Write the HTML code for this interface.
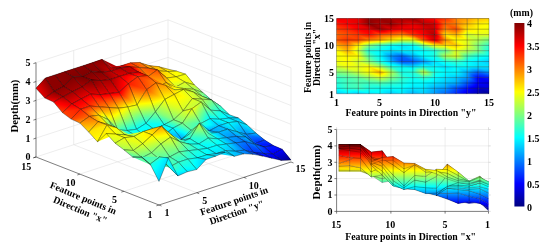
<!DOCTYPE html><html><head><meta charset="utf-8"><style>html,body{margin:0;padding:0;background:#fff;}svg{display:block;}text{font-family:"Liberation Serif",serif;font-weight:bold;fill:#000;}</style></head><body>
<svg width="550" height="250" viewBox="0 0 550 250">
<defs><linearGradient id="a0" gradientUnits="userSpaceOnUse" x1="176.8" y1="71.2" x2="175.1" y2="63.2"><stop offset="0" stop-color="#ffff00"/><stop offset="1" stop-color="#ffbf00"/></linearGradient><linearGradient id="a1" gradientUnits="userSpaceOnUse" x1="176.8" y1="71.2" x2="176.7" y2="71.7"><stop offset="0" stop-color="#ffff00"/><stop offset="1" stop-color="#ffbf00"/></linearGradient><linearGradient id="a2" gradientUnits="userSpaceOnUse" x1="185.6" y1="74.1" x2="167.3" y2="72.6"><stop offset="0" stop-color="#f2ff0d"/><stop offset=".5" stop-color="#ffff00"/><stop offset="1" stop-color="#fff200"/></linearGradient><linearGradient id="a3" gradientUnits="userSpaceOnUse" x1="185.6" y1="74.1" x2="167.6" y2="70.4"><stop offset="0" stop-color="#f2ff0d"/><stop offset=".5" stop-color="#ffff00"/><stop offset="1" stop-color="#fff200"/></linearGradient><linearGradient id="a4" gradientUnits="userSpaceOnUse" x1="167.4" y1="71.5" x2="153.1" y2="76.6"><stop offset="0" stop-color="#fff200"/><stop offset="1" stop-color="#ff9900"/></linearGradient><linearGradient id="a5" gradientUnits="userSpaceOnUse" x1="167.4" y1="71.5" x2="156" y2="59.2"><stop offset="0" stop-color="#fff200"/><stop offset="1" stop-color="#ff9900"/></linearGradient><linearGradient id="a6" gradientUnits="userSpaceOnUse" x1="184.9" y1="82.1" x2="185.7" y2="79.6"><stop offset="0" stop-color="#e5ff1a"/><stop offset="1" stop-color="#ffff00"/></linearGradient><linearGradient id="a7" gradientUnits="userSpaceOnUse" x1="194.4" y1="84.9" x2="175.8" y2="84"><stop offset="0" stop-color="#e5ff1a"/><stop offset="1" stop-color="#ffff00"/></linearGradient><linearGradient id="a8" gradientUnits="userSpaceOnUse" x1="176.1" y1="76.8" x2="160.1" y2="67.2"><stop offset="0" stop-color="#ffff00"/><stop offset="1" stop-color="#ffbf00"/></linearGradient><linearGradient id="a9" gradientUnits="userSpaceOnUse" x1="176.1" y1="76.8" x2="172" y2="82"><stop offset="0" stop-color="#ffff00"/><stop offset="1" stop-color="#ffbf00"/></linearGradient><linearGradient id="a10" gradientUnits="userSpaceOnUse" x1="157.9" y1="70.8" x2="156.3" y2="73.3"><stop offset="0" stop-color="#ffbf00"/><stop offset="1" stop-color="#ff8000"/></linearGradient><linearGradient id="a11" gradientUnits="userSpaceOnUse" x1="157.9" y1="70.8" x2="156.1" y2="59.8"><stop offset="0" stop-color="#ffbf00"/><stop offset="1" stop-color="#ff8000"/></linearGradient><linearGradient id="a12" gradientUnits="userSpaceOnUse" x1="203.1" y1="92.7" x2="183.7" y2="89.4"><stop offset="0" stop-color="#80ff80"/><stop offset="1" stop-color="#e5ff1a"/></linearGradient><linearGradient id="a13" gradientUnits="userSpaceOnUse" x1="203.1" y1="92.7" x2="204.5" y2="87.9"><stop offset="0" stop-color="#80ff80"/><stop offset="1" stop-color="#e5ff1a"/></linearGradient><linearGradient id="a14" gradientUnits="userSpaceOnUse" x1="175.5" y1="87.1" x2="173.9" y2="76.9"><stop offset="0" stop-color="#ccff33"/><stop offset=".667" stop-color="#ffff00"/><stop offset="1" stop-color="#ffe500"/></linearGradient><linearGradient id="a15" gradientUnits="userSpaceOnUse" x1="184.9" y1="82.1" x2="166.5" y2="80.3"><stop offset="0" stop-color="#e5ff1a"/><stop offset=".5" stop-color="#ffff00"/><stop offset="1" stop-color="#ffe500"/></linearGradient><linearGradient id="a16" gradientUnits="userSpaceOnUse" x1="166.7" y1="78" x2="168.3" y2="73.7"><stop offset="0" stop-color="#ffe500"/><stop offset="1" stop-color="#ff4c00"/></linearGradient><linearGradient id="a17" gradientUnits="userSpaceOnUse" x1="166.7" y1="78" x2="156.9" y2="83.4"><stop offset="0" stop-color="#ffe500"/><stop offset="1" stop-color="#ff8000"/></linearGradient><linearGradient id="a18" gradientUnits="userSpaceOnUse" x1="148.5" y1="68.2" x2="145.1" y2="57.8"><stop offset="0" stop-color="#ff8000"/><stop offset="1" stop-color="#ff3300"/></linearGradient><linearGradient id="a19" gradientUnits="userSpaceOnUse" x1="139.7" y1="62.5" x2="136.8" y2="67"><stop offset="0" stop-color="#ff8000"/><stop offset="1" stop-color="#ff3300"/></linearGradient><linearGradient id="a20" gradientUnits="userSpaceOnUse" x1="211.9" y1="100.4" x2="202.5" y2="105.5"><stop offset="0" stop-color="#33ffcc"/><stop offset="1" stop-color="#b3ff4c"/></linearGradient><linearGradient id="a21" gradientUnits="userSpaceOnUse" x1="211.9" y1="100.4" x2="203.6" y2="84.2"><stop offset="0" stop-color="#33ffcc"/><stop offset="1" stop-color="#b3ff4c"/></linearGradient><linearGradient id="a22" gradientUnits="userSpaceOnUse" x1="193.7" y1="89.3" x2="193.6" y2="89.9"><stop offset="0" stop-color="#b3ff4c"/><stop offset="1" stop-color="#e5ff1a"/></linearGradient><linearGradient id="a23" gradientUnits="userSpaceOnUse" x1="193.7" y1="89.3" x2="192.9" y2="81.3"><stop offset="0" stop-color="#b3ff4c"/><stop offset="1" stop-color="#e5ff1a"/></linearGradient><linearGradient id="a24" gradientUnits="userSpaceOnUse" x1="175.5" y1="87.1" x2="159.9" y2="89.2"><stop offset="0" stop-color="#ccff33"/><stop offset=".222" stop-color="#ffff00"/><stop offset="1" stop-color="#ff4c00"/></linearGradient><linearGradient id="a25" gradientUnits="userSpaceOnUse" x1="175.5" y1="87.1" x2="173.1" y2="89"><stop offset="0" stop-color="#ccff33"/><stop offset=".222" stop-color="#ffff00"/><stop offset="1" stop-color="#ff4c00"/></linearGradient><linearGradient id="a26" gradientUnits="userSpaceOnUse" x1="147.9" y1="76.6" x2="151.7" y2="67.4"><stop offset="0" stop-color="#ff8000"/><stop offset="1" stop-color="#ff4c00"/></linearGradient><linearGradient id="a27" gradientUnits="userSpaceOnUse" x1="148.5" y1="68.2" x2="148.4" y2="68.8"><stop offset="0" stop-color="#ff8000"/><stop offset="1" stop-color="#ff4c00"/></linearGradient><linearGradient id="a28" gradientUnits="userSpaceOnUse" x1="139.1" y1="67.5" x2="139" y2="67.8"><stop offset="0" stop-color="#ff6600"/><stop offset=".667" stop-color="#ff0000"/><stop offset="1" stop-color="#cc0000"/></linearGradient><linearGradient id="a29" gradientUnits="userSpaceOnUse" x1="139.1" y1="67.5" x2="120.8" y2="66"><stop offset="0" stop-color="#ff6600"/><stop offset="1" stop-color="#ff0000"/></linearGradient><linearGradient id="a30" gradientUnits="userSpaceOnUse" x1="220.7" y1="106.3" x2="221.6" y2="104"><stop offset="0" stop-color="#1affe5"/><stop offset="1" stop-color="#80ff80"/></linearGradient><linearGradient id="a31" gradientUnits="userSpaceOnUse" x1="220.7" y1="106.3" x2="218.3" y2="109.3"><stop offset="0" stop-color="#1affe5"/><stop offset="1" stop-color="#80ff80"/></linearGradient><linearGradient id="a32" gradientUnits="userSpaceOnUse" x1="202.5" y1="96.5" x2="202.8" y2="95.8"><stop offset="0" stop-color="#80ff80"/><stop offset="1" stop-color="#e5ff1a"/></linearGradient><linearGradient id="a33" gradientUnits="userSpaceOnUse" x1="202.5" y1="96.5" x2="183.7" y2="94.7"><stop offset="0" stop-color="#80ff80"/><stop offset="1" stop-color="#e5ff1a"/></linearGradient><linearGradient id="a34" gradientUnits="userSpaceOnUse" x1="174.9" y1="89.8" x2="175" y2="82.8"><stop offset="0" stop-color="#ccff33"/><stop offset=".4" stop-color="#ffff00"/><stop offset="1" stop-color="#ffb300"/></linearGradient><linearGradient id="a35" gradientUnits="userSpaceOnUse" x1="175.5" y1="87.1" x2="176" y2="84.9"><stop offset="0" stop-color="#ccff33"/><stop offset=".4" stop-color="#ffff00"/><stop offset="1" stop-color="#ffb300"/></linearGradient><linearGradient id="a36" gradientUnits="userSpaceOnUse" x1="156.6" y1="87.6" x2="157" y2="76.9"><stop offset="0" stop-color="#ffe500"/><stop offset="1" stop-color="#ff8000"/></linearGradient><linearGradient id="a37" gradientUnits="userSpaceOnUse" x1="166.1" y1="82.6" x2="165.7" y2="69.5"><stop offset="0" stop-color="#ffb300"/><stop offset="1" stop-color="#ff4c00"/></linearGradient><linearGradient id="a38" gradientUnits="userSpaceOnUse" x1="147.9" y1="76.6" x2="147.3" y2="77.5"><stop offset="0" stop-color="#ff8000"/><stop offset=".714" stop-color="#ff0000"/><stop offset="1" stop-color="#cc0000"/></linearGradient><linearGradient id="a39" gradientUnits="userSpaceOnUse" x1="147.9" y1="76.6" x2="141.6" y2="81.6"><stop offset="0" stop-color="#ff8000"/><stop offset=".714" stop-color="#ff0000"/><stop offset="1" stop-color="#cc0000"/></linearGradient><linearGradient id="a40" gradientUnits="userSpaceOnUse" x1="111.4" y1="67.6" x2="111.5" y2="68.6"><stop offset="0" stop-color="#e50000"/><stop offset="1" stop-color="#ac0000"/></linearGradient><linearGradient id="a41" gradientUnits="userSpaceOnUse" x1="120.9" y1="65.8" x2="121" y2="67.6"><stop offset="0" stop-color="#ff0000"/><stop offset="1" stop-color="#cc0000"/></linearGradient><linearGradient id="a42" gradientUnits="userSpaceOnUse" x1="229.5" y1="114.8" x2="231.4" y2="103.2"><stop offset="0" stop-color="#00ffff"/><stop offset="1" stop-color="#80ff80"/></linearGradient><linearGradient id="a43" gradientUnits="userSpaceOnUse" x1="229.5" y1="114.8" x2="227.1" y2="117"><stop offset="0" stop-color="#00ffff"/><stop offset="1" stop-color="#80ff80"/></linearGradient><linearGradient id="a44" gradientUnits="userSpaceOnUse" x1="211.3" y1="99.9" x2="192.5" y2="98.1"><stop offset="0" stop-color="#80ff80"/><stop offset="1" stop-color="#e5ff1a"/></linearGradient><linearGradient id="a45" gradientUnits="userSpaceOnUse" x1="202.5" y1="96.5" x2="202.8" y2="95.8"><stop offset="0" stop-color="#80ff80"/><stop offset="1" stop-color="#e5ff1a"/></linearGradient><linearGradient id="a46" gradientUnits="userSpaceOnUse" x1="174.9" y1="89.8" x2="175.6" y2="87.2"><stop offset="0" stop-color="#ccff33"/><stop offset="1" stop-color="#e5ff1a"/></linearGradient><linearGradient id="a47" gradientUnits="userSpaceOnUse" x1="174.9" y1="89.8" x2="176.5" y2="85.6"><stop offset="0" stop-color="#ccff33"/><stop offset="1" stop-color="#e5ff1a"/></linearGradient><linearGradient id="a48" gradientUnits="userSpaceOnUse" x1="174.9" y1="89.8" x2="174.9" y2="85.3"><stop offset="0" stop-color="#ccff33"/><stop offset=".333" stop-color="#ffff00"/><stop offset="1" stop-color="#ff9900"/></linearGradient><linearGradient id="a49" gradientUnits="userSpaceOnUse" x1="174.9" y1="89.8" x2="173.5" y2="81.4"><stop offset="0" stop-color="#ccff33"/><stop offset=".4" stop-color="#ffff00"/><stop offset="1" stop-color="#ffb300"/></linearGradient><linearGradient id="a50" gradientUnits="userSpaceOnUse" x1="156.6" y1="87.6" x2="139.7" y2="70.8"><stop offset="0" stop-color="#ffe500"/><stop offset=".818" stop-color="#ff0000"/><stop offset="1" stop-color="#cc0000"/></linearGradient><linearGradient id="a51" gradientUnits="userSpaceOnUse" x1="156.6" y1="87.6" x2="146.3" y2="91.7"><stop offset="0" stop-color="#ffe500"/><stop offset=".818" stop-color="#ff0000"/><stop offset="1" stop-color="#cc0000"/></linearGradient><linearGradient id="a52" gradientUnits="userSpaceOnUse" x1="238.3" y1="117.9" x2="228.2" y2="104.7"><stop offset="0" stop-color="#00ccff"/><stop offset=".667" stop-color="#00ffff"/><stop offset="1" stop-color="#1affe5"/></linearGradient><linearGradient id="a53" gradientUnits="userSpaceOnUse" x1="238.3" y1="117.9" x2="237.7" y2="119.2"><stop offset="0" stop-color="#00ccff"/><stop offset=".667" stop-color="#00ffff"/><stop offset="1" stop-color="#1affe5"/></linearGradient><linearGradient id="a54" gradientUnits="userSpaceOnUse" x1="129" y1="73.3" x2="128.8" y2="67.8"><stop offset="0" stop-color="#d20000"/><stop offset="1" stop-color="#ac0000"/></linearGradient><linearGradient id="a55" gradientUnits="userSpaceOnUse" x1="129.6" y1="66.8" x2="126.6" y2="71.9"><stop offset="0" stop-color="#cc0000"/><stop offset="1" stop-color="#ac0000"/></linearGradient><linearGradient id="a56" gradientUnits="userSpaceOnUse" x1="110.8" y1="71.1" x2="111.9" y2="60.4"><stop offset="0" stop-color="#bf0000"/><stop offset="1" stop-color="#8c0000"/></linearGradient><linearGradient id="a57" gradientUnits="userSpaceOnUse" x1="111.4" y1="67.6" x2="113" y2="63.6"><stop offset="0" stop-color="#e50000"/><stop offset="1" stop-color="#8c0000"/></linearGradient><linearGradient id="a58" gradientUnits="userSpaceOnUse" x1="220.1" y1="110.9" x2="205.6" y2="95.7"><stop offset="0" stop-color="#1affe5"/><stop offset="1" stop-color="#b3ff4c"/></linearGradient><linearGradient id="a59" gradientUnits="userSpaceOnUse" x1="220.1" y1="110.9" x2="205.6" y2="95.7"><stop offset="0" stop-color="#1affe5"/><stop offset="1" stop-color="#b3ff4c"/></linearGradient><linearGradient id="a60" gradientUnits="userSpaceOnUse" x1="201.9" y1="99.2" x2="197.3" y2="103.6"><stop offset="0" stop-color="#b3ff4c"/><stop offset="1" stop-color="#e5ff1a"/></linearGradient><linearGradient id="a61" gradientUnits="userSpaceOnUse" x1="201.9" y1="99.2" x2="203.1" y2="94.8"><stop offset="0" stop-color="#b3ff4c"/><stop offset="1" stop-color="#e5ff1a"/></linearGradient><linearGradient id="a62" gradientUnits="userSpaceOnUse" x1="183.6" y1="89.5" x2="166" y2="83.7"><stop offset="0" stop-color="#e5ff1a"/><stop offset=".2" stop-color="#ffff00"/><stop offset="1" stop-color="#ff9900"/></linearGradient><linearGradient id="a63" gradientUnits="userSpaceOnUse" x1="174.9" y1="89.8" x2="175" y2="85.7"><stop offset="0" stop-color="#ccff33"/><stop offset=".333" stop-color="#ffff00"/><stop offset="1" stop-color="#ff9900"/></linearGradient><linearGradient id="a64" gradientUnits="userSpaceOnUse" x1="165.4" y1="85.3" x2="165.7" y2="76.1"><stop offset="0" stop-color="#ff9900"/><stop offset="1" stop-color="#ff3300"/></linearGradient><linearGradient id="a65" gradientUnits="userSpaceOnUse" x1="156.6" y1="87.6" x2="158.8" y2="78.2"><stop offset="0" stop-color="#ffe500"/><stop offset="1" stop-color="#ff3300"/></linearGradient><linearGradient id="a66" gradientUnits="userSpaceOnUse" x1="238.3" y1="117.9" x2="237.1" y2="121.2"><stop offset="0" stop-color="#00ccff"/><stop offset="1" stop-color="#00e5ff"/></linearGradient><linearGradient id="a67" gradientUnits="userSpaceOnUse" x1="228.9" y1="118.1" x2="219.9" y2="104.2"><stop offset="0" stop-color="#00e5ff"/><stop offset=".25" stop-color="#00ffff"/><stop offset="1" stop-color="#4dffb2"/></linearGradient><linearGradient id="a68" gradientUnits="userSpaceOnUse" x1="228.9" y1="118.1" x2="210" y2="116.3"><stop offset="0" stop-color="#00e5ff"/><stop offset=".25" stop-color="#00ffff"/><stop offset="1" stop-color="#4dffb2"/></linearGradient><linearGradient id="a69" gradientUnits="userSpaceOnUse" x1="119.6" y1="76.4" x2="118.6" y2="69.9"><stop offset="0" stop-color="#d90000"/><stop offset="1" stop-color="#bf0000"/></linearGradient><linearGradient id="a70" gradientUnits="userSpaceOnUse" x1="129" y1="73.3" x2="128.8" y2="67.7"><stop offset="0" stop-color="#d20000"/><stop offset="1" stop-color="#ac0000"/></linearGradient><linearGradient id="a71" gradientUnits="userSpaceOnUse" x1="137.8" y1="76.7" x2="137.2" y2="72.3"><stop offset="0" stop-color="#ff3300"/><stop offset=".533" stop-color="#ff0000"/><stop offset="1" stop-color="#d20000"/></linearGradient><linearGradient id="a72" gradientUnits="userSpaceOnUse" x1="147.2" y1="75.6" x2="146.8" y2="71.3"><stop offset="0" stop-color="#ff3300"/><stop offset=".5" stop-color="#ff0000"/><stop offset="1" stop-color="#cc0000"/></linearGradient><linearGradient id="a73" gradientUnits="userSpaceOnUse" x1="110.8" y1="71.1" x2="105" y2="76.3"><stop offset="0" stop-color="#bf0000"/><stop offset="1" stop-color="#8c0000"/></linearGradient><linearGradient id="a74" gradientUnits="userSpaceOnUse" x1="110.8" y1="71.1" x2="106.2" y2="57.9"><stop offset="0" stop-color="#bf0000"/><stop offset="1" stop-color="#8c0000"/></linearGradient><linearGradient id="a75" gradientUnits="userSpaceOnUse" x1="210.6" y1="110.2" x2="212.2" y2="102.8"><stop offset="0" stop-color="#4dffb2"/><stop offset="1" stop-color="#e5ff1a"/></linearGradient><linearGradient id="a76" gradientUnits="userSpaceOnUse" x1="210.6" y1="110.2" x2="196.2" y2="95"><stop offset="0" stop-color="#4dffb2"/><stop offset="1" stop-color="#e5ff1a"/></linearGradient><linearGradient id="a77" gradientUnits="userSpaceOnUse" x1="183" y1="111" x2="173.8" y2="94.7"><stop offset="0" stop-color="#ccff33"/><stop offset=".667" stop-color="#ffff00"/><stop offset="1" stop-color="#ffe500"/></linearGradient><linearGradient id="a78" gradientUnits="userSpaceOnUse" x1="183.6" y1="89.5" x2="176.3" y2="96.6"><stop offset="0" stop-color="#e5ff1a"/><stop offset=".5" stop-color="#ffff00"/><stop offset="1" stop-color="#ffe500"/></linearGradient><linearGradient id="a79" gradientUnits="userSpaceOnUse" x1="164.8" y1="99.4" x2="162.2" y2="81.8"><stop offset="0" stop-color="#ffff00"/><stop offset="1" stop-color="#ff8000"/></linearGradient><linearGradient id="a80" gradientUnits="userSpaceOnUse" x1="174.2" y1="94.4" x2="173.3" y2="81.6"><stop offset="0" stop-color="#ffe500"/><stop offset="1" stop-color="#ff8000"/></linearGradient><linearGradient id="a81" gradientUnits="userSpaceOnUse" x1="246.4" y1="134.4" x2="249.7" y2="126.5"><stop offset="0" stop-color="#008cff"/><stop offset="1" stop-color="#00e5ff"/></linearGradient><linearGradient id="a82" gradientUnits="userSpaceOnUse" x1="255.9" y1="133" x2="257.4" y2="128.6"><stop offset="0" stop-color="#00bfff"/><stop offset="1" stop-color="#00e5ff"/></linearGradient><linearGradient id="a83" gradientUnits="userSpaceOnUse" x1="237.6" y1="121.5" x2="236" y2="125.8"><stop offset="0" stop-color="#00e5ff"/><stop offset="1" stop-color="#00ffff"/></linearGradient><linearGradient id="a84" gradientUnits="userSpaceOnUse" x1="228.9" y1="118.1" x2="227.2" y2="122.3"><stop offset="0" stop-color="#00e5ff"/><stop offset="1" stop-color="#00ffff"/></linearGradient><linearGradient id="a85" gradientUnits="userSpaceOnUse" x1="156" y1="82.8" x2="139" y2="85.2"><stop offset="0" stop-color="#ff8000"/><stop offset="1" stop-color="#ff3300"/></linearGradient><linearGradient id="a86" gradientUnits="userSpaceOnUse" x1="156" y1="82.8" x2="155" y2="74.6"><stop offset="0" stop-color="#ff8000"/><stop offset="1" stop-color="#ff3300"/></linearGradient><linearGradient id="a87" gradientUnits="userSpaceOnUse" x1="119.6" y1="76.4" x2="106.2" y2="82.6"><stop offset="0" stop-color="#d90000"/><stop offset="1" stop-color="#8c0000"/></linearGradient><linearGradient id="a88" gradientUnits="userSpaceOnUse" x1="119.6" y1="76.4" x2="109.2" y2="83.6"><stop offset="0" stop-color="#d90000"/><stop offset="1" stop-color="#8c0000"/></linearGradient><linearGradient id="a89" gradientUnits="userSpaceOnUse" x1="137.8" y1="76.7" x2="125.2" y2="68.1"><stop offset="0" stop-color="#ff3300"/><stop offset=".571" stop-color="#ff0000"/><stop offset="1" stop-color="#d90000"/></linearGradient><linearGradient id="a90" gradientUnits="userSpaceOnUse" x1="137.8" y1="76.7" x2="136.2" y2="71.3"><stop offset="0" stop-color="#ff3300"/><stop offset=".533" stop-color="#ff0000"/><stop offset="1" stop-color="#d20000"/></linearGradient><linearGradient id="a91" gradientUnits="userSpaceOnUse" x1="83.1" y1="65.7" x2="82.3" y2="68.1"><stop offset="0" stop-color="#8c0000"/><stop offset="1" stop-color="#800000"/></linearGradient><linearGradient id="a92" gradientUnits="userSpaceOnUse" x1="210" y1="118.6" x2="212.5" y2="103.9"><stop offset="0" stop-color="#00f2ff"/><stop offset=".06" stop-color="#00ffff"/><stop offset="1" stop-color="#c7ff38"/></linearGradient><linearGradient id="a93" gradientUnits="userSpaceOnUse" x1="219.4" y1="119.3" x2="215.9" y2="121.9"><stop offset="0" stop-color="#00ffff"/><stop offset="1" stop-color="#c7ff38"/></linearGradient><linearGradient id="a94" gradientUnits="userSpaceOnUse" x1="173.6" y1="119.8" x2="177.7" y2="102.5"><stop offset="0" stop-color="#80ff80"/><stop offset="1" stop-color="#ffff00"/></linearGradient><linearGradient id="a95" gradientUnits="userSpaceOnUse" x1="183" y1="111" x2="183.8" y2="94.9"><stop offset="0" stop-color="#ccff33"/><stop offset=".667" stop-color="#ffff00"/><stop offset="1" stop-color="#ffe500"/></linearGradient><linearGradient id="a96" gradientUnits="userSpaceOnUse" x1="201.2" y1="102" x2="202.1" y2="103.8"><stop offset="0" stop-color="#c7ff38"/><stop offset="1" stop-color="#faff05"/></linearGradient><linearGradient id="a97" gradientUnits="userSpaceOnUse" x1="201.2" y1="102" x2="197.5" y2="95.6"><stop offset="0" stop-color="#c7ff38"/><stop offset="1" stop-color="#e5ff1a"/></linearGradient><linearGradient id="a98" gradientUnits="userSpaceOnUse" x1="155.4" y1="111.9" x2="149.4" y2="88.9"><stop offset="0" stop-color="#87ff78"/><stop offset=".409" stop-color="#ffff00"/><stop offset="1" stop-color="#ff5200"/></linearGradient><linearGradient id="a99" gradientUnits="userSpaceOnUse" x1="164.8" y1="99.4" x2="146.2" y2="90.3"><stop offset="0" stop-color="#ffff00"/><stop offset="1" stop-color="#ff5200"/></linearGradient><linearGradient id="a100" gradientUnits="userSpaceOnUse" x1="255.2" y1="143.5" x2="254.2" y2="133.6"><stop offset="0" stop-color="#0026ff"/><stop offset="1" stop-color="#008cff"/></linearGradient><linearGradient id="a101" gradientUnits="userSpaceOnUse" x1="264.6" y1="140" x2="265.3" y2="134.1"><stop offset="0" stop-color="#0040ff"/><stop offset="1" stop-color="#00bfff"/></linearGradient><linearGradient id="a102" gradientUnits="userSpaceOnUse" x1="137.1" y1="104.9" x2="138.7" y2="84.3"><stop offset="0" stop-color="#f5ff0a"/><stop offset=".043" stop-color="#ffff00"/><stop offset="1" stop-color="#ff1c00"/></linearGradient><linearGradient id="a103" gradientUnits="userSpaceOnUse" x1="146.6" y1="89.6" x2="127.9" y2="86.4"><stop offset="0" stop-color="#ff5200"/><stop offset="1" stop-color="#ff1c00"/></linearGradient><linearGradient id="a104" gradientUnits="userSpaceOnUse" x1="128.4" y1="83.6" x2="109.9" y2="81.6"><stop offset="0" stop-color="#ff1c00"/><stop offset=".239" stop-color="#ff0000"/><stop offset="1" stop-color="#a60000"/></linearGradient><linearGradient id="a105" gradientUnits="userSpaceOnUse" x1="128.4" y1="83.6" x2="110.6" y2="78.1"><stop offset="0" stop-color="#ff1c00"/><stop offset=".239" stop-color="#ff0000"/><stop offset="1" stop-color="#a60000"/></linearGradient><linearGradient id="a106" gradientUnits="userSpaceOnUse" x1="246.4" y1="134.4" x2="236.9" y2="139.4"><stop offset="0" stop-color="#008cff"/><stop offset="1" stop-color="#00ffff"/></linearGradient><linearGradient id="a107" gradientUnits="userSpaceOnUse" x1="246.4" y1="134.4" x2="234.9" y2="118"><stop offset="0" stop-color="#008cff"/><stop offset="1" stop-color="#00ffff"/></linearGradient><linearGradient id="a108" gradientUnits="userSpaceOnUse" x1="164.1" y1="124.7" x2="167.4" y2="116.7"><stop offset="0" stop-color="#08fff7"/><stop offset="1" stop-color="#87ff78"/></linearGradient><linearGradient id="a109" gradientUnits="userSpaceOnUse" x1="173.6" y1="119.8" x2="179.2" y2="104.8"><stop offset="0" stop-color="#80ff80"/><stop offset="1" stop-color="#ffff00"/></linearGradient><linearGradient id="a110" gradientUnits="userSpaceOnUse" x1="218.8" y1="125.8" x2="220.3" y2="120.4"><stop offset="0" stop-color="#00bfff"/><stop offset="1" stop-color="#00ffff"/></linearGradient><linearGradient id="a111" gradientUnits="userSpaceOnUse" x1="210" y1="118.6" x2="211" y2="116"><stop offset="0" stop-color="#00f2ff"/><stop offset="1" stop-color="#00ffff"/></linearGradient><linearGradient id="a112" gradientUnits="userSpaceOnUse" x1="182.4" y1="123.2" x2="188.5" y2="107.5"><stop offset="0" stop-color="#80ff80"/><stop offset="1" stop-color="#faff05"/></linearGradient><linearGradient id="a113" gradientUnits="userSpaceOnUse" x1="173.6" y1="119.8" x2="187.8" y2="105"><stop offset="0" stop-color="#80ff80"/><stop offset="1" stop-color="#faff05"/></linearGradient><linearGradient id="a114" gradientUnits="userSpaceOnUse" x1="100.7" y1="80.6" x2="99.5" y2="70.6"><stop offset="0" stop-color="#a60000"/><stop offset="1" stop-color="#800000"/></linearGradient><linearGradient id="a115" gradientUnits="userSpaceOnUse" x1="110.1" y1="79.5" x2="102.2" y2="65.6"><stop offset="0" stop-color="#a60000"/><stop offset="1" stop-color="#800000"/></linearGradient><linearGradient id="a116" gradientUnits="userSpaceOnUse" x1="145.9" y1="123.4" x2="143.3" y2="104.1"><stop offset="0" stop-color="#0ffff0"/><stop offset="1" stop-color="#f5ff0a"/></linearGradient><linearGradient id="a117" gradientUnits="userSpaceOnUse" x1="155.4" y1="111.9" x2="153.2" y2="89"><stop offset="0" stop-color="#87ff78"/><stop offset=".409" stop-color="#ffff00"/><stop offset="1" stop-color="#ff5200"/></linearGradient><linearGradient id="a118" gradientUnits="userSpaceOnUse" x1="73.7" y1="68.7" x2="78.8" y2="78.4"><stop offset="0" stop-color="#8c0000"/><stop offset="1" stop-color="#800000"/></linearGradient><linearGradient id="a119" gradientUnits="userSpaceOnUse" x1="73.7" y1="68.7" x2="76.3" y2="76.6"><stop offset="0" stop-color="#8c0000"/><stop offset="1" stop-color="#800000"/></linearGradient><linearGradient id="a120" gradientUnits="userSpaceOnUse" x1="210" y1="118.6" x2="191.7" y2="108.9"><stop offset="0" stop-color="#00f2ff"/><stop offset=".049" stop-color="#00ffff"/><stop offset="1" stop-color="#faff05"/></linearGradient><linearGradient id="a121" gradientUnits="userSpaceOnUse" x1="210" y1="118.6" x2="192.9" y2="107.1"><stop offset="0" stop-color="#00f2ff"/><stop offset=".049" stop-color="#00ffff"/><stop offset="1" stop-color="#faff05"/></linearGradient><linearGradient id="a122" gradientUnits="userSpaceOnUse" x1="137.1" y1="104.9" x2="132.3" y2="88.4"><stop offset="0" stop-color="#f5ff0a"/><stop offset=".035" stop-color="#ffff00"/><stop offset=".912" stop-color="#ff0000"/><stop offset="1" stop-color="#e50000"/></linearGradient><linearGradient id="a123" gradientUnits="userSpaceOnUse" x1="137.1" y1="104.9" x2="117.8" y2="94.3"><stop offset="0" stop-color="#f5ff0a"/><stop offset=".035" stop-color="#ffff00"/><stop offset=".912" stop-color="#ff0000"/><stop offset="1" stop-color="#e50000"/></linearGradient><linearGradient id="a124" gradientUnits="userSpaceOnUse" x1="273.4" y1="145.5" x2="271.7" y2="149.9"><stop offset="0" stop-color="#000dff"/><stop offset="1" stop-color="#0026ff"/></linearGradient><linearGradient id="a125" gradientUnits="userSpaceOnUse" x1="273.4" y1="145.5" x2="273.1" y2="139.6"><stop offset="0" stop-color="#000dff"/><stop offset="1" stop-color="#0040ff"/></linearGradient><linearGradient id="a126" gradientUnits="userSpaceOnUse" x1="154.7" y1="129.7" x2="153.3" y2="122"><stop offset="0" stop-color="#03fffc"/><stop offset="1" stop-color="#0ffff0"/></linearGradient><linearGradient id="a127" gradientUnits="userSpaceOnUse" x1="164.1" y1="124.7" x2="164.5" y2="112.1"><stop offset="0" stop-color="#08fff7"/><stop offset="1" stop-color="#87ff78"/></linearGradient><linearGradient id="a128" gradientUnits="userSpaceOnUse" x1="255.2" y1="143.5" x2="255.6" y2="142.8"><stop offset="0" stop-color="#0026ff"/><stop offset="1" stop-color="#00d9ff"/></linearGradient><linearGradient id="a129" gradientUnits="userSpaceOnUse" x1="255.2" y1="143.5" x2="237.3" y2="131.4"><stop offset="0" stop-color="#0026ff"/><stop offset="1" stop-color="#00d9ff"/></linearGradient><linearGradient id="a130" gradientUnits="userSpaceOnUse" x1="172.9" y1="128.2" x2="175.6" y2="120.8"><stop offset="0" stop-color="#04fffb"/><stop offset="1" stop-color="#80ff80"/></linearGradient><linearGradient id="a131" gradientUnits="userSpaceOnUse" x1="164.1" y1="124.7" x2="167.1" y2="117.2"><stop offset="0" stop-color="#08fff7"/><stop offset="1" stop-color="#80ff80"/></linearGradient><linearGradient id="a132" gradientUnits="userSpaceOnUse" x1="109.5" y1="93.5" x2="107.8" y2="79.7"><stop offset="0" stop-color="#e50000"/><stop offset="1" stop-color="#a60000"/></linearGradient><linearGradient id="a133" gradientUnits="userSpaceOnUse" x1="118.9" y1="92.3" x2="117.2" y2="78.6"><stop offset="0" stop-color="#e50000"/><stop offset="1" stop-color="#a60000"/></linearGradient><linearGradient id="a134" gradientUnits="userSpaceOnUse" x1="136.5" y1="129.3" x2="126.5" y2="107.6"><stop offset="0" stop-color="#00ffff"/><stop offset="1" stop-color="#ffff00"/></linearGradient><linearGradient id="a135" gradientUnits="userSpaceOnUse" x1="145.9" y1="123.4" x2="139.3" y2="103.2"><stop offset="0" stop-color="#0ffff0"/><stop offset="1" stop-color="#ffff00"/></linearGradient><linearGradient id="a136" gradientUnits="userSpaceOnUse" x1="209.4" y1="130.8" x2="206.2" y2="121.6"><stop offset="0" stop-color="#00a6ff"/><stop offset=".583" stop-color="#00ffff"/><stop offset="1" stop-color="#40ffbf"/></linearGradient><linearGradient id="a137" gradientUnits="userSpaceOnUse" x1="218.8" y1="125.8" x2="202.1" y2="129.8"><stop offset="0" stop-color="#00bfff"/><stop offset=".5" stop-color="#00ffff"/><stop offset="1" stop-color="#40ffbf"/></linearGradient><linearGradient id="a138" gradientUnits="userSpaceOnUse" x1="227.6" y1="129.2" x2="227.9" y2="128.3"><stop offset="0" stop-color="#00bfff"/><stop offset="1" stop-color="#00d9ff"/></linearGradient><linearGradient id="a139" gradientUnits="userSpaceOnUse" x1="218.8" y1="125.8" x2="221.9" y2="119.6"><stop offset="0" stop-color="#00bfff"/><stop offset="1" stop-color="#00ffff"/></linearGradient><linearGradient id="a140" gradientUnits="userSpaceOnUse" x1="200.6" y1="123.6" x2="189.7" y2="114.4"><stop offset="0" stop-color="#40ffbf"/><stop offset="1" stop-color="#80ff80"/></linearGradient><linearGradient id="a141" gradientUnits="userSpaceOnUse" x1="200.6" y1="123.6" x2="195.7" y2="107.6"><stop offset="0" stop-color="#40ffbf"/><stop offset="1" stop-color="#faff05"/></linearGradient><linearGradient id="a142" gradientUnits="userSpaceOnUse" x1="100.7" y1="80.6" x2="99.7" y2="83.2"><stop offset="0" stop-color="#a60000"/><stop offset="1" stop-color="#800000"/></linearGradient><linearGradient id="a143" gradientUnits="userSpaceOnUse" x1="100.7" y1="80.6" x2="95.1" y2="69.9"><stop offset="0" stop-color="#a60000"/><stop offset="1" stop-color="#800000"/></linearGradient><linearGradient id="a144" gradientUnits="userSpaceOnUse" x1="64.3" y1="71.8" x2="64.4" y2="77"><stop offset="0" stop-color="#8c0000"/><stop offset="1" stop-color="#800000"/></linearGradient><linearGradient id="a145" gradientUnits="userSpaceOnUse" x1="64.3" y1="71.8" x2="67.4" y2="81.4"><stop offset="0" stop-color="#8c0000"/><stop offset="1" stop-color="#800000"/></linearGradient><linearGradient id="a146" gradientUnits="userSpaceOnUse" x1="127.7" y1="107" x2="117" y2="89"><stop offset="0" stop-color="#ffff00"/><stop offset=".909" stop-color="#ff0000"/><stop offset="1" stop-color="#e50000"/></linearGradient><linearGradient id="a147" gradientUnits="userSpaceOnUse" x1="127.7" y1="107" x2="125.8" y2="91.4"><stop offset="0" stop-color="#ffff00"/><stop offset=".909" stop-color="#ff0000"/><stop offset="1" stop-color="#e50000"/></linearGradient><linearGradient id="a148" gradientUnits="userSpaceOnUse" x1="136.5" y1="129.3" x2="137" y2="137.1"><stop offset="0" stop-color="#00ffff"/><stop offset="1" stop-color="#0dfff2"/></linearGradient><linearGradient id="a149" gradientUnits="userSpaceOnUse" x1="136.5" y1="129.3" x2="137" y2="122.7"><stop offset="0" stop-color="#00ffff"/><stop offset="1" stop-color="#0ffff0"/></linearGradient><linearGradient id="a150" gradientUnits="userSpaceOnUse" x1="272.8" y1="154.1" x2="270.4" y2="145.2"><stop offset="0" stop-color="#0000f2"/><stop offset=".25" stop-color="#0000ff"/><stop offset="1" stop-color="#0026ff"/></linearGradient><linearGradient id="a151" gradientUnits="userSpaceOnUse" x1="282.2" y1="149.2" x2="273.7" y2="157.2"><stop offset="0" stop-color="#0000ff"/><stop offset="1" stop-color="#0026ff"/></linearGradient><linearGradient id="a152" gradientUnits="userSpaceOnUse" x1="163.5" y1="135.9" x2="163" y2="128.9"><stop offset="0" stop-color="#00baff"/><stop offset=".947" stop-color="#00ffff"/><stop offset="1" stop-color="#04fffb"/></linearGradient><linearGradient id="a153" gradientUnits="userSpaceOnUse" x1="154.7" y1="129.7" x2="154.6" y2="124.9"><stop offset="0" stop-color="#03fffc"/><stop offset="1" stop-color="#08fff7"/></linearGradient><linearGradient id="a154" gradientUnits="userSpaceOnUse" x1="264" y1="146.9" x2="251.4" y2="151.7"><stop offset="0" stop-color="#0026ff"/><stop offset="1" stop-color="#00bfff"/></linearGradient><linearGradient id="a155" gradientUnits="userSpaceOnUse" x1="255.2" y1="143.5" x2="256.1" y2="141.2"><stop offset="0" stop-color="#0026ff"/><stop offset="1" stop-color="#00bfff"/></linearGradient><linearGradient id="a156" gradientUnits="userSpaceOnUse" x1="181.7" y1="139.1" x2="186.1" y2="128.3"><stop offset="0" stop-color="#0099ff"/><stop offset=".571" stop-color="#00ffff"/><stop offset="1" stop-color="#4cffb3"/></linearGradient><linearGradient id="a157" gradientUnits="userSpaceOnUse" x1="172.9" y1="128.2" x2="176" y2="120.6"><stop offset="0" stop-color="#04fffb"/><stop offset="1" stop-color="#80ff80"/></linearGradient><linearGradient id="a158" gradientUnits="userSpaceOnUse" x1="136.5" y1="129.3" x2="127.4" y2="104.8"><stop offset="0" stop-color="#00ffff"/><stop offset=".833" stop-color="#ffff00"/><stop offset="1" stop-color="#ffcc00"/></linearGradient><linearGradient id="a159" gradientUnits="userSpaceOnUse" x1="136.5" y1="129.3" x2="120" y2="106.9"><stop offset="0" stop-color="#00ffff"/><stop offset=".833" stop-color="#ffff00"/><stop offset="1" stop-color="#ffcc00"/></linearGradient><linearGradient id="a160" gradientUnits="userSpaceOnUse" x1="209.4" y1="130.8" x2="192.5" y2="135.4"><stop offset="0" stop-color="#00a6ff"/><stop offset=".538" stop-color="#00ffff"/><stop offset="1" stop-color="#4cffb3"/></linearGradient><linearGradient id="a161" gradientUnits="userSpaceOnUse" x1="209.4" y1="130.8" x2="201.5" y2="121.6"><stop offset="0" stop-color="#00a6ff"/><stop offset=".538" stop-color="#00ffff"/><stop offset="1" stop-color="#4cffb3"/></linearGradient><linearGradient id="a162" gradientUnits="userSpaceOnUse" x1="100.1" y1="94.7" x2="98.1" y2="79.1"><stop offset="0" stop-color="#e50000"/><stop offset="1" stop-color="#800000"/></linearGradient><linearGradient id="a163" gradientUnits="userSpaceOnUse" x1="109.5" y1="93.5" x2="90.1" y2="82"><stop offset="0" stop-color="#e50000"/><stop offset="1" stop-color="#800000"/></linearGradient><linearGradient id="a164" gradientUnits="userSpaceOnUse" x1="236.4" y1="136.4" x2="237.6" y2="133.6"><stop offset="0" stop-color="#008cff"/><stop offset="1" stop-color="#00bfff"/></linearGradient><linearGradient id="a165" gradientUnits="userSpaceOnUse" x1="227.6" y1="129.2" x2="228.1" y2="128"><stop offset="0" stop-color="#00bfff"/><stop offset="1" stop-color="#00d9ff"/></linearGradient><linearGradient id="a166" gradientUnits="userSpaceOnUse" x1="209.4" y1="130.8" x2="210.7" y2="134.7"><stop offset="0" stop-color="#00a6ff"/><stop offset="1" stop-color="#00bfff"/></linearGradient><linearGradient id="a167" gradientUnits="userSpaceOnUse" x1="209.4" y1="130.8" x2="212.3" y2="123.3"><stop offset="0" stop-color="#00a6ff"/><stop offset="1" stop-color="#00bfff"/></linearGradient><linearGradient id="a168" gradientUnits="userSpaceOnUse" x1="63.6" y1="86.4" x2="74.3" y2="78.3"><stop offset="0" stop-color="#8c0000"/><stop offset="1" stop-color="#800000"/></linearGradient><linearGradient id="a169" gradientUnits="userSpaceOnUse" x1="54.9" y1="74.9" x2="57.2" y2="81.9"><stop offset="0" stop-color="#8c0000"/><stop offset="1" stop-color="#800000"/></linearGradient><linearGradient id="a170" gradientUnits="userSpaceOnUse" x1="81.9" y1="86.8" x2="83.3" y2="78.5"><stop offset="0" stop-color="#a60000"/><stop offset="1" stop-color="#800000"/></linearGradient><linearGradient id="a171" gradientUnits="userSpaceOnUse" x1="154.1" y1="145.6" x2="149.7" y2="134.7"><stop offset="0" stop-color="#0073ff"/><stop offset=".917" stop-color="#00ffff"/><stop offset="1" stop-color="#0dfff2"/></linearGradient><linearGradient id="a172" gradientUnits="userSpaceOnUse" x1="163.5" y1="135.9" x2="155.2" y2="127.2"><stop offset="0" stop-color="#00baff"/><stop offset=".844" stop-color="#00ffff"/><stop offset="1" stop-color="#0dfff2"/></linearGradient><linearGradient id="a173" gradientUnits="userSpaceOnUse" x1="291" y1="160.1" x2="279.3" y2="147.9"><stop offset="0" stop-color="#00008c"/><stop offset="1" stop-color="#0000f2"/></linearGradient><linearGradient id="a174" gradientUnits="userSpaceOnUse" x1="291" y1="160.1" x2="286.5" y2="147.6"><stop offset="0" stop-color="#00008c"/><stop offset="1" stop-color="#0000ff"/></linearGradient><linearGradient id="a175" gradientUnits="userSpaceOnUse" x1="135.9" y1="135.8" x2="136.6" y2="132.8"><stop offset="0" stop-color="#00ffff"/><stop offset="1" stop-color="#1affe5"/></linearGradient><linearGradient id="a176" gradientUnits="userSpaceOnUse" x1="136.5" y1="129.3" x2="134.2" y2="134"><stop offset="0" stop-color="#00ffff"/><stop offset="1" stop-color="#1affe5"/></linearGradient><linearGradient id="a177" gradientUnits="userSpaceOnUse" x1="172.3" y1="146" x2="172.1" y2="135.8"><stop offset="0" stop-color="#0059ff"/><stop offset="1" stop-color="#00baff"/></linearGradient><linearGradient id="a178" gradientUnits="userSpaceOnUse" x1="181.7" y1="139.1" x2="181.5" y2="128"><stop offset="0" stop-color="#0099ff"/><stop offset=".964" stop-color="#00ffff"/><stop offset="1" stop-color="#04fffb"/></linearGradient><linearGradient id="a179" gradientUnits="userSpaceOnUse" x1="118.3" y1="108.2" x2="105.9" y2="90.6"><stop offset="0" stop-color="#ffcc00"/><stop offset=".889" stop-color="#ff0000"/><stop offset="1" stop-color="#e50000"/></linearGradient><linearGradient id="a180" gradientUnits="userSpaceOnUse" x1="118.3" y1="108.2" x2="116.3" y2="92.6"><stop offset="0" stop-color="#ffcc00"/><stop offset=".889" stop-color="#ff0000"/><stop offset="1" stop-color="#e50000"/></linearGradient><linearGradient id="a181" gradientUnits="userSpaceOnUse" x1="272.8" y1="154.1" x2="253.4" y2="148.2"><stop offset="0" stop-color="#0000f2"/><stop offset=".091" stop-color="#0000ff"/><stop offset="1" stop-color="#0080ff"/></linearGradient><linearGradient id="a182" gradientUnits="userSpaceOnUse" x1="272.8" y1="154.1" x2="263.6" y2="159.6"><stop offset="0" stop-color="#0000f2"/><stop offset=".091" stop-color="#0000ff"/><stop offset="1" stop-color="#0080ff"/></linearGradient><linearGradient id="a183" gradientUnits="userSpaceOnUse" x1="181.7" y1="139.1" x2="180.9" y2="135.2"><stop offset="0" stop-color="#0099ff"/><stop offset=".8" stop-color="#00ffff"/><stop offset="1" stop-color="#1affe5"/></linearGradient><linearGradient id="a184" gradientUnits="userSpaceOnUse" x1="181.7" y1="139.1" x2="180.5" y2="132.2"><stop offset="0" stop-color="#0099ff"/><stop offset=".571" stop-color="#00ffff"/><stop offset="1" stop-color="#4cffb3"/></linearGradient><linearGradient id="a185" gradientUnits="userSpaceOnUse" x1="245.1" y1="141.7" x2="245.8" y2="140"><stop offset="0" stop-color="#0073ff"/><stop offset="1" stop-color="#008cff"/></linearGradient><linearGradient id="a186" gradientUnits="userSpaceOnUse" x1="254.6" y1="144.3" x2="255.9" y2="141.1"><stop offset="0" stop-color="#0080ff"/><stop offset="1" stop-color="#00bfff"/></linearGradient><linearGradient id="a187" gradientUnits="userSpaceOnUse" x1="90.6" y1="94" x2="91.1" y2="87.5"><stop offset="0" stop-color="#e50000"/><stop offset="1" stop-color="#a60000"/></linearGradient><linearGradient id="a188" gradientUnits="userSpaceOnUse" x1="100.1" y1="94.7" x2="98.5" y2="79.2"><stop offset="0" stop-color="#e50000"/><stop offset="1" stop-color="#800000"/></linearGradient><linearGradient id="a189" gradientUnits="userSpaceOnUse" x1="127.1" y1="130.5" x2="116.6" y2="104.4"><stop offset="0" stop-color="#1affe5"/><stop offset=".667" stop-color="#ffff00"/><stop offset="1" stop-color="#ff8c00"/></linearGradient><linearGradient id="a190" gradientUnits="userSpaceOnUse" x1="127.1" y1="130.5" x2="112.4" y2="105.5"><stop offset="0" stop-color="#1affe5"/><stop offset=".667" stop-color="#ffff00"/><stop offset="1" stop-color="#ff8c00"/></linearGradient><linearGradient id="a191" gradientUnits="userSpaceOnUse" x1="72.4" y1="91.7" x2="68.3" y2="84"><stop offset="0" stop-color="#a60000"/><stop offset="1" stop-color="#8c0000"/></linearGradient><linearGradient id="a192" gradientUnits="userSpaceOnUse" x1="81.9" y1="86.8" x2="76" y2="75.3"><stop offset="0" stop-color="#a60000"/><stop offset="1" stop-color="#800000"/></linearGradient><linearGradient id="a193" gradientUnits="userSpaceOnUse" x1="218.1" y1="132.3" x2="217.9" y2="134.5"><stop offset="0" stop-color="#00bfff"/><stop offset=".714" stop-color="#00ffff"/><stop offset="1" stop-color="#1affe5"/></linearGradient><linearGradient id="a194" gradientUnits="userSpaceOnUse" x1="209.4" y1="130.8" x2="209.1" y2="132.9"><stop offset="0" stop-color="#00a6ff"/><stop offset="1" stop-color="#00ffff"/></linearGradient><linearGradient id="a195" gradientUnits="userSpaceOnUse" x1="236.4" y1="136.4" x2="217.9" y2="134.6"><stop offset="0" stop-color="#008cff"/><stop offset="1" stop-color="#00bfff"/></linearGradient><linearGradient id="a196" gradientUnits="userSpaceOnUse" x1="236.4" y1="136.4" x2="233.4" y2="127.3"><stop offset="0" stop-color="#008cff"/><stop offset="1" stop-color="#00bfff"/></linearGradient><linearGradient id="a197" gradientUnits="userSpaceOnUse" x1="162.9" y1="150.9" x2="161" y2="143.8"><stop offset="0" stop-color="#004dff"/><stop offset="1" stop-color="#0073ff"/></linearGradient><linearGradient id="a198" gradientUnits="userSpaceOnUse" x1="172.3" y1="146" x2="170.7" y2="134.9"><stop offset="0" stop-color="#0059ff"/><stop offset="1" stop-color="#00baff"/></linearGradient><linearGradient id="a199" gradientUnits="userSpaceOnUse" x1="154.1" y1="145.6" x2="139.9" y2="131.7"><stop offset="0" stop-color="#0073ff"/><stop offset="1" stop-color="#00ffff"/></linearGradient><linearGradient id="a200" gradientUnits="userSpaceOnUse" x1="154.1" y1="145.6" x2="155.2" y2="137.9"><stop offset="0" stop-color="#0073ff"/><stop offset=".917" stop-color="#00ffff"/><stop offset="1" stop-color="#0dfff2"/></linearGradient><linearGradient id="a201" gradientUnits="userSpaceOnUse" x1="281.6" y1="160.4" x2="277.3" y2="148.4"><stop offset="0" stop-color="#0000b2"/><stop offset=".6" stop-color="#0000ff"/><stop offset="1" stop-color="#0033ff"/></linearGradient><linearGradient id="a202" gradientUnits="userSpaceOnUse" x1="281.6" y1="160.4" x2="262.8" y2="158.2"><stop offset="0" stop-color="#0000b2"/><stop offset=".6" stop-color="#0000ff"/><stop offset="1" stop-color="#0033ff"/></linearGradient><linearGradient id="a203" gradientUnits="userSpaceOnUse" x1="135.9" y1="135.8" x2="124.2" y2="123.6"><stop offset="0" stop-color="#00ffff"/><stop offset="1" stop-color="#4dffb2"/></linearGradient><linearGradient id="a204" gradientUnits="userSpaceOnUse" x1="135.9" y1="135.8" x2="127.9" y2="142.3"><stop offset="0" stop-color="#00ffff"/><stop offset="1" stop-color="#4dffb2"/></linearGradient><linearGradient id="a205" gradientUnits="userSpaceOnUse" x1="108.9" y1="107.5" x2="100.4" y2="89.4"><stop offset="0" stop-color="#ff8c00"/><stop offset=".846" stop-color="#ff0000"/><stop offset="1" stop-color="#e50000"/></linearGradient><linearGradient id="a206" gradientUnits="userSpaceOnUse" x1="108.9" y1="107.5" x2="109.8" y2="95.4"><stop offset="0" stop-color="#ff8c00"/><stop offset=".846" stop-color="#ff0000"/><stop offset="1" stop-color="#e50000"/></linearGradient><linearGradient id="a207" gradientUnits="userSpaceOnUse" x1="172.3" y1="146" x2="172.7" y2="146.5"><stop offset="0" stop-color="#0059ff"/><stop offset=".867" stop-color="#00ffff"/><stop offset="1" stop-color="#1affe5"/></linearGradient><linearGradient id="a208" gradientUnits="userSpaceOnUse" x1="172.3" y1="146" x2="172.8" y2="146.6"><stop offset="0" stop-color="#0059ff"/><stop offset=".867" stop-color="#00ffff"/><stop offset="1" stop-color="#1affe5"/></linearGradient><linearGradient id="a209" gradientUnits="userSpaceOnUse" x1="253.9" y1="152.7" x2="255.3" y2="143.3"><stop offset="0" stop-color="#002eff"/><stop offset="1" stop-color="#0073ff"/></linearGradient><linearGradient id="a210" gradientUnits="userSpaceOnUse" x1="263.4" y1="153.4" x2="265.3" y2="148.3"><stop offset="0" stop-color="#0033ff"/><stop offset="1" stop-color="#0080ff"/></linearGradient><linearGradient id="a211" gradientUnits="userSpaceOnUse" x1="36" y1="88.2" x2="49.7" y2="81.8"><stop offset="0" stop-color="#f20000"/><stop offset="1" stop-color="#8c0000"/></linearGradient><linearGradient id="a212" gradientUnits="userSpaceOnUse" x1="36" y1="88.2" x2="47.3" y2="80.8"><stop offset="0" stop-color="#f20000"/><stop offset="1" stop-color="#8c0000"/></linearGradient><linearGradient id="a213" gradientUnits="userSpaceOnUse" x1="63" y1="96.7" x2="58.9" y2="88.9"><stop offset="0" stop-color="#a60000"/><stop offset="1" stop-color="#8c0000"/></linearGradient><linearGradient id="a214" gradientUnits="userSpaceOnUse" x1="72.4" y1="91.7" x2="68.3" y2="84"><stop offset="0" stop-color="#a60000"/><stop offset="1" stop-color="#8c0000"/></linearGradient><linearGradient id="a215" gradientUnits="userSpaceOnUse" x1="81.2" y1="98.9" x2="76.3" y2="89.7"><stop offset="0" stop-color="#e50000"/><stop offset="1" stop-color="#a60000"/></linearGradient><linearGradient id="a216" gradientUnits="userSpaceOnUse" x1="90.6" y1="94" x2="85.8" y2="84.7"><stop offset="0" stop-color="#e50000"/><stop offset="1" stop-color="#a60000"/></linearGradient><linearGradient id="a217" gradientUnits="userSpaceOnUse" x1="245.1" y1="141.7" x2="226.7" y2="139.9"><stop offset="0" stop-color="#0073ff"/><stop offset="1" stop-color="#00a6ff"/></linearGradient><linearGradient id="a218" gradientUnits="userSpaceOnUse" x1="245.1" y1="141.7" x2="226.7" y2="139.9"><stop offset="0" stop-color="#0073ff"/><stop offset="1" stop-color="#00a6ff"/></linearGradient><linearGradient id="a219" gradientUnits="userSpaceOnUse" x1="226.9" y1="137.6" x2="220.6" y2="144.5"><stop offset="0" stop-color="#00a6ff"/><stop offset=".778" stop-color="#00ffff"/><stop offset="1" stop-color="#1affe5"/></linearGradient><linearGradient id="a220" gradientUnits="userSpaceOnUse" x1="226.9" y1="137.6" x2="220.6" y2="144.5"><stop offset="0" stop-color="#00a6ff"/><stop offset=".778" stop-color="#00ffff"/><stop offset="1" stop-color="#1affe5"/></linearGradient><linearGradient id="a221" gradientUnits="userSpaceOnUse" x1="190.5" y1="133.1" x2="190.7" y2="123.2"><stop offset="0" stop-color="#1affe5"/><stop offset="1" stop-color="#ccff33"/></linearGradient><linearGradient id="a222" gradientUnits="userSpaceOnUse" x1="199.9" y1="131.9" x2="199.9" y2="133.3"><stop offset="0" stop-color="#00ffff"/><stop offset="1" stop-color="#1affe5"/></linearGradient><linearGradient id="a223" gradientUnits="userSpaceOnUse" x1="117.6" y1="129.8" x2="120.7" y2="126.5"><stop offset="0" stop-color="#4dffb2"/><stop offset=".538" stop-color="#ffff00"/><stop offset="1" stop-color="#ff6600"/></linearGradient><linearGradient id="a224" gradientUnits="userSpaceOnUse" x1="117.6" y1="129.8" x2="110.7" y2="103.8"><stop offset="0" stop-color="#4dffb2"/><stop offset=".538" stop-color="#ffff00"/><stop offset="1" stop-color="#ff6600"/></linearGradient><linearGradient id="a225" gradientUnits="userSpaceOnUse" x1="162.9" y1="150.9" x2="163.4" y2="148.5"><stop offset="0" stop-color="#004dff"/><stop offset="1" stop-color="#00b2ff"/></linearGradient><linearGradient id="a226" gradientUnits="userSpaceOnUse" x1="162.9" y1="150.9" x2="148.6" y2="156"><stop offset="0" stop-color="#004dff"/><stop offset="1" stop-color="#00a6ff"/></linearGradient><linearGradient id="a227" gradientUnits="userSpaceOnUse" x1="144.6" y1="144.9" x2="145" y2="144"><stop offset="0" stop-color="#00a6ff"/><stop offset=".778" stop-color="#00ffff"/><stop offset="1" stop-color="#1affe5"/></linearGradient><linearGradient id="a228" gradientUnits="userSpaceOnUse" x1="144.6" y1="144.9" x2="137.1" y2="131.2"><stop offset="0" stop-color="#00a6ff"/><stop offset=".778" stop-color="#00ffff"/><stop offset="1" stop-color="#1affe5"/></linearGradient><linearGradient id="a229" gradientUnits="userSpaceOnUse" x1="162.9" y1="150.9" x2="161.1" y2="143.7"><stop offset="0" stop-color="#004dff"/><stop offset="1" stop-color="#00ffff"/></linearGradient><linearGradient id="a230" gradientUnits="userSpaceOnUse" x1="162.9" y1="150.9" x2="162.2" y2="149.6"><stop offset="0" stop-color="#004dff"/><stop offset="1" stop-color="#00e5ff"/></linearGradient><linearGradient id="a231" gradientUnits="userSpaceOnUse" x1="53.6" y1="102" x2="54.4" y2="95.5"><stop offset="0" stop-color="#ff0000"/><stop offset="1" stop-color="#a60000"/></linearGradient><linearGradient id="a232" gradientUnits="userSpaceOnUse" x1="44.8" y1="98" x2="47" y2="89.5"><stop offset="0" stop-color="#d90000"/><stop offset="1" stop-color="#8c0000"/></linearGradient><linearGradient id="a233" gradientUnits="userSpaceOnUse" x1="272.1" y1="158.3" x2="271.5" y2="160"><stop offset="0" stop-color="#0000e6"/><stop offset=".357" stop-color="#0000ff"/><stop offset="1" stop-color="#002eff"/></linearGradient><linearGradient id="a234" gradientUnits="userSpaceOnUse" x1="272.1" y1="158.3" x2="272.6" y2="154.4"><stop offset="0" stop-color="#0000e6"/><stop offset=".333" stop-color="#0000ff"/><stop offset="1" stop-color="#0033ff"/></linearGradient><linearGradient id="a235" gradientUnits="userSpaceOnUse" x1="99.4" y1="106.8" x2="80.6" y2="105"><stop offset="0" stop-color="#ff6600"/><stop offset=".8" stop-color="#ff0000"/><stop offset="1" stop-color="#e50000"/></linearGradient><linearGradient id="a236" gradientUnits="userSpaceOnUse" x1="99.4" y1="106.8" x2="92.2" y2="93.1"><stop offset="0" stop-color="#ff6600"/><stop offset=".8" stop-color="#ff0000"/><stop offset="1" stop-color="#e50000"/></linearGradient><linearGradient id="a237" gradientUnits="userSpaceOnUse" x1="71.8" y1="103.9" x2="66.9" y2="94.6"><stop offset="0" stop-color="#e50000"/><stop offset="1" stop-color="#a60000"/></linearGradient><linearGradient id="a238" gradientUnits="userSpaceOnUse" x1="81.2" y1="98.9" x2="76.3" y2="89.7"><stop offset="0" stop-color="#e50000"/><stop offset="1" stop-color="#a60000"/></linearGradient><linearGradient id="a239" gradientUnits="userSpaceOnUse" x1="126.4" y1="137" x2="123.4" y2="117.4"><stop offset="0" stop-color="#1affe5"/><stop offset="1" stop-color="#99ff66"/></linearGradient><linearGradient id="a240" gradientUnits="userSpaceOnUse" x1="126.4" y1="137" x2="128.9" y2="123.4"><stop offset="0" stop-color="#1affe5"/><stop offset="1" stop-color="#99ff66"/></linearGradient><linearGradient id="a241" gradientUnits="userSpaceOnUse" x1="253.9" y1="152.7" x2="249.7" y2="156.9"><stop offset="0" stop-color="#002eff"/><stop offset="1" stop-color="#008cff"/></linearGradient><linearGradient id="a242" gradientUnits="userSpaceOnUse" x1="253.9" y1="152.7" x2="241.5" y2="138"><stop offset="0" stop-color="#002eff"/><stop offset="1" stop-color="#008cff"/></linearGradient><linearGradient id="a243" gradientUnits="userSpaceOnUse" x1="235.7" y1="142.9" x2="229.3" y2="149.8"><stop offset="0" stop-color="#008cff"/><stop offset="1" stop-color="#00ffff"/></linearGradient><linearGradient id="a244" gradientUnits="userSpaceOnUse" x1="235.7" y1="142.9" x2="229.3" y2="149.8"><stop offset="0" stop-color="#008cff"/><stop offset="1" stop-color="#00ffff"/></linearGradient><linearGradient id="a245" gradientUnits="userSpaceOnUse" x1="181.1" y1="140" x2="197.4" y2="121.7"><stop offset="0" stop-color="#00e5ff"/><stop offset=".111" stop-color="#00ffff"/><stop offset="1" stop-color="#ccff33"/></linearGradient><linearGradient id="a246" gradientUnits="userSpaceOnUse" x1="181.1" y1="140" x2="178.5" y2="135.5"><stop offset="0" stop-color="#00e5ff"/><stop offset=".111" stop-color="#00ffff"/><stop offset="1" stop-color="#ccff33"/></linearGradient><linearGradient id="a247" gradientUnits="userSpaceOnUse" x1="217.5" y1="138.8" x2="205.1" y2="119.6"><stop offset="0" stop-color="#00ffff"/><stop offset="1" stop-color="#ccff33"/></linearGradient><linearGradient id="a248" gradientUnits="userSpaceOnUse" x1="217.5" y1="138.8" x2="219.9" y2="134.1"><stop offset="0" stop-color="#00ffff"/><stop offset="1" stop-color="#ccff33"/></linearGradient><linearGradient id="a249" gradientUnits="userSpaceOnUse" x1="108.2" y1="119.7" x2="91.8" y2="104.2"><stop offset="0" stop-color="#99ff66"/><stop offset=".32" stop-color="#ffff00"/><stop offset="1" stop-color="#ff2600"/></linearGradient><linearGradient id="a250" gradientUnits="userSpaceOnUse" x1="108.2" y1="119.7" x2="102" y2="101.9"><stop offset="0" stop-color="#99ff66"/><stop offset=".32" stop-color="#ffff00"/><stop offset="1" stop-color="#ff2600"/></linearGradient><linearGradient id="a251" gradientUnits="userSpaceOnUse" x1="153.4" y1="146.5" x2="153.9" y2="144.1"><stop offset="0" stop-color="#00b2ff"/><stop offset=".75" stop-color="#00ffff"/><stop offset="1" stop-color="#1affe5"/></linearGradient><linearGradient id="a252" gradientUnits="userSpaceOnUse" x1="144.6" y1="144.9" x2="145.1" y2="142.5"><stop offset="0" stop-color="#00a6ff"/><stop offset=".875" stop-color="#00ffff"/><stop offset="1" stop-color="#0dfff2"/></linearGradient><linearGradient id="a253" gradientUnits="userSpaceOnUse" x1="62.4" y1="112.6" x2="65.3" y2="102.1"><stop offset="0" stop-color="#ff4000"/><stop offset=".714" stop-color="#ff0000"/><stop offset="1" stop-color="#e50000"/></linearGradient><linearGradient id="a254" gradientUnits="userSpaceOnUse" x1="53.6" y1="102" x2="55.1" y2="95"><stop offset="0" stop-color="#ff0000"/><stop offset="1" stop-color="#a60000"/></linearGradient><linearGradient id="a255" gradientUnits="userSpaceOnUse" x1="153.4" y1="146.5" x2="153" y2="144.4"><stop offset="0" stop-color="#00b2ff"/><stop offset=".6" stop-color="#00ffff"/><stop offset="1" stop-color="#33ffcc"/></linearGradient><linearGradient id="a256" gradientUnits="userSpaceOnUse" x1="162.9" y1="150.9" x2="162.2" y2="141.9"><stop offset="0" stop-color="#004dff"/><stop offset="1" stop-color="#00ffff"/></linearGradient><linearGradient id="a257" gradientUnits="userSpaceOnUse" x1="90" y1="106.1" x2="84.1" y2="96.4"><stop offset="0" stop-color="#ff2600"/><stop offset=".6" stop-color="#ff0000"/><stop offset="1" stop-color="#e50000"/></linearGradient><linearGradient id="a258" gradientUnits="userSpaceOnUse" x1="90" y1="106.1" x2="85.1" y2="96.9"><stop offset="0" stop-color="#ff2600"/><stop offset=".6" stop-color="#ff0000"/><stop offset="1" stop-color="#e50000"/></linearGradient><linearGradient id="a259" gradientUnits="userSpaceOnUse" x1="135.2" y1="140.4" x2="135" y2="141.1"><stop offset="0" stop-color="#0dfff2"/><stop offset="1" stop-color="#59ffa6"/></linearGradient><linearGradient id="a260" gradientUnits="userSpaceOnUse" x1="135.2" y1="140.4" x2="133.8" y2="143.2"><stop offset="0" stop-color="#0dfff2"/><stop offset="1" stop-color="#33ffcc"/></linearGradient><linearGradient id="a261" gradientUnits="userSpaceOnUse" x1="262.7" y1="156.1" x2="260.3" y2="160"><stop offset="0" stop-color="#0026ff"/><stop offset="1" stop-color="#007aff"/></linearGradient><linearGradient id="a262" gradientUnits="userSpaceOnUse" x1="262.7" y1="156.1" x2="262.2" y2="157.3"><stop offset="0" stop-color="#0026ff"/><stop offset="1" stop-color="#007aff"/></linearGradient><linearGradient id="a263" gradientUnits="userSpaceOnUse" x1="171.6" y1="141.2" x2="179.1" y2="149"><stop offset="0" stop-color="#00ffff"/><stop offset="1" stop-color="#26ffd9"/></linearGradient><linearGradient id="a264" gradientUnits="userSpaceOnUse" x1="181.1" y1="140" x2="181.1" y2="139.8"><stop offset="0" stop-color="#00e5ff"/><stop offset=".4" stop-color="#00ffff"/><stop offset="1" stop-color="#26ffd9"/></linearGradient><linearGradient id="a265" gradientUnits="userSpaceOnUse" x1="244.5" y1="150.1" x2="226.5" y2="150.6"><stop offset="0" stop-color="#007aff"/><stop offset="1" stop-color="#00e5ff"/></linearGradient><linearGradient id="a266" gradientUnits="userSpaceOnUse" x1="244.5" y1="150.1" x2="237.7" y2="156.4"><stop offset="0" stop-color="#007aff"/><stop offset="1" stop-color="#00e5ff"/></linearGradient><linearGradient id="a267" gradientUnits="userSpaceOnUse" x1="226.3" y1="144.1" x2="214.6" y2="131.9"><stop offset="0" stop-color="#00e5ff"/><stop offset=".333" stop-color="#00ffff"/><stop offset="1" stop-color="#33ffcc"/></linearGradient><linearGradient id="a268" gradientUnits="userSpaceOnUse" x1="226.3" y1="144.1" x2="218.3" y2="150.6"><stop offset="0" stop-color="#00e5ff"/><stop offset=".333" stop-color="#00ffff"/><stop offset="1" stop-color="#33ffcc"/></linearGradient><linearGradient id="a269" gradientUnits="userSpaceOnUse" x1="117" y1="134.4" x2="117.4" y2="134"><stop offset="0" stop-color="#33ffcc"/><stop offset=".842" stop-color="#ffff00"/><stop offset="1" stop-color="#ffd900"/></linearGradient><linearGradient id="a270" gradientUnits="userSpaceOnUse" x1="117" y1="134.4" x2="102.4" y2="136.9"><stop offset="0" stop-color="#33ffcc"/><stop offset=".842" stop-color="#ffff00"/><stop offset="1" stop-color="#ffd900"/></linearGradient><linearGradient id="a271" gradientUnits="userSpaceOnUse" x1="198.6" y1="144" x2="199.3" y2="137.3"><stop offset="0" stop-color="#0dfff2"/><stop offset="1" stop-color="#33ffcc"/></linearGradient><linearGradient id="a272" gradientUnits="userSpaceOnUse" x1="189.9" y1="138.7" x2="190.4" y2="123.1"><stop offset="0" stop-color="#26ffd9"/><stop offset="1" stop-color="#ccff33"/></linearGradient><linearGradient id="a273" gradientUnits="userSpaceOnUse" x1="71.1" y1="119.1" x2="79.1" y2="108.2"><stop offset="0" stop-color="#ff4000"/><stop offset="1" stop-color="#ff1a00"/></linearGradient><linearGradient id="a274" gradientUnits="userSpaceOnUse" x1="62.4" y1="112.6" x2="62.6" y2="103.7"><stop offset="0" stop-color="#ff4000"/><stop offset=".714" stop-color="#ff0000"/><stop offset="1" stop-color="#e50000"/></linearGradient><linearGradient id="a275" gradientUnits="userSpaceOnUse" x1="98.8" y1="115.2" x2="83.9" y2="119.9"><stop offset="0" stop-color="#ffd900"/><stop offset="1" stop-color="#ff1a00"/></linearGradient><linearGradient id="a276" gradientUnits="userSpaceOnUse" x1="98.8" y1="115.2" x2="93.9" y2="103.6"><stop offset="0" stop-color="#ffd900"/><stop offset="1" stop-color="#ff1a00"/></linearGradient><linearGradient id="a277" gradientUnits="userSpaceOnUse" x1="144" y1="142" x2="144.4" y2="138.6"><stop offset="0" stop-color="#1affe5"/><stop offset="1" stop-color="#80ff80"/></linearGradient><linearGradient id="a278" gradientUnits="userSpaceOnUse" x1="135.2" y1="140.4" x2="135.4" y2="139.7"><stop offset="0" stop-color="#0dfff2"/><stop offset="1" stop-color="#59ffa6"/></linearGradient><linearGradient id="a279" gradientUnits="userSpaceOnUse" x1="144" y1="142" x2="146.3" y2="127.4"><stop offset="0" stop-color="#1affe5"/><stop offset="1" stop-color="#b3ff4c"/></linearGradient><linearGradient id="a280" gradientUnits="userSpaceOnUse" x1="153.4" y1="146.5" x2="153.8" y2="141.7"><stop offset="0" stop-color="#00b2ff"/><stop offset=".6" stop-color="#00ffff"/><stop offset="1" stop-color="#33ffcc"/></linearGradient><linearGradient id="a281" gradientUnits="userSpaceOnUse" x1="253.3" y1="154.3" x2="250.3" y2="159.7"><stop offset="0" stop-color="#0066ff"/><stop offset="1" stop-color="#00b2ff"/></linearGradient><linearGradient id="a282" gradientUnits="userSpaceOnUse" x1="253.3" y1="154.3" x2="247" y2="161.6"><stop offset="0" stop-color="#0066ff"/><stop offset="1" stop-color="#00b2ff"/></linearGradient><linearGradient id="a283" gradientUnits="userSpaceOnUse" x1="180.4" y1="142.7" x2="179.9" y2="133.9"><stop offset="0" stop-color="#1affe5"/><stop offset="1" stop-color="#b3ff4c"/></linearGradient><linearGradient id="a284" gradientUnits="userSpaceOnUse" x1="171.6" y1="141.2" x2="171.5" y2="143"><stop offset="0" stop-color="#00ffff"/><stop offset="1" stop-color="#33ffcc"/></linearGradient><linearGradient id="a285" gradientUnits="userSpaceOnUse" x1="125.8" y1="137.9" x2="127.9" y2="133.7"><stop offset="0" stop-color="#59ffa6"/><stop offset=".929" stop-color="#ffff00"/><stop offset="1" stop-color="#fff200"/></linearGradient><linearGradient id="a286" gradientUnits="userSpaceOnUse" x1="117" y1="134.4" x2="119.1" y2="130.3"><stop offset="0" stop-color="#33ffcc"/><stop offset="1" stop-color="#e5ff1a"/></linearGradient><linearGradient id="a287" gradientUnits="userSpaceOnUse" x1="198.6" y1="144" x2="198.5" y2="145.1"><stop offset="0" stop-color="#0dfff2"/><stop offset="1" stop-color="#33ffcc"/></linearGradient><linearGradient id="a288" gradientUnits="userSpaceOnUse" x1="198.6" y1="144" x2="198" y2="137.9"><stop offset="0" stop-color="#0dfff2"/><stop offset="1" stop-color="#26ffd9"/></linearGradient><linearGradient id="a289" gradientUnits="userSpaceOnUse" x1="235.1" y1="151.3" x2="227.1" y2="157.8"><stop offset="0" stop-color="#00b2ff"/><stop offset="1" stop-color="#00ffff"/></linearGradient><linearGradient id="a290" gradientUnits="userSpaceOnUse" x1="235.1" y1="151.3" x2="223.4" y2="139.1"><stop offset="0" stop-color="#00b2ff"/><stop offset="1" stop-color="#00ffff"/></linearGradient><linearGradient id="a291" gradientUnits="userSpaceOnUse" x1="207.4" y1="148.4" x2="205.3" y2="141.8"><stop offset="0" stop-color="#00ffff"/><stop offset="1" stop-color="#0dfff2"/></linearGradient><linearGradient id="a292" gradientUnits="userSpaceOnUse" x1="216.9" y1="145.3" x2="216.6" y2="137.8"><stop offset="0" stop-color="#00ffff"/><stop offset="1" stop-color="#33ffcc"/></linearGradient><linearGradient id="a293" gradientUnits="userSpaceOnUse" x1="79.9" y1="123.1" x2="78.1" y2="117"><stop offset="0" stop-color="#ff9900"/><stop offset="1" stop-color="#ff4000"/></linearGradient><linearGradient id="a294" gradientUnits="userSpaceOnUse" x1="89.4" y1="116.4" x2="85.2" y2="107.1"><stop offset="0" stop-color="#ff6600"/><stop offset="1" stop-color="#ff1a00"/></linearGradient><linearGradient id="a295" gradientUnits="userSpaceOnUse" x1="107.6" y1="124.3" x2="103.8" y2="128.7"><stop offset="0" stop-color="#e5ff1a"/><stop offset=".143" stop-color="#ffff00"/><stop offset="1" stop-color="#ff6600"/></linearGradient><linearGradient id="a296" gradientUnits="userSpaceOnUse" x1="107.6" y1="124.3" x2="94" y2="129.2"><stop offset="0" stop-color="#e5ff1a"/><stop offset=".143" stop-color="#ffff00"/><stop offset="1" stop-color="#ff6600"/></linearGradient><linearGradient id="a297" gradientUnits="userSpaceOnUse" x1="243.9" y1="153.8" x2="231.7" y2="160.9"><stop offset="0" stop-color="#0099ff"/><stop offset="1" stop-color="#00e5ff"/></linearGradient><linearGradient id="a298" gradientUnits="userSpaceOnUse" x1="243.9" y1="153.8" x2="241.2" y2="158.8"><stop offset="0" stop-color="#0099ff"/><stop offset="1" stop-color="#00e5ff"/></linearGradient><linearGradient id="a299" gradientUnits="userSpaceOnUse" x1="216.2" y1="153.7" x2="213.8" y2="146.3"><stop offset="0" stop-color="#00e5ff"/><stop offset="1" stop-color="#00ffff"/></linearGradient><linearGradient id="a300" gradientUnits="userSpaceOnUse" x1="225.6" y1="150.6" x2="223.2" y2="143.2"><stop offset="0" stop-color="#00e5ff"/><stop offset="1" stop-color="#00ffff"/></linearGradient><linearGradient id="a301" gradientUnits="userSpaceOnUse" x1="207.4" y1="148.4" x2="189" y2="146.5"><stop offset="0" stop-color="#00ffff"/><stop offset="1" stop-color="#33ffcc"/></linearGradient><linearGradient id="a302" gradientUnits="userSpaceOnUse" x1="207.4" y1="148.4" x2="202.4" y2="154.7"><stop offset="0" stop-color="#00ffff"/><stop offset="1" stop-color="#33ffcc"/></linearGradient><linearGradient id="a303" gradientUnits="userSpaceOnUse" x1="134.6" y1="137.5" x2="118.7" y2="140.4"><stop offset="0" stop-color="#80ff80"/><stop offset=".909" stop-color="#ffff00"/><stop offset="1" stop-color="#fff200"/></linearGradient><linearGradient id="a304" gradientUnits="userSpaceOnUse" x1="125.8" y1="137.9" x2="127.2" y2="129.6"><stop offset="0" stop-color="#59ffa6"/><stop offset=".929" stop-color="#ffff00"/><stop offset="1" stop-color="#fff200"/></linearGradient><linearGradient id="a305" gradientUnits="userSpaceOnUse" x1="189.2" y1="144.2" x2="177.8" y2="149.4"><stop offset="0" stop-color="#33ffcc"/><stop offset="1" stop-color="#b3ff4c"/></linearGradient><linearGradient id="a306" gradientUnits="userSpaceOnUse" x1="180.4" y1="142.7" x2="181.9" y2="137.5"><stop offset="0" stop-color="#1affe5"/><stop offset="1" stop-color="#b3ff4c"/></linearGradient><linearGradient id="a307" gradientUnits="userSpaceOnUse" x1="134.6" y1="137.5" x2="133.8" y2="135.8"><stop offset="0" stop-color="#80ff80"/><stop offset="1" stop-color="#ffff00"/></linearGradient><linearGradient id="a308" gradientUnits="userSpaceOnUse" x1="144" y1="142" x2="141" y2="132"><stop offset="0" stop-color="#1affe5"/><stop offset="1" stop-color="#b3ff4c"/></linearGradient><linearGradient id="a309" gradientUnits="userSpaceOnUse" x1="88.7" y1="132.1" x2="88" y2="122.5"><stop offset="0" stop-color="#ffe500"/><stop offset="1" stop-color="#ff9900"/></linearGradient><linearGradient id="a310" gradientUnits="userSpaceOnUse" x1="79.9" y1="123.1" x2="79.5" y2="117.1"><stop offset="0" stop-color="#ff9900"/><stop offset="1" stop-color="#ff6600"/></linearGradient><linearGradient id="a311" gradientUnits="userSpaceOnUse" x1="116.4" y1="127.7" x2="116.7" y2="126.4"><stop offset="0" stop-color="#fff200"/><stop offset="1" stop-color="#ff9900"/></linearGradient><linearGradient id="a312" gradientUnits="userSpaceOnUse" x1="107.6" y1="124.3" x2="107.3" y2="125"><stop offset="0" stop-color="#e5ff1a"/><stop offset=".2" stop-color="#ffff00"/><stop offset="1" stop-color="#ff9900"/></linearGradient><linearGradient id="a313" gradientUnits="userSpaceOnUse" x1="152.8" y1="128.4" x2="154.3" y2="123.8"><stop offset="0" stop-color="#b3ff4c"/><stop offset=".429" stop-color="#ffff00"/><stop offset="1" stop-color="#ff9900"/></linearGradient><linearGradient id="a314" gradientUnits="userSpaceOnUse" x1="162.2" y1="142.3" x2="165.4" y2="132.6"><stop offset="0" stop-color="#33ffcc"/><stop offset="1" stop-color="#b3ff4c"/></linearGradient><linearGradient id="a315" gradientUnits="userSpaceOnUse" x1="216.2" y1="153.7" x2="197.8" y2="151.9"><stop offset="0" stop-color="#00e5ff"/><stop offset=".5" stop-color="#00ffff"/><stop offset="1" stop-color="#1affe5"/></linearGradient><linearGradient id="a316" gradientUnits="userSpaceOnUse" x1="216.2" y1="153.7" x2="197.8" y2="151.9"><stop offset="0" stop-color="#00e5ff"/><stop offset=".5" stop-color="#00ffff"/><stop offset="1" stop-color="#1affe5"/></linearGradient><linearGradient id="a317" gradientUnits="userSpaceOnUse" x1="225" y1="152.2" x2="224.2" y2="155.6"><stop offset="0" stop-color="#00b2ff"/><stop offset="1" stop-color="#00e5ff"/></linearGradient><linearGradient id="a318" gradientUnits="userSpaceOnUse" x1="234.4" y1="156.3" x2="231.9" y2="148.6"><stop offset="0" stop-color="#00ccff"/><stop offset="1" stop-color="#00e5ff"/></linearGradient><linearGradient id="a319" gradientUnits="userSpaceOnUse" x1="198" y1="149.6" x2="189" y2="135.7"><stop offset="0" stop-color="#1affe5"/><stop offset="1" stop-color="#80ff80"/></linearGradient><linearGradient id="a320" gradientUnits="userSpaceOnUse" x1="198" y1="149.6" x2="194.9" y2="153.5"><stop offset="0" stop-color="#1affe5"/><stop offset="1" stop-color="#80ff80"/></linearGradient><linearGradient id="a321" gradientUnits="userSpaceOnUse" x1="97.5" y1="141.8" x2="93.1" y2="130.4"><stop offset="0" stop-color="#ffff00"/><stop offset="1" stop-color="#ffe500"/></linearGradient><linearGradient id="a322" gradientUnits="userSpaceOnUse" x1="106.9" y1="125.1" x2="104.7" y2="119.2"><stop offset="0" stop-color="#ffe600"/><stop offset="1" stop-color="#ff9900"/></linearGradient><linearGradient id="a323" gradientUnits="userSpaceOnUse" x1="125.1" y1="134.9" x2="142.8" y2="136.7"><stop offset="0" stop-color="#ccff33"/><stop offset="1" stop-color="#ffff00"/></linearGradient><linearGradient id="a324" gradientUnits="userSpaceOnUse" x1="134.6" y1="137.5" x2="134.2" y2="132.1"><stop offset="0" stop-color="#80ff80"/><stop offset="1" stop-color="#ffff00"/></linearGradient><linearGradient id="a325" gradientUnits="userSpaceOnUse" x1="125.1" y1="134.9" x2="113.9" y2="140.2"><stop offset="0" stop-color="#ccff33"/><stop offset=".667" stop-color="#ffff00"/><stop offset="1" stop-color="#ffe600"/></linearGradient><linearGradient id="a326" gradientUnits="userSpaceOnUse" x1="125.1" y1="134.9" x2="126.2" y2="128"><stop offset="0" stop-color="#ccff33"/><stop offset=".667" stop-color="#ffff00"/><stop offset="1" stop-color="#ffe600"/></linearGradient><linearGradient id="a327" gradientUnits="userSpaceOnUse" x1="179.8" y1="141.7" x2="159.3" y2="130.3"><stop offset="0" stop-color="#80ff80"/><stop offset=".556" stop-color="#ffff00"/><stop offset="1" stop-color="#ff9900"/></linearGradient><linearGradient id="a328" gradientUnits="userSpaceOnUse" x1="179.8" y1="141.7" x2="180.3" y2="141.1"><stop offset="0" stop-color="#80ff80"/><stop offset=".556" stop-color="#ffff00"/><stop offset="1" stop-color="#ff9900"/></linearGradient><linearGradient id="a329" gradientUnits="userSpaceOnUse" x1="143.4" y1="131.5" x2="156.1" y2="120.1"><stop offset="0" stop-color="#ffff00"/><stop offset="1" stop-color="#ff9900"/></linearGradient><linearGradient id="a330" gradientUnits="userSpaceOnUse" x1="152.8" y1="128.4" x2="152.9" y2="128.9"><stop offset="0" stop-color="#b3ff4c"/><stop offset=".429" stop-color="#ffff00"/><stop offset="1" stop-color="#ff9900"/></linearGradient><linearGradient id="a331" gradientUnits="userSpaceOnUse" x1="197.4" y1="157.9" x2="194.4" y2="148.8"><stop offset="0" stop-color="#00ffff"/><stop offset="1" stop-color="#33ffcc"/></linearGradient><linearGradient id="a332" gradientUnits="userSpaceOnUse" x1="206.8" y1="154.9" x2="188.3" y2="153"><stop offset="0" stop-color="#00ffff"/><stop offset="1" stop-color="#33ffcc"/></linearGradient><linearGradient id="a333" gradientUnits="userSpaceOnUse" x1="225" y1="152.2" x2="216.3" y2="162.7"><stop offset="0" stop-color="#00b2ff"/><stop offset="1" stop-color="#00ffff"/></linearGradient><linearGradient id="a334" gradientUnits="userSpaceOnUse" x1="225" y1="152.2" x2="225.1" y2="153.2"><stop offset="0" stop-color="#00b2ff"/><stop offset="1" stop-color="#00ffff"/></linearGradient><linearGradient id="a335" gradientUnits="userSpaceOnUse" x1="188.6" y1="150.7" x2="171.2" y2="136.2"><stop offset="0" stop-color="#33ffcc"/><stop offset="1" stop-color="#e5ff1a"/></linearGradient><linearGradient id="a336" gradientUnits="userSpaceOnUse" x1="188.6" y1="150.7" x2="175.6" y2="154.6"><stop offset="0" stop-color="#33ffcc"/><stop offset="1" stop-color="#e5ff1a"/></linearGradient><linearGradient id="a337" gradientUnits="userSpaceOnUse" x1="106.3" y1="133.5" x2="107.9" y2="137.5"><stop offset="0" stop-color="#f2ff0d"/><stop offset="1" stop-color="#ffff00"/></linearGradient><linearGradient id="a338" gradientUnits="userSpaceOnUse" x1="97.5" y1="141.8" x2="93" y2="130.9"><stop offset="0" stop-color="#ffff00"/><stop offset="1" stop-color="#ffe600"/></linearGradient><linearGradient id="a339" gradientUnits="userSpaceOnUse" x1="133.9" y1="136.5" x2="115.8" y2="133.9"><stop offset="0" stop-color="#e5ff1a"/><stop offset="1" stop-color="#ffff00"/></linearGradient><linearGradient id="a340" gradientUnits="userSpaceOnUse" x1="125.1" y1="134.9" x2="125.1" y2="135.5"><stop offset="0" stop-color="#ccff33"/><stop offset="1" stop-color="#ffff00"/></linearGradient><linearGradient id="a341" gradientUnits="userSpaceOnUse" x1="142.7" y1="143.7" x2="150.8" y2="133.8"><stop offset="0" stop-color="#e5ff1a"/><stop offset=".5" stop-color="#ffff00"/><stop offset="1" stop-color="#ffe500"/></linearGradient><linearGradient id="a342" gradientUnits="userSpaceOnUse" x1="133.9" y1="136.5" x2="151.9" y2="137.9"><stop offset="0" stop-color="#e5ff1a"/><stop offset=".5" stop-color="#ffff00"/><stop offset="1" stop-color="#ffe500"/></linearGradient><linearGradient id="a343" gradientUnits="userSpaceOnUse" x1="160.9" y1="144" x2="159.2" y2="133.8"><stop offset="0" stop-color="#b3ff4c"/><stop offset=".75" stop-color="#ffff00"/><stop offset="1" stop-color="#ffe500"/></linearGradient><linearGradient id="a344" gradientUnits="userSpaceOnUse" x1="170.4" y1="137.2" x2="168.6" y2="125.2"><stop offset="0" stop-color="#e5ff1a"/><stop offset=".2" stop-color="#ffff00"/><stop offset="1" stop-color="#ff9900"/></linearGradient><linearGradient id="a345" gradientUnits="userSpaceOnUse" x1="197.4" y1="157.9" x2="182.9" y2="147"><stop offset="0" stop-color="#00ffff"/><stop offset="1" stop-color="#66ff99"/></linearGradient><linearGradient id="a346" gradientUnits="userSpaceOnUse" x1="197.4" y1="157.9" x2="178.8" y2="156.5"><stop offset="0" stop-color="#00ffff"/><stop offset="1" stop-color="#66ff99"/></linearGradient><linearGradient id="a347" gradientUnits="userSpaceOnUse" x1="206.1" y1="159.5" x2="205.6" y2="156.5"><stop offset="0" stop-color="#00ccff"/><stop offset="1" stop-color="#00ffff"/></linearGradient><linearGradient id="a348" gradientUnits="userSpaceOnUse" x1="215.6" y1="156.2" x2="214.3" y2="152.4"><stop offset="0" stop-color="#00e5ff"/><stop offset="1" stop-color="#00ffff"/></linearGradient><linearGradient id="a349" gradientUnits="userSpaceOnUse" x1="133.3" y1="150.5" x2="135.5" y2="140"><stop offset="0" stop-color="#b3ff4c"/><stop offset="1" stop-color="#f2ff0d"/></linearGradient><linearGradient id="a350" gradientUnits="userSpaceOnUse" x1="133.9" y1="136.5" x2="129.6" y2="141.8"><stop offset="0" stop-color="#e5ff1a"/><stop offset="1" stop-color="#f2ff0d"/></linearGradient><linearGradient id="a351" gradientUnits="userSpaceOnUse" x1="169.7" y1="156.9" x2="165.6" y2="142.7"><stop offset="0" stop-color="#59ffa6"/><stop offset="1" stop-color="#b3ff4c"/></linearGradient><linearGradient id="a352" gradientUnits="userSpaceOnUse" x1="179.1" y1="151.9" x2="178" y2="136.6"><stop offset="0" stop-color="#66ff99"/><stop offset="1" stop-color="#e5ff1a"/></linearGradient><linearGradient id="a353" gradientUnits="userSpaceOnUse" x1="151.5" y1="152.8" x2="148.2" y2="142"><stop offset="0" stop-color="#80ff80"/><stop offset="1" stop-color="#e5ff1a"/></linearGradient><linearGradient id="a354" gradientUnits="userSpaceOnUse" x1="160.9" y1="144" x2="157.7" y2="133.3"><stop offset="0" stop-color="#b3ff4c"/><stop offset=".75" stop-color="#ffff00"/><stop offset="1" stop-color="#ffe500"/></linearGradient><linearGradient id="a355" gradientUnits="userSpaceOnUse" x1="115.1" y1="143.2" x2="116.7" y2="135.9"><stop offset="0" stop-color="#ccff33"/><stop offset="1" stop-color="#f2ff0d"/></linearGradient><linearGradient id="a356" gradientUnits="userSpaceOnUse" x1="106.3" y1="133.5" x2="106.6" y2="132.2"><stop offset="0" stop-color="#f2ff0d"/><stop offset="1" stop-color="#ffff00"/></linearGradient><linearGradient id="a357" gradientUnits="userSpaceOnUse" x1="206.1" y1="159.5" x2="188.3" y2="156.6"><stop offset="0" stop-color="#00ccff"/><stop offset=".571" stop-color="#00ffff"/><stop offset="1" stop-color="#26ffd9"/></linearGradient><linearGradient id="a358" gradientUnits="userSpaceOnUse" x1="206.1" y1="159.5" x2="198.6" y2="150.3"><stop offset="0" stop-color="#00ccff"/><stop offset=".571" stop-color="#00ffff"/><stop offset="1" stop-color="#26ffd9"/></linearGradient><linearGradient id="a359" gradientUnits="userSpaceOnUse" x1="187.9" y1="159.1" x2="180.4" y2="149"><stop offset="0" stop-color="#26ffd9"/><stop offset="1" stop-color="#59ffa6"/></linearGradient><linearGradient id="a360" gradientUnits="userSpaceOnUse" x1="187.9" y1="159.1" x2="185.1" y2="150.1"><stop offset="0" stop-color="#26ffd9"/><stop offset="1" stop-color="#66ff99"/></linearGradient><linearGradient id="a361" gradientUnits="userSpaceOnUse" x1="142.1" y1="157.7" x2="140.3" y2="149.1"><stop offset="0" stop-color="#66ff99"/><stop offset="1" stop-color="#b3ff4c"/></linearGradient><linearGradient id="a362" gradientUnits="userSpaceOnUse" x1="151.5" y1="152.8" x2="149.8" y2="142.5"><stop offset="0" stop-color="#80ff80"/><stop offset="1" stop-color="#e5ff1a"/></linearGradient><linearGradient id="a363" gradientUnits="userSpaceOnUse" x1="169.7" y1="156.9" x2="156.1" y2="146.6"><stop offset="0" stop-color="#59ffa6"/><stop offset="1" stop-color="#80ff80"/></linearGradient><linearGradient id="a364" gradientUnits="userSpaceOnUse" x1="169.7" y1="156.9" x2="168.4" y2="143.3"><stop offset="0" stop-color="#59ffa6"/><stop offset="1" stop-color="#b3ff4c"/></linearGradient><linearGradient id="a365" gradientUnits="userSpaceOnUse" x1="123.9" y1="149.8" x2="124.9" y2="146.1"><stop offset="0" stop-color="#99ff66"/><stop offset="1" stop-color="#ccff33"/></linearGradient><linearGradient id="a366" gradientUnits="userSpaceOnUse" x1="133.3" y1="150.5" x2="135" y2="139.2"><stop offset="0" stop-color="#b3ff4c"/><stop offset="1" stop-color="#f2ff0d"/></linearGradient><linearGradient id="a367" gradientUnits="userSpaceOnUse" x1="187.3" y1="171.8" x2="186.6" y2="161.7"><stop offset="0" stop-color="#00e5ff"/><stop offset=".333" stop-color="#00ffff"/><stop offset="1" stop-color="#33ffcc"/></linearGradient><linearGradient id="a368" gradientUnits="userSpaceOnUse" x1="196.7" y1="169.5" x2="186.2" y2="156.1"><stop offset="0" stop-color="#00f2ff"/><stop offset=".2" stop-color="#00ffff"/><stop offset="1" stop-color="#33ffcc"/></linearGradient><linearGradient id="a369" gradientUnits="userSpaceOnUse" x1="150.9" y1="164.9" x2="151.6" y2="158.9"><stop offset="0" stop-color="#59ffa6"/><stop offset="1" stop-color="#66ff99"/></linearGradient><linearGradient id="a370" gradientUnits="userSpaceOnUse" x1="142.1" y1="157.7" x2="142.8" y2="151.7"><stop offset="0" stop-color="#66ff99"/><stop offset="1" stop-color="#80ff80"/></linearGradient><linearGradient id="a371" gradientUnits="userSpaceOnUse" x1="178.5" y1="162.2" x2="166.6" y2="169.8"><stop offset="0" stop-color="#33ffcc"/><stop offset="1" stop-color="#66ff99"/></linearGradient><linearGradient id="a372" gradientUnits="userSpaceOnUse" x1="178.5" y1="162.2" x2="170.9" y2="152"><stop offset="0" stop-color="#33ffcc"/><stop offset="1" stop-color="#66ff99"/></linearGradient><linearGradient id="a373" gradientUnits="userSpaceOnUse" x1="132.6" y1="157" x2="133.8" y2="152.3"><stop offset="0" stop-color="#4dffb2"/><stop offset="1" stop-color="#99ff66"/></linearGradient><linearGradient id="a374" gradientUnits="userSpaceOnUse" x1="142.1" y1="157.7" x2="143.2" y2="153"><stop offset="0" stop-color="#66ff99"/><stop offset="1" stop-color="#b3ff4c"/></linearGradient><linearGradient id="a375" gradientUnits="userSpaceOnUse" x1="177.9" y1="175.9" x2="175.6" y2="165.7"><stop offset="0" stop-color="#00ccff"/><stop offset=".364" stop-color="#00ffff"/><stop offset="1" stop-color="#59ffa6"/></linearGradient><linearGradient id="a376" gradientUnits="userSpaceOnUse" x1="187.3" y1="171.8" x2="171" y2="163.5"><stop offset="0" stop-color="#00e5ff"/><stop offset=".222" stop-color="#00ffff"/><stop offset="1" stop-color="#59ffa6"/></linearGradient><linearGradient id="a377" gradientUnits="userSpaceOnUse" x1="159.6" y1="157" x2="158.6" y2="165.9"><stop offset="0" stop-color="#4dffb2"/><stop offset="1" stop-color="#59ffa6"/></linearGradient><linearGradient id="a378" gradientUnits="userSpaceOnUse" x1="150.9" y1="164.9" x2="151.6" y2="158.9"><stop offset="0" stop-color="#59ffa6"/><stop offset="1" stop-color="#66ff99"/></linearGradient><linearGradient id="a379" gradientUnits="userSpaceOnUse" x1="141.4" y1="156.7" x2="140" y2="161.9"><stop offset="0" stop-color="#40ffbf"/><stop offset="1" stop-color="#59ffa6"/></linearGradient><linearGradient id="a380" gradientUnits="userSpaceOnUse" x1="132.6" y1="157" x2="134.6" y2="153.5"><stop offset="0" stop-color="#4dffb2"/><stop offset="1" stop-color="#66ff99"/></linearGradient><linearGradient id="a381" gradientUnits="userSpaceOnUse" x1="177.9" y1="175.9" x2="168.9" y2="179.5"><stop offset="0" stop-color="#00ccff"/><stop offset=".4" stop-color="#00ffff"/><stop offset="1" stop-color="#4dffb2"/></linearGradient><linearGradient id="a382" gradientUnits="userSpaceOnUse" x1="177.9" y1="175.9" x2="177.5" y2="176.2"><stop offset="0" stop-color="#00ccff"/><stop offset=".364" stop-color="#00ffff"/><stop offset="1" stop-color="#59ffa6"/></linearGradient><linearGradient id="a383" gradientUnits="userSpaceOnUse" x1="150.2" y1="164.1" x2="151.7" y2="155.6"><stop offset="0" stop-color="#26ffd9"/><stop offset="1" stop-color="#4dffb2"/></linearGradient><linearGradient id="a384" gradientUnits="userSpaceOnUse" x1="141.4" y1="156.7" x2="144.2" y2="166.8"><stop offset="0" stop-color="#40ffbf"/><stop offset="1" stop-color="#59ffa6"/></linearGradient><linearGradient id="a385" gradientUnits="userSpaceOnUse" x1="159" y1="181.4" x2="144.9" y2="172.3"><stop offset="0" stop-color="#00ccff"/><stop offset=".571" stop-color="#00ffff"/><stop offset="1" stop-color="#26ffd9"/></linearGradient><linearGradient id="a386" gradientUnits="userSpaceOnUse" x1="168.4" y1="158" x2="166.1" y2="153.6"><stop offset="0" stop-color="#00e5ff"/><stop offset=".25" stop-color="#00ffff"/><stop offset="1" stop-color="#4dffb2"/></linearGradient><linearGradient id="h0" gradientUnits="userSpaceOnUse" x1="336.5" y1="93.7" x2="337.5" y2="88.5"><stop offset="0" stop-color="#00ccff"/><stop offset=".8" stop-color="#00ffff"/><stop offset="1" stop-color="#0dfff2"/></linearGradient><linearGradient id="h1" gradientUnits="userSpaceOnUse" x1="347.4" y1="93.7" x2="348.6" y2="88.6"><stop offset="0" stop-color="#00e5ff"/><stop offset=".333" stop-color="#00ffff"/><stop offset="1" stop-color="#33ffcc"/></linearGradient><linearGradient id="h2" gradientUnits="userSpaceOnUse" x1="358.3" y1="93.7" x2="357.1" y2="86.7"><stop offset="0" stop-color="#00ccff"/><stop offset=".5" stop-color="#00ffff"/><stop offset="1" stop-color="#33ffcc"/></linearGradient><linearGradient id="h3" gradientUnits="userSpaceOnUse" x1="358.3" y1="93.7" x2="358.6" y2="88.3"><stop offset="0" stop-color="#00ccff"/><stop offset=".444" stop-color="#00ffff"/><stop offset="1" stop-color="#40ffbf"/></linearGradient><linearGradient id="h4" gradientUnits="userSpaceOnUse" x1="358.3" y1="93.7" x2="358.9" y2="88.4"><stop offset="0" stop-color="#00ccff"/><stop offset=".444" stop-color="#00ffff"/><stop offset="1" stop-color="#40ffbf"/></linearGradient><linearGradient id="h5" gradientUnits="userSpaceOnUse" x1="369.2" y1="93.7" x2="366.1" y2="85.4"><stop offset="0" stop-color="#00e5ff"/><stop offset=".286" stop-color="#00ffff"/><stop offset="1" stop-color="#40ffbf"/></linearGradient><linearGradient id="h6" gradientUnits="userSpaceOnUse" x1="369.2" y1="93.7" x2="369.8" y2="88.4"><stop offset="0" stop-color="#00e5ff"/><stop offset=".5" stop-color="#00ffff"/><stop offset="1" stop-color="#1affe5"/></linearGradient><linearGradient id="h7" gradientUnits="userSpaceOnUse" x1="380.1" y1="93.7" x2="378.2" y2="86.1"><stop offset="0" stop-color="#00f2ff"/><stop offset=".333" stop-color="#00ffff"/><stop offset="1" stop-color="#1affe5"/></linearGradient><linearGradient id="h8" gradientUnits="userSpaceOnUse" x1="391" y1="93.7" x2="384.5" y2="85"><stop offset="0" stop-color="#00ccff"/><stop offset=".8" stop-color="#00ffff"/><stop offset="1" stop-color="#0dfff2"/></linearGradient><linearGradient id="h9" gradientUnits="userSpaceOnUse" x1="391" y1="93.7" x2="390.1" y2="87.1"><stop offset="0" stop-color="#00ccff"/><stop offset=".8" stop-color="#00ffff"/><stop offset="1" stop-color="#0dfff2"/></linearGradient><linearGradient id="h10" gradientUnits="userSpaceOnUse" x1="391" y1="93.7" x2="392.2" y2="88.6"><stop offset="0" stop-color="#00ccff"/><stop offset="1" stop-color="#00ffff"/></linearGradient><linearGradient id="h11" gradientUnits="userSpaceOnUse" x1="401.9" y1="93.7" x2="401.9" y2="88.3"><stop offset="0" stop-color="#00e5ff"/><stop offset="1" stop-color="#00ffff"/></linearGradient><linearGradient id="h12" gradientUnits="userSpaceOnUse" x1="412.8" y1="93.7" x2="404.7" y2="85.5"><stop offset="0" stop-color="#00b2ff"/><stop offset="1" stop-color="#00ffff"/></linearGradient><linearGradient id="h13" gradientUnits="userSpaceOnUse" x1="412.8" y1="93.7" x2="410.9" y2="86.1"><stop offset="0" stop-color="#00b2ff"/><stop offset="1" stop-color="#00ffff"/></linearGradient><linearGradient id="h14" gradientUnits="userSpaceOnUse" x1="412.8" y1="93.7" x2="414" y2="88.6"><stop offset="0" stop-color="#00b2ff"/><stop offset="1" stop-color="#00e5ff"/></linearGradient><linearGradient id="h15" gradientUnits="userSpaceOnUse" x1="423.6" y1="93.7" x2="423.6" y2="88.3"><stop offset="0" stop-color="#00ccff"/><stop offset="1" stop-color="#00e5ff"/></linearGradient><linearGradient id="h16" gradientUnits="userSpaceOnUse" x1="434.5" y1="93.7" x2="426.5" y2="85.5"><stop offset="0" stop-color="#0099ff"/><stop offset="1" stop-color="#00e5ff"/></linearGradient><linearGradient id="h17" gradientUnits="userSpaceOnUse" x1="434.5" y1="93.7" x2="426.5" y2="85.5"><stop offset="0" stop-color="#0099ff"/><stop offset="1" stop-color="#00e5ff"/></linearGradient><linearGradient id="h18" gradientUnits="userSpaceOnUse" x1="445.4" y1="93.7" x2="437.4" y2="85.5"><stop offset="0" stop-color="#0066ff"/><stop offset="1" stop-color="#00b2ff"/></linearGradient><linearGradient id="h19" gradientUnits="userSpaceOnUse" x1="445.4" y1="93.7" x2="443.6" y2="86.1"><stop offset="0" stop-color="#0066ff"/><stop offset="1" stop-color="#00b2ff"/></linearGradient><linearGradient id="h20" gradientUnits="userSpaceOnUse" x1="456.3" y1="93.7" x2="450.9" y2="84.9"><stop offset="0" stop-color="#0026ff"/><stop offset="1" stop-color="#0099ff"/></linearGradient><linearGradient id="h21" gradientUnits="userSpaceOnUse" x1="456.3" y1="93.7" x2="448.3" y2="85.5"><stop offset="0" stop-color="#0026ff"/><stop offset="1" stop-color="#0099ff"/></linearGradient><linearGradient id="h22" gradientUnits="userSpaceOnUse" x1="467.2" y1="93.7" x2="460.2" y2="85.2"><stop offset="0" stop-color="#0000e6"/><stop offset=".25" stop-color="#0000ff"/><stop offset="1" stop-color="#004dff"/></linearGradient><linearGradient id="h23" gradientUnits="userSpaceOnUse" x1="467.2" y1="93.7" x2="460.2" y2="85.2"><stop offset="0" stop-color="#0000e6"/><stop offset=".25" stop-color="#0000ff"/><stop offset="1" stop-color="#004dff"/></linearGradient><linearGradient id="h24" gradientUnits="userSpaceOnUse" x1="478.1" y1="93.7" x2="472.4" y2="84.9"><stop offset="0" stop-color="#0000b2"/><stop offset=".857" stop-color="#0000ff"/><stop offset="1" stop-color="#000dff"/></linearGradient><linearGradient id="h25" gradientUnits="userSpaceOnUse" x1="478.1" y1="93.7" x2="468.9" y2="86.2"><stop offset="0" stop-color="#0000b2"/><stop offset=".857" stop-color="#0000ff"/><stop offset="1" stop-color="#000dff"/></linearGradient><linearGradient id="h26" gradientUnits="userSpaceOnUse" x1="489" y1="93.7" x2="482.6" y2="85"><stop offset="0" stop-color="#00008c"/><stop offset="1" stop-color="#0000cc"/></linearGradient><linearGradient id="h27" gradientUnits="userSpaceOnUse" x1="489" y1="93.7" x2="489.4" y2="88.4"><stop offset="0" stop-color="#00008c"/><stop offset="1" stop-color="#0000d9"/></linearGradient><linearGradient id="h28" gradientUnits="userSpaceOnUse" x1="336.5" y1="88.3" x2="340.4" y2="83.1"><stop offset="0" stop-color="#0dfff2"/><stop offset="1" stop-color="#33ffcc"/></linearGradient><linearGradient id="h29" gradientUnits="userSpaceOnUse" x1="336.5" y1="83" x2="341.9" y2="77.5"><stop offset="0" stop-color="#26ffd9"/><stop offset="1" stop-color="#40ffbf"/></linearGradient><linearGradient id="h30" gradientUnits="userSpaceOnUse" x1="347.4" y1="88.3" x2="349.5" y2="84"><stop offset="0" stop-color="#33ffcc"/><stop offset="1" stop-color="#40ffbf"/></linearGradient><linearGradient id="h31" gradientUnits="userSpaceOnUse" x1="347.4" y1="83" x2="349.5" y2="78.6"><stop offset="0" stop-color="#40ffbf"/><stop offset="1" stop-color="#4dffb2"/></linearGradient><linearGradient id="h32" gradientUnits="userSpaceOnUse" x1="369.2" y1="88.3" x2="359.2" y2="81.6"><stop offset="0" stop-color="#1affe5"/><stop offset="1" stop-color="#4dffb2"/></linearGradient><linearGradient id="h33" gradientUnits="userSpaceOnUse" x1="369.2" y1="88.3" x2="368" y2="81.4"><stop offset="0" stop-color="#1affe5"/><stop offset="1" stop-color="#4dffb2"/></linearGradient><linearGradient id="h34" gradientUnits="userSpaceOnUse" x1="380.1" y1="88.3" x2="378.9" y2="81.4"><stop offset="0" stop-color="#0dfff2"/><stop offset="1" stop-color="#40ffbf"/></linearGradient><linearGradient id="h35" gradientUnits="userSpaceOnUse" x1="380.1" y1="88.3" x2="380.6" y2="83"><stop offset="0" stop-color="#0dfff2"/><stop offset="1" stop-color="#4dffb2"/></linearGradient><linearGradient id="h36" gradientUnits="userSpaceOnUse" x1="391" y1="88.3" x2="390.3" y2="81.9"><stop offset="0" stop-color="#00ffff"/><stop offset="1" stop-color="#4dffb2"/></linearGradient><linearGradient id="h37" gradientUnits="userSpaceOnUse" x1="391" y1="88.3" x2="389.1" y2="80.7"><stop offset="0" stop-color="#00ffff"/><stop offset="1" stop-color="#4dffb2"/></linearGradient><linearGradient id="h38" gradientUnits="userSpaceOnUse" x1="391" y1="88.3" x2="391" y2="83"><stop offset="0" stop-color="#00ffff"/><stop offset="1" stop-color="#33ffcc"/></linearGradient><linearGradient id="h39" gradientUnits="userSpaceOnUse" x1="401.9" y1="88.3" x2="397.6" y2="79.7"><stop offset="0" stop-color="#00ffff"/><stop offset="1" stop-color="#33ffcc"/></linearGradient><linearGradient id="h40" gradientUnits="userSpaceOnUse" x1="412.8" y1="88.3" x2="408.5" y2="79.7"><stop offset="0" stop-color="#00e5ff"/><stop offset=".5" stop-color="#00ffff"/><stop offset="1" stop-color="#1affe5"/></linearGradient><linearGradient id="h41" gradientUnits="userSpaceOnUse" x1="412.8" y1="88.3" x2="408.5" y2="79.7"><stop offset="0" stop-color="#00e5ff"/><stop offset=".5" stop-color="#00ffff"/><stop offset="1" stop-color="#1affe5"/></linearGradient><linearGradient id="h42" gradientUnits="userSpaceOnUse" x1="412.8" y1="88.3" x2="412.8" y2="83"><stop offset="0" stop-color="#00e5ff"/><stop offset="1" stop-color="#00ffff"/></linearGradient><linearGradient id="h43" gradientUnits="userSpaceOnUse" x1="423.6" y1="88.3" x2="423.6" y2="83"><stop offset="0" stop-color="#00e5ff"/><stop offset="1" stop-color="#00ffff"/></linearGradient><linearGradient id="h44" gradientUnits="userSpaceOnUse" x1="434.5" y1="88.3" x2="426.5" y2="80.2"><stop offset="0" stop-color="#00b2ff"/><stop offset="1" stop-color="#00ffff"/></linearGradient><linearGradient id="h45" gradientUnits="userSpaceOnUse" x1="434.5" y1="88.3" x2="432.7" y2="80.7"><stop offset="0" stop-color="#00b2ff"/><stop offset="1" stop-color="#00ffff"/></linearGradient><linearGradient id="h46" gradientUnits="userSpaceOnUse" x1="445.4" y1="88.3" x2="443.6" y2="80.7"><stop offset="0" stop-color="#0099ff"/><stop offset="1" stop-color="#00e5ff"/></linearGradient><linearGradient id="h47" gradientUnits="userSpaceOnUse" x1="445.4" y1="88.3" x2="443.6" y2="80.7"><stop offset="0" stop-color="#0099ff"/><stop offset="1" stop-color="#00e5ff"/></linearGradient><linearGradient id="h48" gradientUnits="userSpaceOnUse" x1="456.3" y1="88.3" x2="449.9" y2="79.6"><stop offset="0" stop-color="#004dff"/><stop offset="1" stop-color="#00ccff"/></linearGradient><linearGradient id="h49" gradientUnits="userSpaceOnUse" x1="456.3" y1="88.3" x2="455.5" y2="81.7"><stop offset="0" stop-color="#004dff"/><stop offset="1" stop-color="#00ccff"/></linearGradient><linearGradient id="h50" gradientUnits="userSpaceOnUse" x1="467.2" y1="88.3" x2="464.8" y2="80.4"><stop offset="0" stop-color="#000dff"/><stop offset="1" stop-color="#00b2ff"/></linearGradient><linearGradient id="h51" gradientUnits="userSpaceOnUse" x1="467.2" y1="88.3" x2="462.2" y2="79.6"><stop offset="0" stop-color="#000dff"/><stop offset="1" stop-color="#00b2ff"/></linearGradient><linearGradient id="h52" gradientUnits="userSpaceOnUse" x1="478.1" y1="88.3" x2="474.6" y2="79.9"><stop offset="0" stop-color="#0000cc"/><stop offset=".364" stop-color="#0000ff"/><stop offset="1" stop-color="#0059ff"/></linearGradient><linearGradient id="h53" gradientUnits="userSpaceOnUse" x1="478.1" y1="88.3" x2="470.8" y2="79.9"><stop offset="0" stop-color="#0000cc"/><stop offset=".364" stop-color="#0000ff"/><stop offset="1" stop-color="#0059ff"/></linearGradient><linearGradient id="h54" gradientUnits="userSpaceOnUse" x1="478.1" y1="88.3" x2="478.8" y2="83"><stop offset="0" stop-color="#0000cc"/><stop offset="1" stop-color="#0000ff"/></linearGradient><linearGradient id="h55" gradientUnits="userSpaceOnUse" x1="489" y1="88.3" x2="480.9" y2="80.2"><stop offset="0" stop-color="#0000d9"/><stop offset="1" stop-color="#0000ff"/></linearGradient><linearGradient id="h56" gradientUnits="userSpaceOnUse" x1="336.5" y1="83" x2="341.9" y2="77.5"><stop offset="0" stop-color="#26ffd9"/><stop offset="1" stop-color="#40ffbf"/></linearGradient><linearGradient id="h57" gradientUnits="userSpaceOnUse" x1="336.5" y1="77.6" x2="341.9" y2="72.1"><stop offset="0" stop-color="#33ffcc"/><stop offset="1" stop-color="#4dffb2"/></linearGradient><linearGradient id="h58" gradientUnits="userSpaceOnUse" x1="347.4" y1="83" x2="349.5" y2="78.6"><stop offset="0" stop-color="#40ffbf"/><stop offset="1" stop-color="#4dffb2"/></linearGradient><linearGradient id="h59" gradientUnits="userSpaceOnUse" x1="347.4" y1="77.6" x2="349.5" y2="73.3"><stop offset="0" stop-color="#4dffb2"/><stop offset="1" stop-color="#66ff99"/></linearGradient><linearGradient id="h60" gradientUnits="userSpaceOnUse" x1="369.2" y1="83" x2="367.3" y2="75.4"><stop offset="0" stop-color="#40ffbf"/><stop offset="1" stop-color="#66ff99"/></linearGradient><linearGradient id="h61" gradientUnits="userSpaceOnUse" x1="369.2" y1="83" x2="370.6" y2="78"><stop offset="0" stop-color="#40ffbf"/><stop offset="1" stop-color="#99ff66"/></linearGradient><linearGradient id="h62" gradientUnits="userSpaceOnUse" x1="369.2" y1="83" x2="369.6" y2="77.6"><stop offset="0" stop-color="#40ffbf"/><stop offset="1" stop-color="#99ff66"/></linearGradient><linearGradient id="h63" gradientUnits="userSpaceOnUse" x1="380.1" y1="83" x2="381.1" y2="77.8"><stop offset="0" stop-color="#4dffb2"/><stop offset="1" stop-color="#ccff33"/></linearGradient><linearGradient id="h64" gradientUnits="userSpaceOnUse" x1="391" y1="83" x2="390.3" y2="76.6"><stop offset="0" stop-color="#33ffcc"/><stop offset="1" stop-color="#ccff33"/></linearGradient><linearGradient id="h65" gradientUnits="userSpaceOnUse" x1="391" y1="83" x2="386.7" y2="74.3"><stop offset="0" stop-color="#33ffcc"/><stop offset="1" stop-color="#ccff33"/></linearGradient><linearGradient id="h66" gradientUnits="userSpaceOnUse" x1="401.9" y1="83" x2="400.7" y2="76"><stop offset="0" stop-color="#1affe5"/><stop offset="1" stop-color="#80ff80"/></linearGradient><linearGradient id="h67" gradientUnits="userSpaceOnUse" x1="401.9" y1="83" x2="391.9" y2="76.2"><stop offset="0" stop-color="#1affe5"/><stop offset="1" stop-color="#80ff80"/></linearGradient><linearGradient id="h68" gradientUnits="userSpaceOnUse" x1="412.8" y1="83" x2="408.5" y2="74.3"><stop offset="0" stop-color="#00ffff"/><stop offset="1" stop-color="#33ffcc"/></linearGradient><linearGradient id="h69" gradientUnits="userSpaceOnUse" x1="412.8" y1="83" x2="402.8" y2="76.2"><stop offset="0" stop-color="#00ffff"/><stop offset="1" stop-color="#33ffcc"/></linearGradient><linearGradient id="h70" gradientUnits="userSpaceOnUse" x1="412.8" y1="83" x2="412.8" y2="77.6"><stop offset="0" stop-color="#00ffff"/><stop offset="1" stop-color="#0dfff2"/></linearGradient><linearGradient id="h71" gradientUnits="userSpaceOnUse" x1="423.6" y1="83" x2="425.4" y2="78.2"><stop offset="0" stop-color="#00ffff"/><stop offset="1" stop-color="#33ffcc"/></linearGradient><linearGradient id="h72" gradientUnits="userSpaceOnUse" x1="434.5" y1="83" x2="432.7" y2="75.4"><stop offset="0" stop-color="#00e5ff"/><stop offset=".333" stop-color="#00ffff"/><stop offset="1" stop-color="#33ffcc"/></linearGradient><linearGradient id="h73" gradientUnits="userSpaceOnUse" x1="434.5" y1="83" x2="426.5" y2="74.8"><stop offset="0" stop-color="#00e5ff"/><stop offset=".333" stop-color="#00ffff"/><stop offset="1" stop-color="#33ffcc"/></linearGradient><linearGradient id="h74" gradientUnits="userSpaceOnUse" x1="445.4" y1="83" x2="441.2" y2="74.3"><stop offset="0" stop-color="#00ccff"/><stop offset="1" stop-color="#00ffff"/></linearGradient><linearGradient id="h75" gradientUnits="userSpaceOnUse" x1="445.4" y1="83" x2="441.2" y2="74.3"><stop offset="0" stop-color="#00ccff"/><stop offset="1" stop-color="#00ffff"/></linearGradient><linearGradient id="h76" gradientUnits="userSpaceOnUse" x1="456.3" y1="83" x2="452.1" y2="74.3"><stop offset="0" stop-color="#00b2ff"/><stop offset="1" stop-color="#00e5ff"/></linearGradient><linearGradient id="h77" gradientUnits="userSpaceOnUse" x1="456.3" y1="83" x2="452.1" y2="74.3"><stop offset="0" stop-color="#00b2ff"/><stop offset="1" stop-color="#00e5ff"/></linearGradient><linearGradient id="h78" gradientUnits="userSpaceOnUse" x1="467.2" y1="83" x2="456.7" y2="76.9"><stop offset="0" stop-color="#0059ff"/><stop offset="1" stop-color="#00ccff"/></linearGradient><linearGradient id="h79" gradientUnits="userSpaceOnUse" x1="467.2" y1="83" x2="463.9" y2="74.6"><stop offset="0" stop-color="#0059ff"/><stop offset="1" stop-color="#00ccff"/></linearGradient><linearGradient id="h80" gradientUnits="userSpaceOnUse" x1="478.1" y1="83" x2="472.1" y2="74.2"><stop offset="0" stop-color="#0000ff"/><stop offset="1" stop-color="#0099ff"/></linearGradient><linearGradient id="h81" gradientUnits="userSpaceOnUse" x1="478.1" y1="77.6" x2="467.2" y2="77.6"><stop offset="0" stop-color="#0000ff"/><stop offset="1" stop-color="#0099ff"/></linearGradient><linearGradient id="h82" gradientUnits="userSpaceOnUse" x1="489" y1="83" x2="478.1" y2="83"><stop offset="0" stop-color="#0000e6"/><stop offset="1" stop-color="#0000ff"/></linearGradient><linearGradient id="h83" gradientUnits="userSpaceOnUse" x1="489" y1="83" x2="490.2" y2="77.9"><stop offset="0" stop-color="#0000e6"/><stop offset=".5" stop-color="#0000ff"/><stop offset="1" stop-color="#001aff"/></linearGradient><linearGradient id="h84" gradientUnits="userSpaceOnUse" x1="336.5" y1="77.6" x2="337.4" y2="72.4"><stop offset="0" stop-color="#33ffcc"/><stop offset="1" stop-color="#80ff80"/></linearGradient><linearGradient id="h85" gradientUnits="userSpaceOnUse" x1="347.4" y1="77.6" x2="348.3" y2="72.4"><stop offset="0" stop-color="#4dffb2"/><stop offset="1" stop-color="#99ff66"/></linearGradient><linearGradient id="h86" gradientUnits="userSpaceOnUse" x1="347.4" y1="77.6" x2="348.3" y2="72.4"><stop offset="0" stop-color="#4dffb2"/><stop offset="1" stop-color="#99ff66"/></linearGradient><linearGradient id="h87" gradientUnits="userSpaceOnUse" x1="358.3" y1="77.6" x2="359.5" y2="72.5"><stop offset="0" stop-color="#66ff99"/><stop offset="1" stop-color="#ccff33"/></linearGradient><linearGradient id="h88" gradientUnits="userSpaceOnUse" x1="358.3" y1="77.6" x2="359.5" y2="72.5"><stop offset="0" stop-color="#66ff99"/><stop offset="1" stop-color="#ccff33"/></linearGradient><linearGradient id="h89" gradientUnits="userSpaceOnUse" x1="369.2" y1="77.6" x2="370.4" y2="72.5"><stop offset="0" stop-color="#99ff66"/><stop offset="1" stop-color="#ffff00"/></linearGradient><linearGradient id="h90" gradientUnits="userSpaceOnUse" x1="369.2" y1="77.6" x2="370.4" y2="72.5"><stop offset="0" stop-color="#99ff66"/><stop offset="1" stop-color="#ffff00"/></linearGradient><linearGradient id="h91" gradientUnits="userSpaceOnUse" x1="380.1" y1="77.6" x2="381.5" y2="72.6"><stop offset="0" stop-color="#ccff33"/><stop offset=".4" stop-color="#ffff00"/><stop offset="1" stop-color="#ffb300"/></linearGradient><linearGradient id="h92" gradientUnits="userSpaceOnUse" x1="391" y1="77.6" x2="388.6" y2="69.7"><stop offset="0" stop-color="#80ff80"/><stop offset=".625" stop-color="#ffff00"/><stop offset="1" stop-color="#ffb300"/></linearGradient><linearGradient id="h93" gradientUnits="userSpaceOnUse" x1="391" y1="77.6" x2="381" y2="70.8"><stop offset="0" stop-color="#80ff80"/><stop offset=".625" stop-color="#ffff00"/><stop offset="1" stop-color="#ffb300"/></linearGradient><linearGradient id="h94" gradientUnits="userSpaceOnUse" x1="401.9" y1="77.6" x2="395.4" y2="68.9"><stop offset="0" stop-color="#33ffcc"/><stop offset="1" stop-color="#b3ff4c"/></linearGradient><linearGradient id="h95" gradientUnits="userSpaceOnUse" x1="401.9" y1="72.2" x2="392.1" y2="75.5"><stop offset="0" stop-color="#1affe5"/><stop offset="1" stop-color="#b3ff4c"/></linearGradient><linearGradient id="h96" gradientUnits="userSpaceOnUse" x1="412.8" y1="77.6" x2="408.9" y2="82.8"><stop offset="0" stop-color="#0dfff2"/><stop offset="1" stop-color="#33ffcc"/></linearGradient><linearGradient id="h97" gradientUnits="userSpaceOnUse" x1="412.8" y1="77.6" x2="414" y2="72.5"><stop offset="0" stop-color="#0dfff2"/><stop offset="1" stop-color="#26ffd9"/></linearGradient><linearGradient id="h98" gradientUnits="userSpaceOnUse" x1="412.8" y1="77.6" x2="416.6" y2="72.4"><stop offset="0" stop-color="#0dfff2"/><stop offset="1" stop-color="#33ffcc"/></linearGradient><linearGradient id="h99" gradientUnits="userSpaceOnUse" x1="412.8" y1="72.2" x2="415.2" y2="67.7"><stop offset="0" stop-color="#26ffd9"/><stop offset="1" stop-color="#ccff33"/></linearGradient><linearGradient id="h100" gradientUnits="userSpaceOnUse" x1="434.5" y1="77.6" x2="433.4" y2="70.6"><stop offset="0" stop-color="#00ffff"/><stop offset="1" stop-color="#ccff33"/></linearGradient><linearGradient id="h101" gradientUnits="userSpaceOnUse" x1="434.5" y1="77.6" x2="423.1" y2="74.3"><stop offset="0" stop-color="#00ffff"/><stop offset="1" stop-color="#ccff33"/></linearGradient><linearGradient id="h102" gradientUnits="userSpaceOnUse" x1="445.4" y1="77.6" x2="441.2" y2="68.9"><stop offset="0" stop-color="#00e5ff"/><stop offset=".5" stop-color="#00ffff"/><stop offset="1" stop-color="#1affe5"/></linearGradient><linearGradient id="h103" gradientUnits="userSpaceOnUse" x1="445.4" y1="77.6" x2="441.2" y2="68.9"><stop offset="0" stop-color="#00e5ff"/><stop offset=".5" stop-color="#00ffff"/><stop offset="1" stop-color="#1affe5"/></linearGradient><linearGradient id="h104" gradientUnits="userSpaceOnUse" x1="456.3" y1="77.6" x2="452.1" y2="68.9"><stop offset="0" stop-color="#00ccff"/><stop offset="1" stop-color="#00ffff"/></linearGradient><linearGradient id="h105" gradientUnits="userSpaceOnUse" x1="456.3" y1="77.6" x2="456.3" y2="72.2"><stop offset="0" stop-color="#00ccff"/><stop offset="1" stop-color="#00ffff"/></linearGradient><linearGradient id="h106" gradientUnits="userSpaceOnUse" x1="467.2" y1="77.6" x2="463" y2="68.9"><stop offset="0" stop-color="#0099ff"/><stop offset="1" stop-color="#00ffff"/></linearGradient><linearGradient id="h107" gradientUnits="userSpaceOnUse" x1="467.2" y1="77.6" x2="457.2" y2="70.8"><stop offset="0" stop-color="#0099ff"/><stop offset="1" stop-color="#00ffff"/></linearGradient><linearGradient id="h108" gradientUnits="userSpaceOnUse" x1="478.1" y1="77.6" x2="466.7" y2="73.7"><stop offset="0" stop-color="#0000ff"/><stop offset="1" stop-color="#00b2ff"/></linearGradient><linearGradient id="h109" gradientUnits="userSpaceOnUse" x1="478.1" y1="77.6" x2="475" y2="69.3"><stop offset="0" stop-color="#0000ff"/><stop offset="1" stop-color="#00b2ff"/></linearGradient><linearGradient id="h110" gradientUnits="userSpaceOnUse" x1="478.1" y1="77.6" x2="478.8" y2="72.3"><stop offset="0" stop-color="#0000ff"/><stop offset="1" stop-color="#0066ff"/></linearGradient><linearGradient id="h111" gradientUnits="userSpaceOnUse" x1="489" y1="77.6" x2="490" y2="72.4"><stop offset="0" stop-color="#001aff"/><stop offset="1" stop-color="#0099ff"/></linearGradient><linearGradient id="h112" gradientUnits="userSpaceOnUse" x1="336.5" y1="72.2" x2="337.4" y2="67"><stop offset="0" stop-color="#80ff80"/><stop offset="1" stop-color="#ccff33"/></linearGradient><linearGradient id="h113" gradientUnits="userSpaceOnUse" x1="347.4" y1="72.2" x2="348.5" y2="67.1"><stop offset="0" stop-color="#99ff66"/><stop offset="1" stop-color="#f2ff0d"/></linearGradient><linearGradient id="h114" gradientUnits="userSpaceOnUse" x1="347.4" y1="72.2" x2="348.8" y2="67.2"><stop offset="0" stop-color="#99ff66"/><stop offset="1" stop-color="#f2ff0d"/></linearGradient><linearGradient id="h115" gradientUnits="userSpaceOnUse" x1="358.3" y1="72.2" x2="356.4" y2="64.6"><stop offset="0" stop-color="#ccff33"/><stop offset="1" stop-color="#f2ff0d"/></linearGradient><linearGradient id="h116" gradientUnits="userSpaceOnUse" x1="358.3" y1="72.2" x2="363.7" y2="66.8"><stop offset="0" stop-color="#ccff33"/><stop offset="1" stop-color="#ffff00"/></linearGradient><linearGradient id="h117" gradientUnits="userSpaceOnUse" x1="358.3" y1="66.8" x2="369.2" y2="66.8"><stop offset="0" stop-color="#e5ff1a"/><stop offset="1" stop-color="#ffff00"/></linearGradient><linearGradient id="h118" gradientUnits="userSpaceOnUse" x1="369.2" y1="72.2" x2="380.1" y2="72.2"><stop offset="0" stop-color="#ffff00"/><stop offset="1" stop-color="#ffb300"/></linearGradient><linearGradient id="h119" gradientUnits="userSpaceOnUse" x1="380.1" y1="66.8" x2="378.8" y2="71.9"><stop offset="0" stop-color="#b3ff4c"/><stop offset=".5" stop-color="#ffff00"/><stop offset="1" stop-color="#ffb300"/></linearGradient><linearGradient id="h120" gradientUnits="userSpaceOnUse" x1="380.1" y1="66.8" x2="377.9" y2="71.2"><stop offset="0" stop-color="#b3ff4c"/><stop offset=".5" stop-color="#ffff00"/><stop offset="1" stop-color="#ffb300"/></linearGradient><linearGradient id="h121" gradientUnits="userSpaceOnUse" x1="391" y1="66.8" x2="388.8" y2="71.2"><stop offset="0" stop-color="#33ffcc"/><stop offset="1" stop-color="#b3ff4c"/></linearGradient><linearGradient id="h122" gradientUnits="userSpaceOnUse" x1="401.9" y1="72.2" x2="399" y2="77"><stop offset="0" stop-color="#1affe5"/><stop offset="1" stop-color="#b3ff4c"/></linearGradient><linearGradient id="h123" gradientUnits="userSpaceOnUse" x1="401.9" y1="66.8" x2="396.5" y2="72.3"><stop offset="0" stop-color="#00ffff"/><stop offset="1" stop-color="#33ffcc"/></linearGradient><linearGradient id="h124" gradientUnits="userSpaceOnUse" x1="401.9" y1="66.8" x2="403.7" y2="74.4"><stop offset="0" stop-color="#00ffff"/><stop offset="1" stop-color="#26ffd9"/></linearGradient><linearGradient id="h125" gradientUnits="userSpaceOnUse" x1="412.8" y1="66.8" x2="411.7" y2="72"><stop offset="0" stop-color="#00e5ff"/><stop offset=".4" stop-color="#00ffff"/><stop offset="1" stop-color="#26ffd9"/></linearGradient><linearGradient id="h126" gradientUnits="userSpaceOnUse" x1="412.8" y1="66.8" x2="422.1" y2="74.2"><stop offset="0" stop-color="#00e5ff"/><stop offset=".111" stop-color="#00ffff"/><stop offset="1" stop-color="#ccff33"/></linearGradient><linearGradient id="h127" gradientUnits="userSpaceOnUse" x1="412.8" y1="66.8" x2="413.7" y2="73.6"><stop offset="0" stop-color="#00e5ff"/><stop offset=".111" stop-color="#00ffff"/><stop offset="1" stop-color="#ccff33"/></linearGradient><linearGradient id="h128" gradientUnits="userSpaceOnUse" x1="423.6" y1="66.8" x2="421.5" y2="71.2"><stop offset="0" stop-color="#1affe5"/><stop offset="1" stop-color="#ccff33"/></linearGradient><linearGradient id="h129" gradientUnits="userSpaceOnUse" x1="434.5" y1="66.8" x2="432.4" y2="71.2"><stop offset="0" stop-color="#00ffff"/><stop offset="1" stop-color="#1affe5"/></linearGradient><linearGradient id="h130" gradientUnits="userSpaceOnUse" x1="434.5" y1="66.8" x2="432.4" y2="71.2"><stop offset="0" stop-color="#00ffff"/><stop offset="1" stop-color="#1affe5"/></linearGradient><linearGradient id="h131" gradientUnits="userSpaceOnUse" x1="445.4" y1="66.8" x2="443.3" y2="71.2"><stop offset="0" stop-color="#00e5ff"/><stop offset="1" stop-color="#00ffff"/></linearGradient><linearGradient id="h132" gradientUnits="userSpaceOnUse" x1="445.4" y1="66.8" x2="445.4" y2="72.2"><stop offset="0" stop-color="#00e5ff"/><stop offset="1" stop-color="#00ffff"/></linearGradient><linearGradient id="h133" gradientUnits="userSpaceOnUse" x1="445.4" y1="66.8" x2="456.3" y2="66.8"><stop offset="0" stop-color="#00e5ff"/><stop offset="1" stop-color="#00ffff"/></linearGradient><linearGradient id="h134" gradientUnits="userSpaceOnUse" x1="467.2" y1="72.2" x2="456.3" y2="72.2"><stop offset="0" stop-color="#00b2ff"/><stop offset="1" stop-color="#00ffff"/></linearGradient><linearGradient id="h135" gradientUnits="userSpaceOnUse" x1="467.2" y1="72.2" x2="467.2" y2="66.8"><stop offset="0" stop-color="#00b2ff"/><stop offset="1" stop-color="#00ffff"/></linearGradient><linearGradient id="h136" gradientUnits="userSpaceOnUse" x1="478.1" y1="72.2" x2="473.8" y2="63.6"><stop offset="0" stop-color="#0066ff"/><stop offset="1" stop-color="#00ffff"/></linearGradient><linearGradient id="h137" gradientUnits="userSpaceOnUse" x1="478.1" y1="72.2" x2="477.5" y2="65.8"><stop offset="0" stop-color="#0066ff"/><stop offset="1" stop-color="#00ffff"/></linearGradient><linearGradient id="h138" gradientUnits="userSpaceOnUse" x1="478.1" y1="72.2" x2="479.1" y2="67"><stop offset="0" stop-color="#0066ff"/><stop offset="1" stop-color="#00e5ff"/></linearGradient><linearGradient id="h139" gradientUnits="userSpaceOnUse" x1="489" y1="72.2" x2="489" y2="66.8"><stop offset="0" stop-color="#0099ff"/><stop offset="1" stop-color="#00e5ff"/></linearGradient><linearGradient id="h140" gradientUnits="userSpaceOnUse" x1="336.5" y1="66.8" x2="338.6" y2="62.5"><stop offset="0" stop-color="#ccff33"/><stop offset="1" stop-color="#f2ff0d"/></linearGradient><linearGradient id="h141" gradientUnits="userSpaceOnUse" x1="336.5" y1="61.5" x2="338.6" y2="57.2"><stop offset="0" stop-color="#f2ff0d"/><stop offset="1" stop-color="#ffff00"/></linearGradient><linearGradient id="h142" gradientUnits="userSpaceOnUse" x1="358.3" y1="66.8" x2="354" y2="58.2"><stop offset="0" stop-color="#e5ff1a"/><stop offset="1" stop-color="#ffff00"/></linearGradient><linearGradient id="h143" gradientUnits="userSpaceOnUse" x1="358.3" y1="61.5" x2="352.9" y2="66.9"><stop offset="0" stop-color="#ccff33"/><stop offset="1" stop-color="#ffff00"/></linearGradient><linearGradient id="h144" gradientUnits="userSpaceOnUse" x1="358.3" y1="61.5" x2="362.5" y2="70.1"><stop offset="0" stop-color="#ccff33"/><stop offset="1" stop-color="#ffff00"/></linearGradient><linearGradient id="h145" gradientUnits="userSpaceOnUse" x1="369.2" y1="61.5" x2="367.7" y2="66.4"><stop offset="0" stop-color="#80ff80"/><stop offset="1" stop-color="#ffff00"/></linearGradient><linearGradient id="h146" gradientUnits="userSpaceOnUse" x1="369.2" y1="61.5" x2="367.7" y2="66.4"><stop offset="0" stop-color="#80ff80"/><stop offset="1" stop-color="#ffff00"/></linearGradient><linearGradient id="h147" gradientUnits="userSpaceOnUse" x1="380.1" y1="61.5" x2="378.5" y2="66.3"><stop offset="0" stop-color="#1affe5"/><stop offset="1" stop-color="#b3ff4c"/></linearGradient><linearGradient id="h148" gradientUnits="userSpaceOnUse" x1="380.1" y1="61.5" x2="378.2" y2="66.1"><stop offset="0" stop-color="#1affe5"/><stop offset="1" stop-color="#b3ff4c"/></linearGradient><linearGradient id="h149" gradientUnits="userSpaceOnUse" x1="391" y1="61.5" x2="389.1" y2="66.1"><stop offset="0" stop-color="#00b2ff"/><stop offset=".6" stop-color="#00ffff"/><stop offset="1" stop-color="#33ffcc"/></linearGradient><linearGradient id="h150" gradientUnits="userSpaceOnUse" x1="391" y1="61.5" x2="389.9" y2="66.6"><stop offset="0" stop-color="#00b2ff"/><stop offset=".6" stop-color="#00ffff"/><stop offset="1" stop-color="#33ffcc"/></linearGradient><linearGradient id="h151" gradientUnits="userSpaceOnUse" x1="401.9" y1="61.5" x2="400.5" y2="66.4"><stop offset="0" stop-color="#004dff"/><stop offset="1" stop-color="#00ffff"/></linearGradient><linearGradient id="h152" gradientUnits="userSpaceOnUse" x1="401.9" y1="61.5" x2="401.5" y2="66.8"><stop offset="0" stop-color="#004dff"/><stop offset="1" stop-color="#00ffff"/></linearGradient><linearGradient id="h153" gradientUnits="userSpaceOnUse" x1="401.9" y1="61.5" x2="402.1" y2="67.3"><stop offset="0" stop-color="#004dff"/><stop offset="1" stop-color="#00e5ff"/></linearGradient><linearGradient id="h154" gradientUnits="userSpaceOnUse" x1="412.8" y1="61.5" x2="414" y2="68.6"><stop offset="0" stop-color="#0059ff"/><stop offset=".867" stop-color="#00ffff"/><stop offset="1" stop-color="#1affe5"/></linearGradient><linearGradient id="h155" gradientUnits="userSpaceOnUse" x1="412.8" y1="61.5" x2="414.6" y2="69.1"><stop offset="0" stop-color="#0059ff"/><stop offset=".867" stop-color="#00ffff"/><stop offset="1" stop-color="#1affe5"/></linearGradient><linearGradient id="h156" gradientUnits="userSpaceOnUse" x1="423.6" y1="61.5" x2="423.1" y2="66.8"><stop offset="0" stop-color="#0099ff"/><stop offset=".8" stop-color="#00ffff"/><stop offset="1" stop-color="#1affe5"/></linearGradient><linearGradient id="h157" gradientUnits="userSpaceOnUse" x1="423.6" y1="61.5" x2="433.6" y2="68.2"><stop offset="0" stop-color="#0099ff"/><stop offset="1" stop-color="#00ffff"/></linearGradient><linearGradient id="h158" gradientUnits="userSpaceOnUse" x1="434.5" y1="61.5" x2="432.4" y2="65.8"><stop offset="0" stop-color="#00e5ff"/><stop offset="1" stop-color="#00ffff"/></linearGradient><linearGradient id="h159" gradientUnits="userSpaceOnUse" x1="434.5" y1="61.5" x2="436.7" y2="57.2"><stop offset="0" stop-color="#00e5ff"/><stop offset=".5" stop-color="#00ffff"/><stop offset="1" stop-color="#1affe5"/></linearGradient><linearGradient id="h160" gradientUnits="userSpaceOnUse" x1="445.4" y1="66.8" x2="446.7" y2="61.8"><stop offset="0" stop-color="#00e5ff"/><stop offset=".5" stop-color="#00ffff"/><stop offset="1" stop-color="#1affe5"/></linearGradient><linearGradient id="h161" gradientUnits="userSpaceOnUse" x1="456.3" y1="66.8" x2="457.6" y2="61.8"><stop offset="0" stop-color="#00ffff"/><stop offset="1" stop-color="#33ffcc"/></linearGradient><linearGradient id="h162" gradientUnits="userSpaceOnUse" x1="456.3" y1="66.8" x2="456.3" y2="61.5"><stop offset="0" stop-color="#00ffff"/><stop offset="1" stop-color="#33ffcc"/></linearGradient><linearGradient id="h163" gradientUnits="userSpaceOnUse" x1="467.2" y1="61.5" x2="456.3" y2="61.5"><stop offset="0" stop-color="#00ffff"/><stop offset="1" stop-color="#33ffcc"/></linearGradient><linearGradient id="h164" gradientUnits="userSpaceOnUse" x1="478.1" y1="66.8" x2="467.2" y2="66.8"><stop offset="0" stop-color="#00e5ff"/><stop offset="1" stop-color="#00ffff"/></linearGradient><linearGradient id="h165" gradientUnits="userSpaceOnUse" x1="478.1" y1="61.5" x2="467.2" y2="61.5"><stop offset="0" stop-color="#00e5ff"/><stop offset="1" stop-color="#00ffff"/></linearGradient><linearGradient id="h166" gradientUnits="userSpaceOnUse" x1="489" y1="61.5" x2="486.9" y2="65.8"><stop offset="0" stop-color="#00ccff"/><stop offset="1" stop-color="#00e5ff"/></linearGradient><linearGradient id="h167" gradientUnits="userSpaceOnUse" x1="336.5" y1="61.5" x2="347.4" y2="61.5"><stop offset="0" stop-color="#f2ff0d"/><stop offset="1" stop-color="#ffff00"/></linearGradient><linearGradient id="h168" gradientUnits="userSpaceOnUse" x1="336.5" y1="56.1" x2="341.9" y2="50.7"><stop offset="0" stop-color="#f2ff0d"/><stop offset=".5" stop-color="#ffff00"/><stop offset="1" stop-color="#fff200"/></linearGradient><linearGradient id="h169" gradientUnits="userSpaceOnUse" x1="358.3" y1="61.5" x2="347.5" y2="56"><stop offset="0" stop-color="#ccff33"/><stop offset=".8" stop-color="#ffff00"/><stop offset="1" stop-color="#fff200"/></linearGradient><linearGradient id="h170" gradientUnits="userSpaceOnUse" x1="358.3" y1="61.5" x2="357.5" y2="54.9"><stop offset="0" stop-color="#ccff33"/><stop offset=".8" stop-color="#ffff00"/><stop offset="1" stop-color="#fff200"/></linearGradient><linearGradient id="h171" gradientUnits="userSpaceOnUse" x1="369.2" y1="61.5" x2="362.8" y2="52.8"><stop offset="0" stop-color="#80ff80"/><stop offset="1" stop-color="#ffff00"/></linearGradient><linearGradient id="h172" gradientUnits="userSpaceOnUse" x1="369.2" y1="56.1" x2="361" y2="60.8"><stop offset="0" stop-color="#4dffb2"/><stop offset="1" stop-color="#ffff00"/></linearGradient><linearGradient id="h173" gradientUnits="userSpaceOnUse" x1="380.1" y1="61.5" x2="374.7" y2="66.9"><stop offset="0" stop-color="#1affe5"/><stop offset="1" stop-color="#80ff80"/></linearGradient><linearGradient id="h174" gradientUnits="userSpaceOnUse" x1="380.1" y1="56.1" x2="372.6" y2="61.2"><stop offset="0" stop-color="#00ffff"/><stop offset="1" stop-color="#4dffb2"/></linearGradient><linearGradient id="h175" gradientUnits="userSpaceOnUse" x1="391" y1="61.5" x2="382.3" y2="65.9"><stop offset="0" stop-color="#00b2ff"/><stop offset=".75" stop-color="#00ffff"/><stop offset="1" stop-color="#1affe5"/></linearGradient><linearGradient id="h176" gradientUnits="userSpaceOnUse" x1="391" y1="56.1" x2="382.3" y2="60.5"><stop offset="0" stop-color="#0099ff"/><stop offset="1" stop-color="#00ffff"/></linearGradient><linearGradient id="h177" gradientUnits="userSpaceOnUse" x1="401.9" y1="61.5" x2="393.2" y2="65.9"><stop offset="0" stop-color="#004dff"/><stop offset="1" stop-color="#00b2ff"/></linearGradient><linearGradient id="h178" gradientUnits="userSpaceOnUse" x1="401.9" y1="61.5" x2="393.8" y2="53.3"><stop offset="0" stop-color="#004dff"/><stop offset="1" stop-color="#0099ff"/></linearGradient><linearGradient id="h179" gradientUnits="userSpaceOnUse" x1="401.9" y1="61.5" x2="403.1" y2="56.4"><stop offset="0" stop-color="#004dff"/><stop offset="1" stop-color="#0066ff"/></linearGradient><linearGradient id="h180" gradientUnits="userSpaceOnUse" x1="412.8" y1="61.5" x2="414.7" y2="56.9"><stop offset="0" stop-color="#0059ff"/><stop offset="1" stop-color="#00b2ff"/></linearGradient><linearGradient id="h181" gradientUnits="userSpaceOnUse" x1="412.8" y1="61.5" x2="414.4" y2="56.7"><stop offset="0" stop-color="#0059ff"/><stop offset="1" stop-color="#00b2ff"/></linearGradient><linearGradient id="h182" gradientUnits="userSpaceOnUse" x1="423.6" y1="61.5" x2="425.4" y2="56.7"><stop offset="0" stop-color="#0099ff"/><stop offset="1" stop-color="#00ffff"/></linearGradient><linearGradient id="h183" gradientUnits="userSpaceOnUse" x1="423.6" y1="61.5" x2="425.4" y2="56.7"><stop offset="0" stop-color="#0099ff"/><stop offset="1" stop-color="#00ffff"/></linearGradient><linearGradient id="h184" gradientUnits="userSpaceOnUse" x1="434.5" y1="61.5" x2="435.8" y2="56.4"><stop offset="0" stop-color="#00e5ff"/><stop offset=".5" stop-color="#00ffff"/><stop offset="1" stop-color="#1affe5"/></linearGradient><linearGradient id="h185" gradientUnits="userSpaceOnUse" x1="434.5" y1="61.5" x2="436.7" y2="57.2"><stop offset="0" stop-color="#00e5ff"/><stop offset=".5" stop-color="#00ffff"/><stop offset="1" stop-color="#1affe5"/></linearGradient><linearGradient id="h186" gradientUnits="userSpaceOnUse" x1="434.5" y1="56.1" x2="436.7" y2="51.8"><stop offset="0" stop-color="#1affe5"/><stop offset="1" stop-color="#b3ff4c"/></linearGradient><linearGradient id="h187" gradientUnits="userSpaceOnUse" x1="445.4" y1="61.5" x2="445.9" y2="56.1"><stop offset="0" stop-color="#1affe5"/><stop offset="1" stop-color="#b3ff4c"/></linearGradient><linearGradient id="h188" gradientUnits="userSpaceOnUse" x1="456.3" y1="61.5" x2="457.1" y2="56.2"><stop offset="0" stop-color="#33ffcc"/><stop offset="1" stop-color="#e5ff1a"/></linearGradient><linearGradient id="h189" gradientUnits="userSpaceOnUse" x1="467.2" y1="61.5" x2="466.3" y2="54.7"><stop offset="0" stop-color="#00ffff"/><stop offset="1" stop-color="#e5ff1a"/></linearGradient><linearGradient id="h190" gradientUnits="userSpaceOnUse" x1="467.2" y1="61.5" x2="459.2" y2="53.3"><stop offset="0" stop-color="#00ffff"/><stop offset="1" stop-color="#e5ff1a"/></linearGradient><linearGradient id="h191" gradientUnits="userSpaceOnUse" x1="478.1" y1="61.5" x2="477" y2="54.5"><stop offset="0" stop-color="#00e5ff"/><stop offset=".25" stop-color="#00ffff"/><stop offset="1" stop-color="#4dffb2"/></linearGradient><linearGradient id="h192" gradientUnits="userSpaceOnUse" x1="478.1" y1="61.5" x2="473.8" y2="52.8"><stop offset="0" stop-color="#00e5ff"/><stop offset=".25" stop-color="#00ffff"/><stop offset="1" stop-color="#4dffb2"/></linearGradient><linearGradient id="h193" gradientUnits="userSpaceOnUse" x1="489" y1="61.5" x2="487.1" y2="53.9"><stop offset="0" stop-color="#00ccff"/><stop offset=".667" stop-color="#00ffff"/><stop offset="1" stop-color="#1affe5"/></linearGradient><linearGradient id="h194" gradientUnits="userSpaceOnUse" x1="489" y1="61.5" x2="487.1" y2="53.9"><stop offset="0" stop-color="#00ccff"/><stop offset=".667" stop-color="#00ffff"/><stop offset="1" stop-color="#1affe5"/></linearGradient><linearGradient id="h195" gradientUnits="userSpaceOnUse" x1="336.5" y1="56.1" x2="341.9" y2="50.7"><stop offset="0" stop-color="#f2ff0d"/><stop offset=".5" stop-color="#ffff00"/><stop offset="1" stop-color="#fff200"/></linearGradient><linearGradient id="h196" gradientUnits="userSpaceOnUse" x1="336.5" y1="50.7" x2="339.3" y2="46"><stop offset="0" stop-color="#ffff00"/><stop offset="1" stop-color="#ffb300"/></linearGradient><linearGradient id="h197" gradientUnits="userSpaceOnUse" x1="358.3" y1="56.1" x2="357.7" y2="49.7"><stop offset="0" stop-color="#ffff00"/><stop offset="1" stop-color="#ffb300"/></linearGradient><linearGradient id="h198" gradientUnits="userSpaceOnUse" x1="358.3" y1="50.7" x2="351.7" y2="56.1"><stop offset="0" stop-color="#ccff33"/><stop offset=".4" stop-color="#ffff00"/><stop offset="1" stop-color="#ffb300"/></linearGradient><linearGradient id="h199" gradientUnits="userSpaceOnUse" x1="369.2" y1="56.1" x2="361" y2="60.8"><stop offset="0" stop-color="#4dffb2"/><stop offset="1" stop-color="#ffff00"/></linearGradient><linearGradient id="h200" gradientUnits="userSpaceOnUse" x1="369.2" y1="50.7" x2="361" y2="55.5"><stop offset="0" stop-color="#1affe5"/><stop offset="1" stop-color="#ccff33"/></linearGradient><linearGradient id="h201" gradientUnits="userSpaceOnUse" x1="380.1" y1="56.1" x2="376.2" y2="61.3"><stop offset="0" stop-color="#00ffff"/><stop offset="1" stop-color="#4dffb2"/></linearGradient><linearGradient id="h202" gradientUnits="userSpaceOnUse" x1="380.1" y1="50.7" x2="369.2" y2="50.7"><stop offset="0" stop-color="#00ffff"/><stop offset="1" stop-color="#1affe5"/></linearGradient><linearGradient id="h203" gradientUnits="userSpaceOnUse" x1="391" y1="56.1" x2="380.1" y2="56.1"><stop offset="0" stop-color="#0099ff"/><stop offset="1" stop-color="#00ffff"/></linearGradient><linearGradient id="h204" gradientUnits="userSpaceOnUse" x1="391" y1="56.1" x2="389.8" y2="49.1"><stop offset="0" stop-color="#0099ff"/><stop offset="1" stop-color="#00ffff"/></linearGradient><linearGradient id="h205" gradientUnits="userSpaceOnUse" x1="401.9" y1="56.1" x2="399.2" y2="48"><stop offset="0" stop-color="#0066ff"/><stop offset="1" stop-color="#00e5ff"/></linearGradient><linearGradient id="h206" gradientUnits="userSpaceOnUse" x1="401.9" y1="56.1" x2="402.1" y2="50.7"><stop offset="0" stop-color="#0066ff"/><stop offset="1" stop-color="#00f2ff"/></linearGradient><linearGradient id="h207" gradientUnits="userSpaceOnUse" x1="401.9" y1="56.1" x2="403.2" y2="51.1"><stop offset="0" stop-color="#0066ff"/><stop offset="1" stop-color="#00f2ff"/></linearGradient><linearGradient id="h208" gradientUnits="userSpaceOnUse" x1="412.8" y1="56.1" x2="412.8" y2="50.7"><stop offset="0" stop-color="#00b2ff"/><stop offset="1" stop-color="#00f2ff"/></linearGradient><linearGradient id="h209" gradientUnits="userSpaceOnUse" x1="412.8" y1="56.1" x2="415.6" y2="51.3"><stop offset="0" stop-color="#00b2ff"/><stop offset="1" stop-color="#00ffff"/></linearGradient><linearGradient id="h210" gradientUnits="userSpaceOnUse" x1="412.8" y1="50.7" x2="423.6" y2="50.7"><stop offset="0" stop-color="#00f2ff"/><stop offset="1" stop-color="#00ffff"/></linearGradient><linearGradient id="h211" gradientUnits="userSpaceOnUse" x1="423.6" y1="56.1" x2="434.5" y2="56.1"><stop offset="0" stop-color="#00ffff"/><stop offset="1" stop-color="#1affe5"/></linearGradient><linearGradient id="h212" gradientUnits="userSpaceOnUse" x1="423.6" y1="50.7" x2="434.5" y2="50.7"><stop offset="0" stop-color="#00ffff"/><stop offset="1" stop-color="#1affe5"/></linearGradient><linearGradient id="h213" gradientUnits="userSpaceOnUse" x1="434.5" y1="56.1" x2="445.4" y2="56.1"><stop offset="0" stop-color="#1affe5"/><stop offset="1" stop-color="#b3ff4c"/></linearGradient><linearGradient id="h214" gradientUnits="userSpaceOnUse" x1="434.5" y1="50.7" x2="438.8" y2="59.4"><stop offset="0" stop-color="#1affe5"/><stop offset="1" stop-color="#b3ff4c"/></linearGradient><linearGradient id="h215" gradientUnits="userSpaceOnUse" x1="445.4" y1="50.7" x2="448.1" y2="58.8"><stop offset="0" stop-color="#66ff99"/><stop offset="1" stop-color="#e5ff1a"/></linearGradient><linearGradient id="h216" gradientUnits="userSpaceOnUse" x1="445.4" y1="50.7" x2="456.3" y2="50.7"><stop offset="0" stop-color="#66ff99"/><stop offset="1" stop-color="#e5ff1a"/></linearGradient><linearGradient id="h217" gradientUnits="userSpaceOnUse" x1="467.2" y1="56.1" x2="456.3" y2="56.1"><stop offset="0" stop-color="#4dffb2"/><stop offset="1" stop-color="#e5ff1a"/></linearGradient><linearGradient id="h218" gradientUnits="userSpaceOnUse" x1="467.2" y1="56.1" x2="465.3" y2="48.5"><stop offset="0" stop-color="#4dffb2"/><stop offset="1" stop-color="#e5ff1a"/></linearGradient><linearGradient id="h219" gradientUnits="userSpaceOnUse" x1="478.1" y1="56.1" x2="476.2" y2="48.5"><stop offset="0" stop-color="#1affe5"/><stop offset="1" stop-color="#b3ff4c"/></linearGradient><linearGradient id="h220" gradientUnits="userSpaceOnUse" x1="478.1" y1="56.1" x2="476.2" y2="48.5"><stop offset="0" stop-color="#1affe5"/><stop offset="1" stop-color="#b3ff4c"/></linearGradient><linearGradient id="h221" gradientUnits="userSpaceOnUse" x1="489" y1="56.1" x2="488.2" y2="49.5"><stop offset="0" stop-color="#00ffff"/><stop offset="1" stop-color="#80ff80"/></linearGradient><linearGradient id="h222" gradientUnits="userSpaceOnUse" x1="489" y1="56.1" x2="478.2" y2="50.6"><stop offset="0" stop-color="#00ffff"/><stop offset="1" stop-color="#80ff80"/></linearGradient><linearGradient id="h223" gradientUnits="userSpaceOnUse" x1="336.5" y1="50.7" x2="338.6" y2="46.4"><stop offset="0" stop-color="#ffff00"/><stop offset="1" stop-color="#ffb300"/></linearGradient><linearGradient id="h224" gradientUnits="userSpaceOnUse" x1="336.5" y1="45.4" x2="338.6" y2="41"><stop offset="0" stop-color="#ffb300"/><stop offset="1" stop-color="#ff8000"/></linearGradient><linearGradient id="h225" gradientUnits="userSpaceOnUse" x1="358.3" y1="50.7" x2="349.1" y2="43.3"><stop offset="0" stop-color="#ccff33"/><stop offset=".286" stop-color="#ffff00"/><stop offset="1" stop-color="#ff8000"/></linearGradient><linearGradient id="h226" gradientUnits="userSpaceOnUse" x1="358.3" y1="50.7" x2="350.8" y2="42.3"><stop offset="0" stop-color="#ccff33"/><stop offset=".286" stop-color="#ffff00"/><stop offset="1" stop-color="#ff8000"/></linearGradient><linearGradient id="h227" gradientUnits="userSpaceOnUse" x1="369.2" y1="50.7" x2="359.5" y2="43.7"><stop offset="0" stop-color="#1affe5"/><stop offset=".947" stop-color="#ffff00"/><stop offset="1" stop-color="#fff200"/></linearGradient><linearGradient id="h228" gradientUnits="userSpaceOnUse" x1="369.2" y1="50.7" x2="363.3" y2="42"><stop offset="0" stop-color="#1affe5"/><stop offset=".947" stop-color="#ffff00"/><stop offset="1" stop-color="#fff200"/></linearGradient><linearGradient id="h229" gradientUnits="userSpaceOnUse" x1="380.1" y1="50.7" x2="379.3" y2="44.1"><stop offset="0" stop-color="#00ffff"/><stop offset="1" stop-color="#80ff80"/></linearGradient><linearGradient id="h230" gradientUnits="userSpaceOnUse" x1="380.1" y1="50.7" x2="373.7" y2="42"><stop offset="0" stop-color="#00ffff"/><stop offset="1" stop-color="#80ff80"/></linearGradient><linearGradient id="h231" gradientUnits="userSpaceOnUse" x1="391" y1="50.7" x2="389.1" y2="43.1"><stop offset="0" stop-color="#00e5ff"/><stop offset=".333" stop-color="#00ffff"/><stop offset="1" stop-color="#33ffcc"/></linearGradient><linearGradient id="h232" gradientUnits="userSpaceOnUse" x1="391" y1="50.7" x2="382.9" y2="42.6"><stop offset="0" stop-color="#00e5ff"/><stop offset=".333" stop-color="#00ffff"/><stop offset="1" stop-color="#33ffcc"/></linearGradient><linearGradient id="h233" gradientUnits="userSpaceOnUse" x1="391" y1="50.7" x2="392.2" y2="45.7"><stop offset="0" stop-color="#00e5ff"/><stop offset="1" stop-color="#00ffff"/></linearGradient><linearGradient id="h234" gradientUnits="userSpaceOnUse" x1="401.9" y1="45.4" x2="396.5" y2="50.8"><stop offset="0" stop-color="#00e5ff"/><stop offset="1" stop-color="#00ffff"/></linearGradient><linearGradient id="h235" gradientUnits="userSpaceOnUse" x1="401.9" y1="45.4" x2="401.9" y2="50.7"><stop offset="0" stop-color="#00e5ff"/><stop offset="1" stop-color="#00f2ff"/></linearGradient><linearGradient id="h236" gradientUnits="userSpaceOnUse" x1="401.9" y1="45.4" x2="407.2" y2="39.9"><stop offset="0" stop-color="#00e5ff"/><stop offset="1" stop-color="#00ffff"/></linearGradient><linearGradient id="h237" gradientUnits="userSpaceOnUse" x1="412.8" y1="50.7" x2="414.9" y2="46.4"><stop offset="0" stop-color="#00f2ff"/><stop offset="1" stop-color="#00ffff"/></linearGradient><linearGradient id="h238" gradientUnits="userSpaceOnUse" x1="412.8" y1="45.4" x2="414.9" y2="41"><stop offset="0" stop-color="#00ffff"/><stop offset="1" stop-color="#80ff80"/></linearGradient><linearGradient id="h239" gradientUnits="userSpaceOnUse" x1="423.6" y1="50.7" x2="424.2" y2="45.4"><stop offset="0" stop-color="#00ffff"/><stop offset="1" stop-color="#80ff80"/></linearGradient><linearGradient id="h240" gradientUnits="userSpaceOnUse" x1="434.5" y1="50.7" x2="435.9" y2="45.7"><stop offset="0" stop-color="#1affe5"/><stop offset="1" stop-color="#ffff00"/></linearGradient><linearGradient id="h241" gradientUnits="userSpaceOnUse" x1="434.5" y1="50.7" x2="435.4" y2="45.5"><stop offset="0" stop-color="#1affe5"/><stop offset="1" stop-color="#ffff00"/></linearGradient><linearGradient id="h242" gradientUnits="userSpaceOnUse" x1="445.4" y1="50.7" x2="445.8" y2="45.4"><stop offset="0" stop-color="#66ff99"/><stop offset=".857" stop-color="#ffff00"/><stop offset="1" stop-color="#ffe500"/></linearGradient><linearGradient id="h243" gradientUnits="userSpaceOnUse" x1="445.4" y1="50.7" x2="447.1" y2="45.9"><stop offset="0" stop-color="#66ff99"/><stop offset=".857" stop-color="#ffff00"/><stop offset="1" stop-color="#ffe500"/></linearGradient><linearGradient id="h244" gradientUnits="userSpaceOnUse" x1="456.3" y1="50.7" x2="457.2" y2="45.5"><stop offset="0" stop-color="#e5ff1a"/><stop offset=".333" stop-color="#ffff00"/><stop offset="1" stop-color="#ffcc00"/></linearGradient><linearGradient id="h245" gradientUnits="userSpaceOnUse" x1="467.2" y1="50.7" x2="464.6" y2="42.6"><stop offset="0" stop-color="#b3ff4c"/><stop offset=".6" stop-color="#ffff00"/><stop offset="1" stop-color="#ffcc00"/></linearGradient><linearGradient id="h246" gradientUnits="userSpaceOnUse" x1="467.2" y1="50.7" x2="460.8" y2="42"><stop offset="0" stop-color="#b3ff4c"/><stop offset=".6" stop-color="#ffff00"/><stop offset="1" stop-color="#ffcc00"/></linearGradient><linearGradient id="h247" gradientUnits="userSpaceOnUse" x1="478.1" y1="50.7" x2="473.8" y2="42.1"><stop offset="0" stop-color="#80ff80"/><stop offset="1" stop-color="#e5ff1a"/></linearGradient><linearGradient id="h248" gradientUnits="userSpaceOnUse" x1="478.1" y1="45.4" x2="467.2" y2="45.4"><stop offset="0" stop-color="#80ff80"/><stop offset="1" stop-color="#e5ff1a"/></linearGradient><linearGradient id="h249" gradientUnits="userSpaceOnUse" x1="489" y1="50.7" x2="478.1" y2="50.7"><stop offset="0" stop-color="#1affe5"/><stop offset="1" stop-color="#80ff80"/></linearGradient><linearGradient id="h250" gradientUnits="userSpaceOnUse" x1="489" y1="50.7" x2="479" y2="44"><stop offset="0" stop-color="#1affe5"/><stop offset="1" stop-color="#80ff80"/></linearGradient><linearGradient id="h251" gradientUnits="userSpaceOnUse" x1="336.5" y1="45.4" x2="337.9" y2="40.4"><stop offset="0" stop-color="#ffb300"/><stop offset="1" stop-color="#ff5900"/></linearGradient><linearGradient id="h252" gradientUnits="userSpaceOnUse" x1="347.4" y1="45.4" x2="348.6" y2="40.3"><stop offset="0" stop-color="#ff8000"/><stop offset="1" stop-color="#ff3300"/></linearGradient><linearGradient id="h253" gradientUnits="userSpaceOnUse" x1="358.3" y1="45.4" x2="351.9" y2="36.7"><stop offset="0" stop-color="#fff200"/><stop offset="1" stop-color="#ff3300"/></linearGradient><linearGradient id="h254" gradientUnits="userSpaceOnUse" x1="358.3" y1="45.4" x2="358.1" y2="39.6"><stop offset="0" stop-color="#fff200"/><stop offset="1" stop-color="#ff3300"/></linearGradient><linearGradient id="h255" gradientUnits="userSpaceOnUse" x1="369.2" y1="45.4" x2="365.9" y2="37"><stop offset="0" stop-color="#80ff80"/><stop offset=".4" stop-color="#ffff00"/><stop offset="1" stop-color="#ff4000"/></linearGradient><linearGradient id="h256" gradientUnits="userSpaceOnUse" x1="369.2" y1="45.4" x2="368.4" y2="38.7"><stop offset="0" stop-color="#80ff80"/><stop offset=".4" stop-color="#ffff00"/><stop offset="1" stop-color="#ff4000"/></linearGradient><linearGradient id="h257" gradientUnits="userSpaceOnUse" x1="380.1" y1="45.4" x2="379.1" y2="38.5"><stop offset="0" stop-color="#33ffcc"/><stop offset=".615" stop-color="#ffff00"/><stop offset="1" stop-color="#ff8000"/></linearGradient><linearGradient id="h258" gradientUnits="userSpaceOnUse" x1="380.1" y1="45.4" x2="379.7" y2="39.3"><stop offset="0" stop-color="#33ffcc"/><stop offset=".615" stop-color="#ffff00"/><stop offset="1" stop-color="#ff8000"/></linearGradient><linearGradient id="h259" gradientUnits="userSpaceOnUse" x1="391" y1="45.4" x2="390.4" y2="39.1"><stop offset="0" stop-color="#00ffff"/><stop offset=".741" stop-color="#ffff00"/><stop offset="1" stop-color="#ffa600"/></linearGradient><linearGradient id="h260" gradientUnits="userSpaceOnUse" x1="391" y1="45.4" x2="390.2" y2="38.8"><stop offset="0" stop-color="#00ffff"/><stop offset=".741" stop-color="#ffff00"/><stop offset="1" stop-color="#ffa600"/></linearGradient><linearGradient id="h261" gradientUnits="userSpaceOnUse" x1="401.9" y1="45.4" x2="401.6" y2="39.5"><stop offset="0" stop-color="#00e5ff"/><stop offset=".083" stop-color="#00ffff"/><stop offset=".917" stop-color="#ffff00"/><stop offset="1" stop-color="#ffe500"/></linearGradient><linearGradient id="h262" gradientUnits="userSpaceOnUse" x1="401.9" y1="45.4" x2="401.2" y2="39"><stop offset="0" stop-color="#00e5ff"/><stop offset=".083" stop-color="#00ffff"/><stop offset=".917" stop-color="#ffff00"/><stop offset="1" stop-color="#ffe500"/></linearGradient><linearGradient id="h263" gradientUnits="userSpaceOnUse" x1="401.9" y1="45.4" x2="402.1" y2="40"><stop offset="0" stop-color="#00e5ff"/><stop offset=".1" stop-color="#00ffff"/><stop offset="1" stop-color="#e5ff1a"/></linearGradient><linearGradient id="h264" gradientUnits="userSpaceOnUse" x1="412.8" y1="45.4" x2="412.8" y2="40"><stop offset="0" stop-color="#00ffff"/><stop offset="1" stop-color="#e5ff1a"/></linearGradient><linearGradient id="h265" gradientUnits="userSpaceOnUse" x1="412.8" y1="45.4" x2="414.1" y2="40.4"><stop offset="0" stop-color="#00ffff"/><stop offset="1" stop-color="#e5ff1a"/></linearGradient><linearGradient id="h266" gradientUnits="userSpaceOnUse" x1="423.6" y1="45.4" x2="425.2" y2="40.5"><stop offset="0" stop-color="#80ff80"/><stop offset=".435" stop-color="#ffff00"/><stop offset="1" stop-color="#ff5900"/></linearGradient><linearGradient id="h267" gradientUnits="userSpaceOnUse" x1="423.6" y1="45.4" x2="424.7" y2="40.2"><stop offset="0" stop-color="#80ff80"/><stop offset=".435" stop-color="#ffff00"/><stop offset="1" stop-color="#ff5900"/></linearGradient><linearGradient id="h268" gradientUnits="userSpaceOnUse" x1="434.5" y1="45.4" x2="435.6" y2="40.2"><stop offset="0" stop-color="#ffff00"/><stop offset=".87" stop-color="#ff0000"/><stop offset="1" stop-color="#d90000"/></linearGradient><linearGradient id="h269" gradientUnits="userSpaceOnUse" x1="434.5" y1="45.4" x2="434.8" y2="40"><stop offset="0" stop-color="#ffff00"/><stop offset=".87" stop-color="#ff0000"/><stop offset="1" stop-color="#d90000"/></linearGradient><linearGradient id="h270" gradientUnits="userSpaceOnUse" x1="445.4" y1="45.4" x2="436.2" y2="37.9"><stop offset="0" stop-color="#ffe500"/><stop offset=".857" stop-color="#ff0000"/><stop offset="1" stop-color="#d90000"/></linearGradient><linearGradient id="h271" gradientUnits="userSpaceOnUse" x1="445.4" y1="45.4" x2="446.3" y2="40.1"><stop offset="0" stop-color="#ffe500"/><stop offset="1" stop-color="#ff9900"/></linearGradient><linearGradient id="h272" gradientUnits="userSpaceOnUse" x1="456.3" y1="40" x2="451" y2="45.4"><stop offset="0" stop-color="#ffff00"/><stop offset="1" stop-color="#ff9900"/></linearGradient><linearGradient id="h273" gradientUnits="userSpaceOnUse" x1="467.2" y1="45.4" x2="463.4" y2="50.6"><stop offset="0" stop-color="#e5ff1a"/><stop offset=".333" stop-color="#ffff00"/><stop offset="1" stop-color="#ffcc00"/></linearGradient><linearGradient id="h274" gradientUnits="userSpaceOnUse" x1="467.2" y1="40" x2="456.3" y2="40"><stop offset="0" stop-color="#e5ff1a"/><stop offset="1" stop-color="#ffff00"/></linearGradient><linearGradient id="h275" gradientUnits="userSpaceOnUse" x1="478.1" y1="45.4" x2="467.2" y2="45.4"><stop offset="0" stop-color="#80ff80"/><stop offset="1" stop-color="#e5ff1a"/></linearGradient><linearGradient id="h276" gradientUnits="userSpaceOnUse" x1="478.1" y1="45.4" x2="473.8" y2="36.7"><stop offset="0" stop-color="#80ff80"/><stop offset="1" stop-color="#e5ff1a"/></linearGradient><linearGradient id="h277" gradientUnits="userSpaceOnUse" x1="489" y1="45.4" x2="482.6" y2="36.7"><stop offset="0" stop-color="#33ffcc"/><stop offset="1" stop-color="#b3ff4c"/></linearGradient><linearGradient id="h278" gradientUnits="userSpaceOnUse" x1="489" y1="45.4" x2="486.3" y2="37.3"><stop offset="0" stop-color="#33ffcc"/><stop offset="1" stop-color="#b3ff4c"/></linearGradient><linearGradient id="h279" gradientUnits="userSpaceOnUse" x1="336.5" y1="34.6" x2="346.5" y2="41.4"><stop offset="0" stop-color="#ff6600"/><stop offset="1" stop-color="#ff3300"/></linearGradient><linearGradient id="h280" gradientUnits="userSpaceOnUse" x1="336.5" y1="34.6" x2="340.8" y2="43.3"><stop offset="0" stop-color="#ff6600"/><stop offset="1" stop-color="#ff3300"/></linearGradient><linearGradient id="h281" gradientUnits="userSpaceOnUse" x1="347.4" y1="34.6" x2="346.1" y2="39.7"><stop offset="0" stop-color="#ff4c00"/><stop offset="1" stop-color="#ff3300"/></linearGradient><linearGradient id="h282" gradientUnits="userSpaceOnUse" x1="347.4" y1="34.6" x2="352.8" y2="29.2"><stop offset="0" stop-color="#ff4c00"/><stop offset="1" stop-color="#ff3300"/></linearGradient><linearGradient id="h283" gradientUnits="userSpaceOnUse" x1="369.2" y1="40" x2="358" y2="35.4"><stop offset="0" stop-color="#ff8000"/><stop offset="1" stop-color="#ff3300"/></linearGradient><linearGradient id="h284" gradientUnits="userSpaceOnUse" x1="369.2" y1="40" x2="370" y2="34.8"><stop offset="0" stop-color="#ff8000"/><stop offset="1" stop-color="#ff0d00"/></linearGradient><linearGradient id="h285" gradientUnits="userSpaceOnUse" x1="380.1" y1="40" x2="378.9" y2="33"><stop offset="0" stop-color="#ffa600"/><stop offset="1" stop-color="#ff0d00"/></linearGradient><linearGradient id="h286" gradientUnits="userSpaceOnUse" x1="380.1" y1="40" x2="377.2" y2="31.8"><stop offset="0" stop-color="#ffa600"/><stop offset="1" stop-color="#ff0d00"/></linearGradient><linearGradient id="h287" gradientUnits="userSpaceOnUse" x1="391" y1="40" x2="388.1" y2="31.8"><stop offset="0" stop-color="#ffe500"/><stop offset="1" stop-color="#ff4c00"/></linearGradient><linearGradient id="h288" gradientUnits="userSpaceOnUse" x1="391" y1="40" x2="390.3" y2="33.6"><stop offset="0" stop-color="#ffe500"/><stop offset="1" stop-color="#ff4c00"/></linearGradient><linearGradient id="h289" gradientUnits="userSpaceOnUse" x1="401.9" y1="40" x2="400.4" y2="32.7"><stop offset="0" stop-color="#e5ff1a"/><stop offset=".143" stop-color="#ffff00"/><stop offset="1" stop-color="#ff6600"/></linearGradient><linearGradient id="h290" gradientUnits="userSpaceOnUse" x1="401.9" y1="40" x2="401.3" y2="33.8"><stop offset="0" stop-color="#e5ff1a"/><stop offset=".143" stop-color="#ffff00"/><stop offset="1" stop-color="#ff6600"/></linearGradient><linearGradient id="h291" gradientUnits="userSpaceOnUse" x1="401.9" y1="40" x2="401.9" y2="34.6"><stop offset="0" stop-color="#e5ff1a"/><stop offset=".167" stop-color="#ffff00"/><stop offset="1" stop-color="#ff8000"/></linearGradient><linearGradient id="h292" gradientUnits="userSpaceOnUse" x1="412.8" y1="40" x2="413.6" y2="34.8"><stop offset="0" stop-color="#e5ff1a"/><stop offset=".111" stop-color="#ffff00"/><stop offset="1" stop-color="#ff3300"/></linearGradient><linearGradient id="h293" gradientUnits="userSpaceOnUse" x1="412.8" y1="40" x2="414.6" y2="35.4"><stop offset="0" stop-color="#e5ff1a"/><stop offset=".111" stop-color="#ffff00"/><stop offset="1" stop-color="#ff3300"/></linearGradient><linearGradient id="h294" gradientUnits="userSpaceOnUse" x1="423.6" y1="40" x2="425" y2="35"><stop offset="0" stop-color="#ff5900"/><stop offset="1" stop-color="#ff0000"/></linearGradient><linearGradient id="h295" gradientUnits="userSpaceOnUse" x1="423.6" y1="40" x2="427.3" y2="34.9"><stop offset="0" stop-color="#ff5900"/><stop offset=".7" stop-color="#ff0000"/><stop offset="1" stop-color="#d90000"/></linearGradient><linearGradient id="h296" gradientUnits="userSpaceOnUse" x1="423.6" y1="34.6" x2="429" y2="29.2"><stop offset="0" stop-color="#ff0000"/><stop offset="1" stop-color="#b30000"/></linearGradient><linearGradient id="h297" gradientUnits="userSpaceOnUse" x1="445.4" y1="40" x2="434.2" y2="35.4"><stop offset="0" stop-color="#ff9900"/><stop offset=".667" stop-color="#ff0000"/><stop offset="1" stop-color="#b30000"/></linearGradient><linearGradient id="h298" gradientUnits="userSpaceOnUse" x1="445.4" y1="34.6" x2="436.8" y2="39"><stop offset="0" stop-color="#ffe500"/><stop offset=".75" stop-color="#ff0000"/><stop offset="1" stop-color="#b30000"/></linearGradient><linearGradient id="h299" gradientUnits="userSpaceOnUse" x1="456.3" y1="40" x2="453" y2="45"><stop offset="0" stop-color="#ffff00"/><stop offset="1" stop-color="#ff9900"/></linearGradient><linearGradient id="h300" gradientUnits="userSpaceOnUse" x1="456.3" y1="40" x2="457.9" y2="35.1"><stop offset="0" stop-color="#ffff00"/><stop offset="1" stop-color="#ffb300"/></linearGradient><linearGradient id="h301" gradientUnits="userSpaceOnUse" x1="467.2" y1="40" x2="466.1" y2="33"><stop offset="0" stop-color="#e5ff1a"/><stop offset=".25" stop-color="#ffff00"/><stop offset="1" stop-color="#ffb300"/></linearGradient><linearGradient id="h302" gradientUnits="userSpaceOnUse" x1="467.2" y1="34.6" x2="457.9" y2="38.4"><stop offset="0" stop-color="#ccff33"/><stop offset=".4" stop-color="#ffff00"/><stop offset="1" stop-color="#ffb300"/></linearGradient><linearGradient id="h303" gradientUnits="userSpaceOnUse" x1="478.1" y1="40" x2="472.7" y2="45.4"><stop offset="0" stop-color="#b3ff4c"/><stop offset="1" stop-color="#e5ff1a"/></linearGradient><linearGradient id="h304" gradientUnits="userSpaceOnUse" x1="478.1" y1="40" x2="479.4" y2="34.9"><stop offset="0" stop-color="#b3ff4c"/><stop offset="1" stop-color="#e5ff1a"/></linearGradient><linearGradient id="h305" gradientUnits="userSpaceOnUse" x1="489" y1="40" x2="484.7" y2="31.3"><stop offset="0" stop-color="#80ff80"/><stop offset="1" stop-color="#e5ff1a"/></linearGradient><linearGradient id="h306" gradientUnits="userSpaceOnUse" x1="489" y1="40" x2="489" y2="34.6"><stop offset="0" stop-color="#80ff80"/><stop offset="1" stop-color="#e5ff1a"/></linearGradient><linearGradient id="h307" gradientUnits="userSpaceOnUse" x1="336.5" y1="34.6" x2="338.1" y2="29.8"><stop offset="0" stop-color="#ff6600"/><stop offset="1" stop-color="#ff4000"/></linearGradient><linearGradient id="h308" gradientUnits="userSpaceOnUse" x1="347.4" y1="34.6" x2="349" y2="29.8"><stop offset="0" stop-color="#ff4c00"/><stop offset="1" stop-color="#ff2600"/></linearGradient><linearGradient id="h309" gradientUnits="userSpaceOnUse" x1="347.4" y1="34.6" x2="349" y2="29.8"><stop offset="0" stop-color="#ff4c00"/><stop offset="1" stop-color="#ff2600"/></linearGradient><linearGradient id="h310" gradientUnits="userSpaceOnUse" x1="358.3" y1="34.6" x2="360" y2="29.9"><stop offset="0" stop-color="#ff3300"/><stop offset="1" stop-color="#ff0000"/></linearGradient><linearGradient id="h311" gradientUnits="userSpaceOnUse" x1="358.3" y1="34.6" x2="360" y2="29.9"><stop offset="0" stop-color="#ff3300"/><stop offset="1" stop-color="#ff0000"/></linearGradient><linearGradient id="h312" gradientUnits="userSpaceOnUse" x1="369.2" y1="34.6" x2="370.8" y2="29.8"><stop offset="0" stop-color="#ff0d00"/><stop offset=".333" stop-color="#ff0000"/><stop offset="1" stop-color="#e50000"/></linearGradient><linearGradient id="h313" gradientUnits="userSpaceOnUse" x1="380.1" y1="34.6" x2="373" y2="26.1"><stop offset="0" stop-color="#ff4c00"/><stop offset=".75" stop-color="#ff0000"/><stop offset="1" stop-color="#e50000"/></linearGradient><linearGradient id="h314" gradientUnits="userSpaceOnUse" x1="380.1" y1="34.6" x2="381.1" y2="29.4"><stop offset="0" stop-color="#ff4c00"/><stop offset=".462" stop-color="#ff0000"/><stop offset="1" stop-color="#a60000"/></linearGradient><linearGradient id="h315" gradientUnits="userSpaceOnUse" x1="391" y1="34.6" x2="390.5" y2="28.5"><stop offset="0" stop-color="#ff6600"/><stop offset=".533" stop-color="#ff0000"/><stop offset="1" stop-color="#a60000"/></linearGradient><linearGradient id="h316" gradientUnits="userSpaceOnUse" x1="391" y1="34.6" x2="389.1" y2="27"><stop offset="0" stop-color="#ff6600"/><stop offset=".533" stop-color="#ff0000"/><stop offset="1" stop-color="#a60000"/></linearGradient><linearGradient id="h317" gradientUnits="userSpaceOnUse" x1="401.9" y1="34.6" x2="401.2" y2="28.2"><stop offset="0" stop-color="#ff8000"/><stop offset=".833" stop-color="#ff0000"/><stop offset="1" stop-color="#e50000"/></linearGradient><linearGradient id="h318" gradientUnits="userSpaceOnUse" x1="401.9" y1="34.6" x2="401.2" y2="28.2"><stop offset="0" stop-color="#ff8000"/><stop offset=".833" stop-color="#ff0000"/><stop offset="1" stop-color="#e50000"/></linearGradient><linearGradient id="h319" gradientUnits="userSpaceOnUse" x1="401.9" y1="34.6" x2="403.3" y2="29.7"><stop offset="0" stop-color="#ff8000"/><stop offset="1" stop-color="#ff0000"/></linearGradient><linearGradient id="h320" gradientUnits="userSpaceOnUse" x1="412.8" y1="34.6" x2="412.8" y2="29.2"><stop offset="0" stop-color="#ff3300"/><stop offset="1" stop-color="#ff0000"/></linearGradient><linearGradient id="h321" gradientUnits="userSpaceOnUse" x1="412.8" y1="34.6" x2="414.9" y2="30.3"><stop offset="0" stop-color="#ff3300"/><stop offset="1" stop-color="#ff0000"/></linearGradient><linearGradient id="h322" gradientUnits="userSpaceOnUse" x1="412.8" y1="29.2" x2="414.9" y2="24.9"><stop offset="0" stop-color="#ff0000"/><stop offset="1" stop-color="#e50000"/></linearGradient><linearGradient id="h323" gradientUnits="userSpaceOnUse" x1="423.6" y1="34.6" x2="431.1" y2="29.6"><stop offset="0" stop-color="#ff0000"/><stop offset="1" stop-color="#b30000"/></linearGradient><linearGradient id="h324" gradientUnits="userSpaceOnUse" x1="423.6" y1="29.2" x2="427.9" y2="37.9"><stop offset="0" stop-color="#e50000"/><stop offset="1" stop-color="#b30000"/></linearGradient><linearGradient id="h325" gradientUnits="userSpaceOnUse" x1="445.4" y1="34.6" x2="434.8" y2="36.4"><stop offset="0" stop-color="#ffe500"/><stop offset=".75" stop-color="#ff0000"/><stop offset="1" stop-color="#b30000"/></linearGradient><linearGradient id="h326" gradientUnits="userSpaceOnUse" x1="445.4" y1="34.6" x2="438.1" y2="26.1"><stop offset="0" stop-color="#ffe500"/><stop offset=".818" stop-color="#ff0000"/><stop offset="1" stop-color="#cc0000"/></linearGradient><linearGradient id="h327" gradientUnits="userSpaceOnUse" x1="445.4" y1="34.6" x2="446.7" y2="29.6"><stop offset="0" stop-color="#ffe500"/><stop offset="1" stop-color="#ff8000"/></linearGradient><linearGradient id="h328" gradientUnits="userSpaceOnUse" x1="456.3" y1="34.6" x2="457.6" y2="29.6"><stop offset="0" stop-color="#ffb300"/><stop offset="1" stop-color="#ff4c00"/></linearGradient><linearGradient id="h329" gradientUnits="userSpaceOnUse" x1="467.2" y1="34.6" x2="461.8" y2="25.9"><stop offset="0" stop-color="#ccff33"/><stop offset=".222" stop-color="#ffff00"/><stop offset="1" stop-color="#ff4c00"/></linearGradient><linearGradient id="h330" gradientUnits="userSpaceOnUse" x1="467.2" y1="34.6" x2="459.2" y2="26.4"><stop offset="0" stop-color="#ccff33"/><stop offset=".222" stop-color="#ffff00"/><stop offset="1" stop-color="#ff4c00"/></linearGradient><linearGradient id="h331" gradientUnits="userSpaceOnUse" x1="467.2" y1="34.6" x2="468.1" y2="29.4"><stop offset="0" stop-color="#ccff33"/><stop offset=".667" stop-color="#ffff00"/><stop offset="1" stop-color="#ffe500"/></linearGradient><linearGradient id="h332" gradientUnits="userSpaceOnUse" x1="478.1" y1="34.6" x2="473.8" y2="26"><stop offset="0" stop-color="#e5ff1a"/><stop offset=".5" stop-color="#ffff00"/><stop offset="1" stop-color="#ffe500"/></linearGradient><linearGradient id="h333" gradientUnits="userSpaceOnUse" x1="478.1" y1="34.6" x2="478.1" y2="29.2"><stop offset="0" stop-color="#e5ff1a"/><stop offset="1" stop-color="#ffff00"/></linearGradient><linearGradient id="h334" gradientUnits="userSpaceOnUse" x1="489" y1="34.6" x2="484.7" y2="26"><stop offset="0" stop-color="#e5ff1a"/><stop offset="1" stop-color="#ffff00"/></linearGradient><linearGradient id="h335" gradientUnits="userSpaceOnUse" x1="336.5" y1="29.2" x2="338.1" y2="24.4"><stop offset="0" stop-color="#ff4000"/><stop offset="1" stop-color="#ff1a00"/></linearGradient><linearGradient id="h336" gradientUnits="userSpaceOnUse" x1="347.4" y1="29.2" x2="349" y2="24.4"><stop offset="0" stop-color="#ff2600"/><stop offset="1" stop-color="#ff0000"/></linearGradient><linearGradient id="h337" gradientUnits="userSpaceOnUse" x1="347.4" y1="29.2" x2="349.5" y2="24.9"><stop offset="0" stop-color="#ff2600"/><stop offset="1" stop-color="#ff0000"/></linearGradient><linearGradient id="h338" gradientUnits="userSpaceOnUse" x1="347.4" y1="23.9" x2="349.5" y2="19.6"><stop offset="0" stop-color="#ff0000"/><stop offset="1" stop-color="#e50000"/></linearGradient><linearGradient id="h339" gradientUnits="userSpaceOnUse" x1="358.3" y1="29.2" x2="360.4" y2="24.9"><stop offset="0" stop-color="#ff0000"/><stop offset="1" stop-color="#e50000"/></linearGradient><linearGradient id="h340" gradientUnits="userSpaceOnUse" x1="358.3" y1="23.9" x2="360.4" y2="19.6"><stop offset="0" stop-color="#e50000"/><stop offset="1" stop-color="#8c0000"/></linearGradient><linearGradient id="h341" gradientUnits="userSpaceOnUse" x1="369.2" y1="29.2" x2="370.9" y2="24.5"><stop offset="0" stop-color="#e50000"/><stop offset="1" stop-color="#8c0000"/></linearGradient><linearGradient id="h342" gradientUnits="userSpaceOnUse" x1="380.1" y1="23.9" x2="372.6" y2="28.9"><stop offset="0" stop-color="#b30000"/><stop offset="1" stop-color="#8c0000"/></linearGradient><linearGradient id="h343" gradientUnits="userSpaceOnUse" x1="391" y1="29.2" x2="381.6" y2="33"><stop offset="0" stop-color="#e50000"/><stop offset="1" stop-color="#a60000"/></linearGradient><linearGradient id="h344" gradientUnits="userSpaceOnUse" x1="391" y1="29.2" x2="391.8" y2="24"><stop offset="0" stop-color="#e50000"/><stop offset="1" stop-color="#990000"/></linearGradient><linearGradient id="h345" gradientUnits="userSpaceOnUse" x1="401.9" y1="29.2" x2="400.7" y2="22.3"><stop offset="0" stop-color="#ff0000"/><stop offset="1" stop-color="#990000"/></linearGradient><linearGradient id="h346" gradientUnits="userSpaceOnUse" x1="401.9" y1="29.2" x2="397.6" y2="20.6"><stop offset="0" stop-color="#ff0000"/><stop offset="1" stop-color="#990000"/></linearGradient><linearGradient id="h347" gradientUnits="userSpaceOnUse" x1="401.9" y1="29.2" x2="401.9" y2="23.9"><stop offset="0" stop-color="#ff0000"/><stop offset="1" stop-color="#cc0000"/></linearGradient><linearGradient id="h348" gradientUnits="userSpaceOnUse" x1="412.8" y1="29.2" x2="408.5" y2="20.6"><stop offset="0" stop-color="#ff0000"/><stop offset="1" stop-color="#cc0000"/></linearGradient><linearGradient id="h349" gradientUnits="userSpaceOnUse" x1="412.8" y1="29.2" x2="414.9" y2="24.9"><stop offset="0" stop-color="#ff0000"/><stop offset="1" stop-color="#e50000"/></linearGradient><linearGradient id="h350" gradientUnits="userSpaceOnUse" x1="412.8" y1="23.9" x2="414.9" y2="19.6"><stop offset="0" stop-color="#e50000"/><stop offset="1" stop-color="#bf0000"/></linearGradient><linearGradient id="h351" gradientUnits="userSpaceOnUse" x1="423.6" y1="29.2" x2="425.2" y2="24.4"><stop offset="0" stop-color="#e50000"/><stop offset="1" stop-color="#bf0000"/></linearGradient><linearGradient id="h352" gradientUnits="userSpaceOnUse" x1="434.5" y1="23.9" x2="423.6" y2="23.9"><stop offset="0" stop-color="#cc0000"/><stop offset="1" stop-color="#bf0000"/></linearGradient><linearGradient id="h353" gradientUnits="userSpaceOnUse" x1="445.4" y1="29.2" x2="434.5" y2="29.2"><stop offset="0" stop-color="#ff8000"/><stop offset=".714" stop-color="#ff0000"/><stop offset="1" stop-color="#cc0000"/></linearGradient><linearGradient id="h354" gradientUnits="userSpaceOnUse" x1="445.4" y1="29.2" x2="434" y2="25.4"><stop offset="0" stop-color="#ff8000"/><stop offset=".714" stop-color="#ff0000"/><stop offset="1" stop-color="#cc0000"/></linearGradient><linearGradient id="h355" gradientUnits="userSpaceOnUse" x1="445.4" y1="29.2" x2="450.8" y2="23.8"><stop offset="0" stop-color="#ff8000"/><stop offset="1" stop-color="#ff4c00"/></linearGradient><linearGradient id="h356" gradientUnits="userSpaceOnUse" x1="456.3" y1="23.9" x2="455.1" y2="28.9"><stop offset="0" stop-color="#ff8000"/><stop offset="1" stop-color="#ff4c00"/></linearGradient><linearGradient id="h357" gradientUnits="userSpaceOnUse" x1="467.2" y1="29.2" x2="459.7" y2="34.3"><stop offset="0" stop-color="#ffe500"/><stop offset="1" stop-color="#ff4c00"/></linearGradient><linearGradient id="h358" gradientUnits="userSpaceOnUse" x1="467.2" y1="29.2" x2="460.2" y2="20.7"><stop offset="0" stop-color="#ffe500"/><stop offset="1" stop-color="#ff8000"/></linearGradient><linearGradient id="h359" gradientUnits="userSpaceOnUse" x1="478.1" y1="29.2" x2="475.5" y2="21.2"><stop offset="0" stop-color="#ffff00"/><stop offset="1" stop-color="#ffbf00"/></linearGradient><linearGradient id="h360" gradientUnits="userSpaceOnUse" x1="478.1" y1="29.2" x2="467.3" y2="23.8"><stop offset="0" stop-color="#ffff00"/><stop offset="1" stop-color="#ffbf00"/></linearGradient><linearGradient id="h361" gradientUnits="userSpaceOnUse" x1="489" y1="29.2" x2="484.7" y2="20.6"><stop offset="0" stop-color="#f2ff0d"/><stop offset=".5" stop-color="#ffff00"/><stop offset="1" stop-color="#fff200"/></linearGradient><linearGradient id="h362" gradientUnits="userSpaceOnUse" x1="489" y1="29.2" x2="484.7" y2="20.6"><stop offset="0" stop-color="#f2ff0d"/><stop offset=".5" stop-color="#ffff00"/><stop offset="1" stop-color="#fff200"/></linearGradient><linearGradient id="h363" gradientUnits="userSpaceOnUse" x1="336.5" y1="23.9" x2="338.1" y2="19"><stop offset="0" stop-color="#ff1a00"/><stop offset=".667" stop-color="#ff0000"/><stop offset="1" stop-color="#f20000"/></linearGradient><linearGradient id="h364" gradientUnits="userSpaceOnUse" x1="347.4" y1="23.9" x2="347.4" y2="18.5"><stop offset="0" stop-color="#ff0000"/><stop offset="1" stop-color="#f20000"/></linearGradient><linearGradient id="h365" gradientUnits="userSpaceOnUse" x1="347.4" y1="23.9" x2="352.8" y2="18.4"><stop offset="0" stop-color="#ff0000"/><stop offset="1" stop-color="#e50000"/></linearGradient><linearGradient id="h366" gradientUnits="userSpaceOnUse" x1="347.4" y1="18.5" x2="358.3" y2="18.5"><stop offset="0" stop-color="#f20000"/><stop offset="1" stop-color="#e50000"/></linearGradient><linearGradient id="h367" gradientUnits="userSpaceOnUse" x1="358.3" y1="23.9" x2="369.2" y2="23.9"><stop offset="0" stop-color="#e50000"/><stop offset="1" stop-color="#8c0000"/></linearGradient><linearGradient id="h368" gradientUnits="userSpaceOnUse" x1="358.3" y1="18.5" x2="369.2" y2="18.5"><stop offset="0" stop-color="#e50000"/><stop offset="1" stop-color="#8c0000"/></linearGradient><linearGradient id="h369" gradientUnits="userSpaceOnUse" x1="380.1" y1="23.9" x2="369.2" y2="23.9"><stop offset="0" stop-color="#b30000"/><stop offset="1" stop-color="#8c0000"/></linearGradient><linearGradient id="h370" gradientUnits="userSpaceOnUse" x1="380.1" y1="23.9" x2="378.2" y2="16.3"><stop offset="0" stop-color="#b30000"/><stop offset="1" stop-color="#8c0000"/></linearGradient><linearGradient id="h371" gradientUnits="userSpaceOnUse" x1="380.1" y1="23.9" x2="382.2" y2="19.6"><stop offset="0" stop-color="#b30000"/><stop offset="1" stop-color="#990000"/></linearGradient><linearGradient id="h372" gradientUnits="userSpaceOnUse" x1="391" y1="18.5" x2="388.8" y2="22.8"><stop offset="0" stop-color="#a60000"/><stop offset="1" stop-color="#990000"/></linearGradient><linearGradient id="h373" gradientUnits="userSpaceOnUse" x1="401.9" y1="23.9" x2="393.2" y2="28.3"><stop offset="0" stop-color="#cc0000"/><stop offset="1" stop-color="#990000"/></linearGradient><linearGradient id="h374" gradientUnits="userSpaceOnUse" x1="401.9" y1="23.9" x2="401.9" y2="18.5"><stop offset="0" stop-color="#cc0000"/><stop offset="1" stop-color="#a60000"/></linearGradient><linearGradient id="h375" gradientUnits="userSpaceOnUse" x1="412.8" y1="23.9" x2="410.1" y2="15.8"><stop offset="0" stop-color="#e50000"/><stop offset="1" stop-color="#a60000"/></linearGradient><linearGradient id="h376" gradientUnits="userSpaceOnUse" x1="412.8" y1="23.9" x2="413.2" y2="18.5"><stop offset="0" stop-color="#e50000"/><stop offset="1" stop-color="#990000"/></linearGradient><linearGradient id="h377" gradientUnits="userSpaceOnUse" x1="412.8" y1="23.9" x2="414" y2="18.8"><stop offset="0" stop-color="#e50000"/><stop offset="1" stop-color="#990000"/></linearGradient><linearGradient id="h378" gradientUnits="userSpaceOnUse" x1="423.6" y1="18.5" x2="418.3" y2="23.9"><stop offset="0" stop-color="#e50000"/><stop offset="1" stop-color="#990000"/></linearGradient><linearGradient id="h379" gradientUnits="userSpaceOnUse" x1="423.6" y1="18.5" x2="422.8" y2="23.7"><stop offset="0" stop-color="#e50000"/><stop offset="1" stop-color="#bf0000"/></linearGradient><linearGradient id="h380" gradientUnits="userSpaceOnUse" x1="434.5" y1="18.5" x2="433.3" y2="23.6"><stop offset="0" stop-color="#ff0000"/><stop offset="1" stop-color="#cc0000"/></linearGradient><linearGradient id="h381" gradientUnits="userSpaceOnUse" x1="445.4" y1="23.9" x2="438" y2="28.9"><stop offset="0" stop-color="#ff6600"/><stop offset=".667" stop-color="#ff0000"/><stop offset="1" stop-color="#cc0000"/></linearGradient><linearGradient id="h382" gradientUnits="userSpaceOnUse" x1="445.4" y1="23.9" x2="441.2" y2="15.2"><stop offset="0" stop-color="#ff6600"/><stop offset="1" stop-color="#ff0000"/></linearGradient><linearGradient id="h383" gradientUnits="userSpaceOnUse" x1="456.3" y1="23.9" x2="454.4" y2="16.3"><stop offset="0" stop-color="#ff8000"/><stop offset="1" stop-color="#ff3300"/></linearGradient><linearGradient id="h384" gradientUnits="userSpaceOnUse" x1="456.3" y1="18.5" x2="445.4" y2="18.5"><stop offset="0" stop-color="#ff8000"/><stop offset="1" stop-color="#ff3300"/></linearGradient><linearGradient id="h385" gradientUnits="userSpaceOnUse" x1="467.2" y1="23.9" x2="456.3" y2="23.9"><stop offset="0" stop-color="#ffbf00"/><stop offset="1" stop-color="#ff8000"/></linearGradient><linearGradient id="h386" gradientUnits="userSpaceOnUse" x1="467.2" y1="23.9" x2="464.6" y2="15.8"><stop offset="0" stop-color="#ffbf00"/><stop offset="1" stop-color="#ff8000"/></linearGradient><linearGradient id="h387" gradientUnits="userSpaceOnUse" x1="478.1" y1="23.9" x2="472.4" y2="15.1"><stop offset="0" stop-color="#fff200"/><stop offset="1" stop-color="#ff9900"/></linearGradient><linearGradient id="h388" gradientUnits="userSpaceOnUse" x1="478.1" y1="23.9" x2="475" y2="15.6"><stop offset="0" stop-color="#fff200"/><stop offset="1" stop-color="#ff9900"/></linearGradient><linearGradient id="h389" gradientUnits="userSpaceOnUse" x1="489" y1="23.9" x2="488.2" y2="17.3"><stop offset="0" stop-color="#ffff00"/><stop offset="1" stop-color="#ffbf00"/></linearGradient><linearGradient id="h390" gradientUnits="userSpaceOnUse" x1="489" y1="23.9" x2="488.2" y2="17.3"><stop offset="0" stop-color="#ffff00"/><stop offset="1" stop-color="#ffbf00"/></linearGradient><linearGradient id="cbg" x1="0" y1="1" x2="0" y2="0"><stop offset="0" stop-color="#000080"/><stop offset=".125" stop-color="#0000ff"/><stop offset=".375" stop-color="#00ffff"/><stop offset=".625" stop-color="#ffff00"/><stop offset=".875" stop-color="#ff0000"/><stop offset="1" stop-color="#800000"/></linearGradient></defs>
<rect width="550" height="250" fill="#fff"/>
<line x1="123.9" y1="191.3" x2="255.9" y2="148.3" stroke="#e0e0e0" stroke-width="0.6" fill="none"/>
<line x1="79.9" y1="174.1" x2="211.9" y2="131.1" stroke="#e0e0e0" stroke-width="0.6" fill="none"/>
<line x1="36" y1="157" x2="168" y2="114" stroke="#e0e0e0" stroke-width="0.6" fill="none"/>
<line x1="196.7" y1="192.7" x2="73.7" y2="144.7" stroke="#e0e0e0" stroke-width="0.6" fill="none"/>
<line x1="243.9" y1="177.4" x2="120.9" y2="129.4" stroke="#e0e0e0" stroke-width="0.6" fill="none"/>
<line x1="291" y1="162" x2="168" y2="114" stroke="#e0e0e0" stroke-width="0.6" fill="none"/>
<line x1="73.7" y1="144.7" x2="73.7" y2="50.5" stroke="#e0e0e0" stroke-width="0.6" fill="none"/>
<line x1="120.9" y1="129.4" x2="120.9" y2="35.1" stroke="#e0e0e0" stroke-width="0.6" fill="none"/>
<line x1="168" y1="114" x2="168" y2="19.8" stroke="#e0e0e0" stroke-width="0.6" fill="none"/>
<line x1="36" y1="138.1" x2="168" y2="95.2" stroke="#e0e0e0" stroke-width="0.6" fill="none"/>
<line x1="36" y1="119.3" x2="168" y2="76.3" stroke="#e0e0e0" stroke-width="0.6" fill="none"/>
<line x1="36" y1="100.4" x2="168" y2="57.4" stroke="#e0e0e0" stroke-width="0.6" fill="none"/>
<line x1="36" y1="81.6" x2="168" y2="38.6" stroke="#e0e0e0" stroke-width="0.6" fill="none"/>
<line x1="36" y1="62.7" x2="168" y2="19.8" stroke="#e0e0e0" stroke-width="0.6" fill="none"/>
<line x1="291" y1="162" x2="291" y2="67.8" stroke="#e0e0e0" stroke-width="0.6" fill="none"/>
<line x1="255.9" y1="148.3" x2="255.9" y2="54" stroke="#e0e0e0" stroke-width="0.6" fill="none"/>
<line x1="211.9" y1="131.1" x2="211.9" y2="36.9" stroke="#e0e0e0" stroke-width="0.6" fill="none"/>
<line x1="168" y1="95.2" x2="291" y2="143.2" stroke="#e0e0e0" stroke-width="0.6" fill="none"/>
<line x1="168" y1="76.3" x2="291" y2="124.3" stroke="#e0e0e0" stroke-width="0.6" fill="none"/>
<line x1="168" y1="57.4" x2="291" y2="105.5" stroke="#e0e0e0" stroke-width="0.6" fill="none"/>
<line x1="168" y1="38.6" x2="291" y2="86.6" stroke="#e0e0e0" stroke-width="0.6" fill="none"/>
<line x1="168" y1="19.8" x2="291" y2="67.8" stroke="#e0e0e0" stroke-width="0.6" fill="none"/>
<polygon points="167.4,71.5 158.6,66.6 168,69.1 176.8,71.2" fill="url(#a0)"/><polygon points="158.6,66.6 168,69.1 176.8,71.2" fill="url(#a1)"/><polygon points="167.4,71.5 158.6,66.6 168,69.1 176.8,71.2" fill="none" stroke="#000" stroke-width="0.45" stroke-opacity="0.75"/>
<polygon points="176.1,76.8 167.4,71.5 176.8,71.2 185.6,74.1" fill="url(#a2)"/><polygon points="167.4,71.5 176.8,71.2 185.6,74.1" fill="url(#a3)"/><polygon points="176.1,76.8 167.4,71.5 176.8,71.2 185.6,74.1" fill="none" stroke="#000" stroke-width="0.45" stroke-opacity="0.75"/>
<polygon points="157.9,70.8 149.1,65.5 158.6,66.6 167.4,71.5" fill="url(#a4)"/><polygon points="149.1,65.5 158.6,66.6 167.4,71.5" fill="url(#a5)"/><polygon points="157.9,70.8 149.1,65.5 158.6,66.6 167.4,71.5" fill="none" stroke="#000" stroke-width="0.45" stroke-opacity="0.75"/>
<polygon points="184.9,82.1 176.1,76.8 185.6,74.1 194.4,84.9" fill="url(#a6)"/><polygon points="176.1,76.8 185.6,74.1 194.4,84.9" fill="url(#a7)"/><polygon points="184.9,82.1 176.1,76.8 185.6,74.1 194.4,84.9" fill="none" stroke="#000" stroke-width="0.45" stroke-opacity="0.75"/>
<polygon points="166.7,78 157.9,70.8 167.4,71.5 176.1,76.8" fill="url(#a8)"/><polygon points="157.9,70.8 167.4,71.5 176.1,76.8" fill="url(#a9)"/><polygon points="166.7,78 157.9,70.8 167.4,71.5 176.1,76.8" fill="none" stroke="#000" stroke-width="0.45" stroke-opacity="0.75"/>
<polygon points="148.5,68.2 139.7,62.5 149.1,65.5 157.9,70.8" fill="url(#a10)"/><polygon points="139.7,62.5 149.1,65.5 157.9,70.8" fill="url(#a11)"/><polygon points="148.5,68.2 139.7,62.5 149.1,65.5 157.9,70.8" fill="none" stroke="#000" stroke-width="0.45" stroke-opacity="0.75"/>
<polygon points="193.7,89.3 184.9,82.1 194.4,84.9 203.1,92.7" fill="url(#a12)"/><polygon points="184.9,82.1 194.4,84.9 203.1,92.7" fill="url(#a13)"/><polygon points="193.7,89.3 184.9,82.1 194.4,84.9 203.1,92.7" fill="none" stroke="#000" stroke-width="0.45" stroke-opacity="0.75"/>
<polygon points="175.5,87.1 166.7,78 176.1,76.8 184.9,82.1" fill="url(#a14)"/><polygon points="166.7,78 176.1,76.8 184.9,82.1" fill="url(#a15)"/><polygon points="175.5,87.1 166.7,78 176.1,76.8 184.9,82.1" fill="none" stroke="#000" stroke-width="0.45" stroke-opacity="0.75"/>
<polygon points="157.3,69.8 148.5,68.2 157.9,70.8 166.7,78" fill="url(#a16)"/><polygon points="148.5,68.2 157.9,70.8 166.7,78" fill="url(#a17)"/><polygon points="157.3,69.8 148.5,68.2 157.9,70.8 166.7,78" fill="none" stroke="#000" stroke-width="0.45" stroke-opacity="0.75"/>
<polygon points="139.1,67.5 130.3,62.8 139.7,62.5 148.5,68.2" fill="url(#a18)"/><polygon points="130.3,62.8 139.7,62.5 148.5,68.2" fill="url(#a19)"/><polygon points="139.1,67.5 130.3,62.8 139.7,62.5 148.5,68.2" fill="none" stroke="#000" stroke-width="0.45" stroke-opacity="0.75"/>
<polygon points="202.5,96.5 193.7,89.3 203.1,92.7 211.9,100.4" fill="url(#a20)"/><polygon points="193.7,89.3 203.1,92.7 211.9,100.4" fill="url(#a21)"/><polygon points="202.5,96.5 193.7,89.3 203.1,92.7 211.9,100.4" fill="none" stroke="#000" stroke-width="0.45" stroke-opacity="0.75"/>
<polygon points="184.3,88.6 175.5,87.1 184.9,82.1 193.7,89.3" fill="url(#a22)"/><polygon points="175.5,87.1 184.9,82.1 193.7,89.3" fill="url(#a23)"/><polygon points="184.3,88.6 175.5,87.1 184.9,82.1 193.7,89.3" fill="none" stroke="#000" stroke-width="0.45" stroke-opacity="0.75"/>
<polygon points="166.1,82.6 157.3,69.8 166.7,78 175.5,87.1" fill="url(#a24)"/><polygon points="157.3,69.8 166.7,78 175.5,87.1" fill="url(#a25)"/><polygon points="166.1,82.6 157.3,69.8 166.7,78 175.5,87.1" fill="none" stroke="#000" stroke-width="0.45" stroke-opacity="0.75"/>
<polygon points="147.9,76.6 139.1,67.5 148.5,68.2 157.3,69.8" fill="url(#a26)"/><polygon points="139.1,67.5 148.5,68.2 157.3,69.8" fill="url(#a27)"/><polygon points="147.9,76.6 139.1,67.5 148.5,68.2 157.3,69.8" fill="none" stroke="#000" stroke-width="0.45" stroke-opacity="0.75"/>
<polygon points="129.6,66.8 120.9,65.8 130.3,62.8 139.1,67.5" fill="url(#a28)"/><polygon points="120.9,65.8 130.3,62.8 139.1,67.5" fill="url(#a29)"/><polygon points="129.6,66.8 120.9,65.8 130.3,62.8 139.1,67.5" fill="none" stroke="#000" stroke-width="0.45" stroke-opacity="0.75"/>
<polygon points="211.3,99.9 202.5,96.5 211.9,100.4 220.7,106.3" fill="url(#a30)"/><polygon points="202.5,96.5 211.9,100.4 220.7,106.3" fill="url(#a31)"/><polygon points="211.3,99.9 202.5,96.5 211.9,100.4 220.7,106.3" fill="none" stroke="#000" stroke-width="0.45" stroke-opacity="0.75"/>
<polygon points="193.1,92 184.3,88.6 193.7,89.3 202.5,96.5" fill="url(#a32)"/><polygon points="184.3,88.6 193.7,89.3 202.5,96.5" fill="url(#a33)"/><polygon points="193.1,92 184.3,88.6 193.7,89.3 202.5,96.5" fill="none" stroke="#000" stroke-width="0.45" stroke-opacity="0.75"/>
<polygon points="174.9,89.8 166.1,82.6 175.5,87.1 184.3,88.6" fill="url(#a34)"/><polygon points="166.1,82.6 175.5,87.1 184.3,88.6" fill="url(#a35)"/><polygon points="174.9,89.8 166.1,82.6 175.5,87.1 184.3,88.6" fill="none" stroke="#000" stroke-width="0.45" stroke-opacity="0.75"/>
<polygon points="156.6,87.6 147.9,76.6 157.3,69.8 166.1,82.6" fill="url(#a36)"/><polygon points="147.9,76.6 157.3,69.8 166.1,82.6" fill="url(#a37)"/><polygon points="156.6,87.6 147.9,76.6 157.3,69.8 166.1,82.6" fill="none" stroke="#000" stroke-width="0.45" stroke-opacity="0.75"/>
<polygon points="138.4,72.1 129.6,66.8 139.1,67.5 147.9,76.6" fill="url(#a38)"/><polygon points="129.6,66.8 139.1,67.5 147.9,76.6" fill="url(#a39)"/><polygon points="138.4,72.1 129.6,66.8 139.1,67.5 147.9,76.6" fill="none" stroke="#000" stroke-width="0.45" stroke-opacity="0.75"/>
<polygon points="120.2,68 111.4,67.6 120.9,65.8 129.6,66.8" fill="url(#a40)"/><polygon points="111.4,67.6 120.9,65.8 129.6,66.8" fill="url(#a41)"/><polygon points="120.2,68 111.4,67.6 120.9,65.8 129.6,66.8" fill="none" stroke="#000" stroke-width="0.45" stroke-opacity="0.75"/>
<polygon points="220.1,110.9 211.3,99.9 220.7,106.3 229.5,114.8" fill="url(#a42)"/><polygon points="211.3,99.9 220.7,106.3 229.5,114.8" fill="url(#a43)"/><polygon points="220.1,110.9 211.3,99.9 220.7,106.3 229.5,114.8" fill="none" stroke="#000" stroke-width="0.45" stroke-opacity="0.75"/>
<polygon points="201.9,99.2 193.1,92 202.5,96.5 211.3,99.9" fill="url(#a44)"/><polygon points="193.1,92 202.5,96.5 211.3,99.9" fill="url(#a45)"/><polygon points="201.9,99.2 193.1,92 202.5,96.5 211.3,99.9" fill="none" stroke="#000" stroke-width="0.45" stroke-opacity="0.75"/>
<polygon points="183.6,89.5 174.9,89.8 184.3,88.6 193.1,92" fill="url(#a46)"/><polygon points="174.9,89.8 184.3,88.6 193.1,92" fill="url(#a47)"/><polygon points="183.6,89.5 174.9,89.8 184.3,88.6 193.1,92" fill="none" stroke="#000" stroke-width="0.45" stroke-opacity="0.75"/>
<polygon points="165.4,85.3 156.6,87.6 166.1,82.6 174.9,89.8" fill="url(#a48)"/><polygon points="156.6,87.6 166.1,82.6 174.9,89.8" fill="url(#a49)"/><polygon points="165.4,85.3 156.6,87.6 166.1,82.6 174.9,89.8" fill="none" stroke="#000" stroke-width="0.45" stroke-opacity="0.75"/>
<polygon points="147.2,75.6 138.4,72.1 147.9,76.6 156.6,87.6" fill="url(#a50)"/><polygon points="138.4,72.1 147.9,76.6 156.6,87.6" fill="url(#a51)"/><polygon points="147.2,75.6 138.4,72.1 147.9,76.6 156.6,87.6" fill="none" stroke="#000" stroke-width="0.45" stroke-opacity="0.75"/>
<polygon points="228.9,118.1 220.1,110.9 229.5,114.8 238.3,117.9" fill="url(#a52)"/><polygon points="220.1,110.9 229.5,114.8 238.3,117.9" fill="url(#a53)"/><polygon points="228.9,118.1 220.1,110.9 229.5,114.8 238.3,117.9" fill="none" stroke="#000" stroke-width="0.45" stroke-opacity="0.75"/>
<polygon points="129,73.3 120.2,68 129.6,66.8 138.4,72.1" fill="url(#a54)"/><polygon points="120.2,68 129.6,66.8 138.4,72.1" fill="url(#a55)"/><polygon points="129,73.3 120.2,68 129.6,66.8 138.4,72.1" fill="none" stroke="#000" stroke-width="0.45" stroke-opacity="0.75"/>
<polygon points="110.8,71.1 102,59.3 111.4,67.6 120.2,68" fill="url(#a56)"/><polygon points="102,59.3 111.4,67.6 120.2,68" fill="url(#a57)"/><polygon points="110.8,71.1 102,59.3 111.4,67.6 120.2,68" fill="none" stroke="#000" stroke-width="0.45" stroke-opacity="0.75"/>
<polygon points="210.6,110.2 201.9,99.2 211.3,99.9 220.1,110.9" fill="url(#a58)"/><polygon points="201.9,99.2 211.3,99.9 220.1,110.9" fill="url(#a59)"/><polygon points="210.6,110.2 201.9,99.2 211.3,99.9 220.1,110.9" fill="none" stroke="#000" stroke-width="0.45" stroke-opacity="0.75"/>
<polygon points="192.4,98.5 183.6,89.5 193.1,92 201.9,99.2" fill="url(#a60)"/><polygon points="183.6,89.5 193.1,92 201.9,99.2" fill="url(#a61)"/><polygon points="192.4,98.5 183.6,89.5 193.1,92 201.9,99.2" fill="none" stroke="#000" stroke-width="0.45" stroke-opacity="0.75"/>
<polygon points="174.2,94.4 165.4,85.3 174.9,89.8 183.6,89.5" fill="url(#a62)"/><polygon points="165.4,85.3 174.9,89.8 183.6,89.5" fill="url(#a63)"/><polygon points="174.2,94.4 165.4,85.3 174.9,89.8 183.6,89.5" fill="none" stroke="#000" stroke-width="0.45" stroke-opacity="0.75"/>
<polygon points="156,82.8 147.2,75.6 156.6,87.6 165.4,85.3" fill="url(#a64)"/><polygon points="147.2,75.6 156.6,87.6 165.4,85.3" fill="url(#a65)"/><polygon points="156,82.8 147.2,75.6 156.6,87.6 165.4,85.3" fill="none" stroke="#000" stroke-width="0.45" stroke-opacity="0.75"/>
<polygon points="237.6,121.5 228.9,118.1 238.3,117.9 247.1,124.9" fill="#00e5ff"/><polygon points="228.9,118.1 238.3,117.9 247.1,124.9" fill="url(#a66)"/><polygon points="237.6,121.5 228.9,118.1 238.3,117.9 247.1,124.9" fill="none" stroke="#000" stroke-width="0.45" stroke-opacity="0.75"/>
<polygon points="219.4,119.3 210.6,110.2 220.1,110.9 228.9,118.1" fill="url(#a67)"/><polygon points="210.6,110.2 220.1,110.9 228.9,118.1" fill="url(#a68)"/><polygon points="219.4,119.3 210.6,110.2 220.1,110.9 228.9,118.1" fill="none" stroke="#000" stroke-width="0.45" stroke-opacity="0.75"/>
<polygon points="119.6,76.4 110.8,71.1 120.2,68 129,73.3" fill="url(#a69)"/><polygon points="110.8,71.1 120.2,68 129,73.3" fill="url(#a70)"/><polygon points="119.6,76.4 110.8,71.1 120.2,68 129,73.3" fill="none" stroke="#000" stroke-width="0.45" stroke-opacity="0.75"/>
<polygon points="137.8,76.7 129,73.3 138.4,72.1 147.2,75.6" fill="url(#a71)"/><polygon points="129,73.3 138.4,72.1 147.2,75.6" fill="url(#a72)"/><polygon points="137.8,76.7 129,73.3 138.4,72.1 147.2,75.6" fill="none" stroke="#000" stroke-width="0.45" stroke-opacity="0.75"/>
<polygon points="101.4,72.3 92.6,62.6 102,59.3 110.8,71.1" fill="url(#a73)"/><polygon points="92.6,62.6 102,59.3 110.8,71.1" fill="url(#a74)"/><polygon points="101.4,72.3 92.6,62.6 102,59.3 110.8,71.1" fill="none" stroke="#000" stroke-width="0.45" stroke-opacity="0.75"/>
<polygon points="201.2,102 192.4,98.5 201.9,99.2 210.6,110.2" fill="url(#a75)"/><polygon points="192.4,98.5 201.9,99.2 210.6,110.2" fill="url(#a76)"/><polygon points="201.2,102 192.4,98.5 201.9,99.2 210.6,110.2" fill="none" stroke="#000" stroke-width="0.45" stroke-opacity="0.75"/>
<polygon points="183,111 174.2,94.4 183.6,89.5 192.4,98.5" fill="url(#a77)"/><polygon points="174.2,94.4 183.6,89.5 192.4,98.5" fill="url(#a78)"/><polygon points="183,111 174.2,94.4 183.6,89.5 192.4,98.5" fill="none" stroke="#000" stroke-width="0.45" stroke-opacity="0.75"/>
<polygon points="164.8,99.4 156,82.8 165.4,85.3 174.2,94.4" fill="url(#a79)"/><polygon points="156,82.8 165.4,85.3 174.2,94.4" fill="url(#a80)"/><polygon points="164.8,99.4 156,82.8 165.4,85.3 174.2,94.4" fill="none" stroke="#000" stroke-width="0.45" stroke-opacity="0.75"/>
<polygon points="246.4,134.4 237.6,121.5 247.1,124.9 255.9,133" fill="url(#a81)"/><polygon points="237.6,121.5 247.1,124.9 255.9,133" fill="url(#a82)"/><polygon points="246.4,134.4 237.6,121.5 247.1,124.9 255.9,133" fill="none" stroke="#000" stroke-width="0.45" stroke-opacity="0.75"/>
<polygon points="228.2,122.7 219.4,119.3 228.9,118.1 237.6,121.5" fill="url(#a83)"/><polygon points="219.4,119.3 228.9,118.1 237.6,121.5" fill="url(#a84)"/><polygon points="228.2,122.7 219.4,119.3 228.9,118.1 237.6,121.5" fill="none" stroke="#000" stroke-width="0.45" stroke-opacity="0.75"/>
<polygon points="146.6,89.6 137.8,76.7 147.2,75.6 156,82.8" fill="url(#a85)"/><polygon points="137.8,76.7 147.2,75.6 156,82.8" fill="url(#a86)"/><polygon points="146.6,89.6 137.8,76.7 147.2,75.6 156,82.8" fill="none" stroke="#000" stroke-width="0.45" stroke-opacity="0.75"/>
<polygon points="110.1,79.5 101.4,72.3 110.8,71.1 119.6,76.4" fill="url(#a87)"/><polygon points="101.4,72.3 110.8,71.1 119.6,76.4" fill="url(#a88)"/><polygon points="110.1,79.5 101.4,72.3 110.8,71.1 119.6,76.4" fill="none" stroke="#000" stroke-width="0.45" stroke-opacity="0.75"/>
<polygon points="128.4,83.6 119.6,76.4 129,73.3 137.8,76.7" fill="url(#a89)"/><polygon points="119.6,76.4 129,73.3 137.8,76.7" fill="url(#a90)"/><polygon points="128.4,83.6 119.6,76.4 129,73.3 137.8,76.7" fill="none" stroke="#000" stroke-width="0.45" stroke-opacity="0.75"/>
<polygon points="91.9,71.6 83.1,65.7 92.6,62.6 101.4,72.3" fill="url(#a91)"/><polygon points="83.1,65.7 92.6,62.6 101.4,72.3" fill="#8c0000"/><polygon points="91.9,71.6 83.1,65.7 92.6,62.6 101.4,72.3" fill="none" stroke="#000" stroke-width="0.45" stroke-opacity="0.75"/>
<polygon points="210,118.6 201.2,102 210.6,110.2 219.4,119.3" fill="url(#a92)"/><polygon points="201.2,102 210.6,110.2 219.4,119.3" fill="url(#a93)"/><polygon points="210,118.6 201.2,102 210.6,110.2 219.4,119.3" fill="none" stroke="#000" stroke-width="0.45" stroke-opacity="0.75"/>
<polygon points="173.6,119.8 164.8,99.4 174.2,94.4 183,111" fill="url(#a94)"/><polygon points="164.8,99.4 174.2,94.4 183,111" fill="url(#a95)"/><polygon points="173.6,119.8 164.8,99.4 174.2,94.4 183,111" fill="none" stroke="#000" stroke-width="0.45" stroke-opacity="0.75"/>
<polygon points="191.8,108.8 183,111 192.4,98.5 201.2,102" fill="url(#a96)"/><polygon points="183,111 192.4,98.5 201.2,102" fill="url(#a97)"/><polygon points="191.8,108.8 183,111 192.4,98.5 201.2,102" fill="none" stroke="#000" stroke-width="0.45" stroke-opacity="0.75"/>
<polygon points="155.4,111.9 146.6,89.6 156,82.8 164.8,99.4" fill="url(#a98)"/><polygon points="146.6,89.6 156,82.8 164.8,99.4" fill="url(#a99)"/><polygon points="155.4,111.9 146.6,89.6 156,82.8 164.8,99.4" fill="none" stroke="#000" stroke-width="0.45" stroke-opacity="0.75"/>
<polygon points="255.2,143.5 246.4,134.4 255.9,133 264.6,140" fill="url(#a100)"/><polygon points="246.4,134.4 255.9,133 264.6,140" fill="url(#a101)"/><polygon points="255.2,143.5 246.4,134.4 255.9,133 264.6,140" fill="none" stroke="#000" stroke-width="0.45" stroke-opacity="0.75"/>
<polygon points="137.1,104.9 128.4,83.6 137.8,76.7 146.6,89.6" fill="url(#a102)"/><polygon points="128.4,83.6 137.8,76.7 146.6,89.6" fill="url(#a103)"/><polygon points="137.1,104.9 128.4,83.6 137.8,76.7 146.6,89.6" fill="none" stroke="#000" stroke-width="0.45" stroke-opacity="0.75"/>
<polygon points="118.9,92.3 110.1,79.5 119.6,76.4 128.4,83.6" fill="url(#a104)"/><polygon points="110.1,79.5 119.6,76.4 128.4,83.6" fill="url(#a105)"/><polygon points="118.9,92.3 110.1,79.5 119.6,76.4 128.4,83.6" fill="none" stroke="#000" stroke-width="0.45" stroke-opacity="0.75"/>
<polygon points="237,131.8 228.2,122.7 237.6,121.5 246.4,134.4" fill="url(#a106)"/><polygon points="228.2,122.7 237.6,121.5 246.4,134.4" fill="url(#a107)"/><polygon points="237,131.8 228.2,122.7 237.6,121.5 246.4,134.4" fill="none" stroke="#000" stroke-width="0.45" stroke-opacity="0.75"/>
<polygon points="164.1,124.7 155.4,111.9 164.8,99.4 173.6,119.8" fill="url(#a108)"/><polygon points="155.4,111.9 164.8,99.4 173.6,119.8" fill="url(#a109)"/><polygon points="164.1,124.7 155.4,111.9 164.8,99.4 173.6,119.8" fill="none" stroke="#000" stroke-width="0.45" stroke-opacity="0.75"/>
<polygon points="218.8,125.8 210,118.6 219.4,119.3 228.2,122.7" fill="url(#a110)"/><polygon points="210,118.6 219.4,119.3 228.2,122.7" fill="url(#a111)"/><polygon points="218.8,125.8 210,118.6 219.4,119.3 228.2,122.7" fill="none" stroke="#000" stroke-width="0.45" stroke-opacity="0.75"/>
<polygon points="182.4,123.2 173.6,119.8 183,111 191.8,108.8" fill="url(#a112)"/><polygon points="173.6,119.8 183,111 191.8,108.8" fill="url(#a113)"/><polygon points="182.4,123.2 173.6,119.8 183,111 191.8,108.8" fill="none" stroke="#000" stroke-width="0.45" stroke-opacity="0.75"/>
<polygon points="100.7,80.6 91.9,71.6 101.4,72.3 110.1,79.5" fill="url(#a114)"/><polygon points="91.9,71.6 101.4,72.3 110.1,79.5" fill="url(#a115)"/><polygon points="100.7,80.6 91.9,71.6 101.4,72.3 110.1,79.5" fill="none" stroke="#000" stroke-width="0.45" stroke-opacity="0.75"/>
<polygon points="145.9,123.4 137.1,104.9 146.6,89.6 155.4,111.9" fill="url(#a116)"/><polygon points="137.1,104.9 146.6,89.6 155.4,111.9" fill="url(#a117)"/><polygon points="145.9,123.4 137.1,104.9 146.6,89.6 155.4,111.9" fill="none" stroke="#000" stroke-width="0.45" stroke-opacity="0.75"/>
<polygon points="82.5,76.5 73.7,68.7 83.1,65.7 91.9,71.6" fill="url(#a118)"/><polygon points="73.7,68.7 83.1,65.7 91.9,71.6" fill="url(#a119)"/><polygon points="82.5,76.5 73.7,68.7 83.1,65.7 91.9,71.6" fill="none" stroke="#000" stroke-width="0.45" stroke-opacity="0.75"/>
<polygon points="200.6,123.6 191.8,108.8 201.2,102 210,118.6" fill="url(#a120)"/><polygon points="191.8,108.8 201.2,102 210,118.6" fill="url(#a121)"/><polygon points="200.6,123.6 191.8,108.8 201.2,102 210,118.6" fill="none" stroke="#000" stroke-width="0.45" stroke-opacity="0.75"/>
<polygon points="127.7,107 118.9,92.3 128.4,83.6 137.1,104.9" fill="url(#a122)"/><polygon points="118.9,92.3 128.4,83.6 137.1,104.9" fill="url(#a123)"/><polygon points="127.7,107 118.9,92.3 128.4,83.6 137.1,104.9" fill="none" stroke="#000" stroke-width="0.45" stroke-opacity="0.75"/>
<polygon points="264,146.9 255.2,143.5 264.6,140 273.4,145.5" fill="url(#a124)"/><polygon points="255.2,143.5 264.6,140 273.4,145.5" fill="url(#a125)"/><polygon points="264,146.9 255.2,143.5 264.6,140 273.4,145.5" fill="none" stroke="#000" stroke-width="0.45" stroke-opacity="0.75"/>
<polygon points="154.7,129.7 145.9,123.4 155.4,111.9 164.1,124.7" fill="url(#a126)"/><polygon points="145.9,123.4 155.4,111.9 164.1,124.7" fill="url(#a127)"/><polygon points="154.7,129.7 145.9,123.4 155.4,111.9 164.1,124.7" fill="none" stroke="#000" stroke-width="0.45" stroke-opacity="0.75"/>
<polygon points="245.8,137.1 237,131.8 246.4,134.4 255.2,143.5" fill="url(#a128)"/><polygon points="237,131.8 246.4,134.4 255.2,143.5" fill="url(#a129)"/><polygon points="245.8,137.1 237,131.8 246.4,134.4 255.2,143.5" fill="none" stroke="#000" stroke-width="0.45" stroke-opacity="0.75"/>
<polygon points="172.9,128.2 164.1,124.7 173.6,119.8 182.4,123.2" fill="url(#a130)"/><polygon points="164.1,124.7 173.6,119.8 182.4,123.2" fill="url(#a131)"/><polygon points="172.9,128.2 164.1,124.7 173.6,119.8 182.4,123.2" fill="none" stroke="#000" stroke-width="0.45" stroke-opacity="0.75"/>
<polygon points="109.5,93.5 100.7,80.6 110.1,79.5 118.9,92.3" fill="url(#a132)"/><polygon points="100.7,80.6 110.1,79.5 118.9,92.3" fill="url(#a133)"/><polygon points="109.5,93.5 100.7,80.6 110.1,79.5 118.9,92.3" fill="none" stroke="#000" stroke-width="0.45" stroke-opacity="0.75"/>
<polygon points="136.5,129.3 127.7,107 137.1,104.9 145.9,123.4" fill="url(#a134)"/><polygon points="127.7,107 137.1,104.9 145.9,123.4" fill="url(#a135)"/><polygon points="136.5,129.3 127.7,107 137.1,104.9 145.9,123.4" fill="none" stroke="#000" stroke-width="0.45" stroke-opacity="0.75"/>
<polygon points="209.4,130.8 200.6,123.6 210,118.6 218.8,125.8" fill="url(#a136)"/><polygon points="200.6,123.6 210,118.6 218.8,125.8" fill="url(#a137)"/><polygon points="209.4,130.8 200.6,123.6 210,118.6 218.8,125.8" fill="none" stroke="#000" stroke-width="0.45" stroke-opacity="0.75"/>
<polygon points="227.6,129.2 218.8,125.8 228.2,122.7 237,131.8" fill="url(#a138)"/><polygon points="218.8,125.8 228.2,122.7 237,131.8" fill="url(#a139)"/><polygon points="227.6,129.2 218.8,125.8 228.2,122.7 237,131.8" fill="none" stroke="#000" stroke-width="0.45" stroke-opacity="0.75"/>
<polygon points="191.1,130.4 182.4,123.2 191.8,108.8 200.6,123.6" fill="url(#a140)"/><polygon points="182.4,123.2 191.8,108.8 200.6,123.6" fill="url(#a141)"/><polygon points="191.1,130.4 182.4,123.2 191.8,108.8 200.6,123.6" fill="none" stroke="#000" stroke-width="0.45" stroke-opacity="0.75"/>
<polygon points="91.3,79.9 82.5,76.5 91.9,71.6 100.7,80.6" fill="url(#a142)"/><polygon points="82.5,76.5 91.9,71.6 100.7,80.6" fill="url(#a143)"/><polygon points="91.3,79.9 82.5,76.5 91.9,71.6 100.7,80.6" fill="none" stroke="#000" stroke-width="0.45" stroke-opacity="0.75"/>
<polygon points="73.1,76.8 64.3,71.8 73.7,68.7 82.5,76.5" fill="url(#a144)"/><polygon points="64.3,71.8 73.7,68.7 82.5,76.5" fill="url(#a145)"/><polygon points="73.1,76.8 64.3,71.8 73.7,68.7 82.5,76.5" fill="none" stroke="#000" stroke-width="0.45" stroke-opacity="0.75"/>
<polygon points="118.3,108.2 109.5,93.5 118.9,92.3 127.7,107" fill="url(#a146)"/><polygon points="109.5,93.5 118.9,92.3 127.7,107" fill="url(#a147)"/><polygon points="118.3,108.2 109.5,93.5 118.9,92.3 127.7,107" fill="none" stroke="#000" stroke-width="0.45" stroke-opacity="0.75"/>
<polygon points="145.3,136.5 136.5,129.3 145.9,123.4 154.7,129.7" fill="url(#a148)"/><polygon points="136.5,129.3 145.9,123.4 154.7,129.7" fill="url(#a149)"/><polygon points="145.3,136.5 136.5,129.3 145.9,123.4 154.7,129.7" fill="none" stroke="#000" stroke-width="0.45" stroke-opacity="0.75"/>
<polygon points="272.8,154.1 264,146.9 273.4,145.5 282.2,149.2" fill="url(#a150)"/><polygon points="264,146.9 273.4,145.5 282.2,149.2" fill="url(#a151)"/><polygon points="272.8,154.1 264,146.9 273.4,145.5 282.2,149.2" fill="none" stroke="#000" stroke-width="0.45" stroke-opacity="0.75"/>
<polygon points="163.5,135.9 154.7,129.7 164.1,124.7 172.9,128.2" fill="url(#a152)"/><polygon points="154.7,129.7 164.1,124.7 172.9,128.2" fill="url(#a153)"/><polygon points="163.5,135.9 154.7,129.7 164.1,124.7 172.9,128.2" fill="none" stroke="#000" stroke-width="0.45" stroke-opacity="0.75"/>
<polygon points="254.6,144.3 245.8,137.1 255.2,143.5 264,146.9" fill="url(#a154)"/><polygon points="245.8,137.1 255.2,143.5 264,146.9" fill="url(#a155)"/><polygon points="254.6,144.3 245.8,137.1 255.2,143.5 264,146.9" fill="none" stroke="#000" stroke-width="0.45" stroke-opacity="0.75"/>
<polygon points="181.7,139.1 172.9,128.2 182.4,123.2 191.1,130.4" fill="url(#a156)"/><polygon points="172.9,128.2 182.4,123.2 191.1,130.4" fill="url(#a157)"/><polygon points="181.7,139.1 172.9,128.2 182.4,123.2 191.1,130.4" fill="none" stroke="#000" stroke-width="0.45" stroke-opacity="0.75"/>
<polygon points="127.1,130.5 118.3,108.2 127.7,107 136.5,129.3" fill="url(#a158)"/><polygon points="118.3,108.2 127.7,107 136.5,129.3" fill="url(#a159)"/><polygon points="127.1,130.5 118.3,108.2 127.7,107 136.5,129.3" fill="none" stroke="#000" stroke-width="0.45" stroke-opacity="0.75"/>
<polygon points="199.9,131.9 191.1,130.4 200.6,123.6 209.4,130.8" fill="url(#a160)"/><polygon points="191.1,130.4 200.6,123.6 209.4,130.8" fill="url(#a161)"/><polygon points="199.9,131.9 191.1,130.4 200.6,123.6 209.4,130.8" fill="none" stroke="#000" stroke-width="0.45" stroke-opacity="0.75"/>
<polygon points="100.1,94.7 91.3,79.9 100.7,80.6 109.5,93.5" fill="url(#a162)"/><polygon points="91.3,79.9 100.7,80.6 109.5,93.5" fill="url(#a163)"/><polygon points="100.1,94.7 91.3,79.9 100.7,80.6 109.5,93.5" fill="none" stroke="#000" stroke-width="0.45" stroke-opacity="0.75"/>
<polygon points="236.4,136.4 227.6,129.2 237,131.8 245.8,137.1" fill="url(#a164)"/><polygon points="227.6,129.2 237,131.8 245.8,137.1" fill="url(#a165)"/><polygon points="236.4,136.4 227.6,129.2 237,131.8 245.8,137.1" fill="none" stroke="#000" stroke-width="0.45" stroke-opacity="0.75"/>
<polygon points="218.1,132.3 209.4,130.8 218.8,125.8 227.6,129.2" fill="url(#a166)"/><polygon points="209.4,130.8 218.8,125.8 227.6,129.2" fill="url(#a167)"/><polygon points="218.1,132.3 209.4,130.8 218.8,125.8 227.6,129.2" fill="none" stroke="#000" stroke-width="0.45" stroke-opacity="0.75"/>
<polygon points="63.6,86.4 54.9,74.9 64.3,71.8 73.1,76.8" fill="url(#a168)"/><polygon points="54.9,74.9 64.3,71.8 73.1,76.8" fill="url(#a169)"/><polygon points="63.6,86.4 54.9,74.9 64.3,71.8 73.1,76.8" fill="none" stroke="#000" stroke-width="0.45" stroke-opacity="0.75"/>
<polygon points="81.9,86.8 73.1,76.8 82.5,76.5 91.3,79.9" fill="url(#a170)"/><polygon points="73.1,76.8 82.5,76.5 91.3,79.9" fill="#800000"/><polygon points="81.9,86.8 73.1,76.8 82.5,76.5 91.3,79.9" fill="none" stroke="#000" stroke-width="0.45" stroke-opacity="0.75"/>
<polygon points="154.1,145.6 145.3,136.5 154.7,129.7 163.5,135.9" fill="url(#a171)"/><polygon points="145.3,136.5 154.7,129.7 163.5,135.9" fill="url(#a172)"/><polygon points="154.1,145.6 145.3,136.5 154.7,129.7 163.5,135.9" fill="none" stroke="#000" stroke-width="0.45" stroke-opacity="0.75"/>
<polygon points="281.6,160.4 272.8,154.1 282.2,149.2 291,160.1" fill="url(#a173)"/><polygon points="272.8,154.1 282.2,149.2 291,160.1" fill="url(#a174)"/><polygon points="281.6,160.4 272.8,154.1 282.2,149.2 291,160.1" fill="none" stroke="#000" stroke-width="0.45" stroke-opacity="0.75"/>
<polygon points="135.9,135.8 127.1,130.5 136.5,129.3 145.3,136.5" fill="url(#a175)"/><polygon points="127.1,130.5 136.5,129.3 145.3,136.5" fill="url(#a176)"/><polygon points="135.9,135.8 127.1,130.5 136.5,129.3 145.3,136.5" fill="none" stroke="#000" stroke-width="0.45" stroke-opacity="0.75"/>
<polygon points="172.3,146 163.5,135.9 172.9,128.2 181.7,139.1" fill="url(#a177)"/><polygon points="163.5,135.9 172.9,128.2 181.7,139.1" fill="url(#a178)"/><polygon points="172.3,146 163.5,135.9 172.9,128.2 181.7,139.1" fill="none" stroke="#000" stroke-width="0.45" stroke-opacity="0.75"/>
<polygon points="108.9,107.5 100.1,94.7 109.5,93.5 118.3,108.2" fill="url(#a179)"/><polygon points="100.1,94.7 109.5,93.5 118.3,108.2" fill="url(#a180)"/><polygon points="108.9,107.5 100.1,94.7 109.5,93.5 118.3,108.2" fill="none" stroke="#000" stroke-width="0.45" stroke-opacity="0.75"/>
<polygon points="263.4,153.4 254.6,144.3 264,146.9 272.8,154.1" fill="url(#a181)"/><polygon points="254.6,144.3 264,146.9 272.8,154.1" fill="url(#a182)"/><polygon points="263.4,153.4 254.6,144.3 264,146.9 272.8,154.1" fill="none" stroke="#000" stroke-width="0.45" stroke-opacity="0.75"/>
<polygon points="190.5,133.1 181.7,139.1 191.1,130.4 199.9,131.9" fill="url(#a183)"/><polygon points="181.7,139.1 191.1,130.4 199.9,131.9" fill="url(#a184)"/><polygon points="190.5,133.1 181.7,139.1 191.1,130.4 199.9,131.9" fill="none" stroke="#000" stroke-width="0.45" stroke-opacity="0.75"/>
<polygon points="245.1,141.7 236.4,136.4 245.8,137.1 254.6,144.3" fill="url(#a185)"/><polygon points="236.4,136.4 245.8,137.1 254.6,144.3" fill="url(#a186)"/><polygon points="245.1,141.7 236.4,136.4 245.8,137.1 254.6,144.3" fill="none" stroke="#000" stroke-width="0.45" stroke-opacity="0.75"/>
<polygon points="90.6,94 81.9,86.8 91.3,79.9 100.1,94.7" fill="url(#a187)"/><polygon points="81.9,86.8 91.3,79.9 100.1,94.7" fill="url(#a188)"/><polygon points="90.6,94 81.9,86.8 91.3,79.9 100.1,94.7" fill="none" stroke="#000" stroke-width="0.45" stroke-opacity="0.75"/>
<polygon points="117.6,129.8 108.9,107.5 118.3,108.2 127.1,130.5" fill="url(#a189)"/><polygon points="108.9,107.5 118.3,108.2 127.1,130.5" fill="url(#a190)"/><polygon points="117.6,129.8 108.9,107.5 118.3,108.2 127.1,130.5" fill="none" stroke="#000" stroke-width="0.45" stroke-opacity="0.75"/>
<polygon points="54.2,91.4 45.4,78 54.9,74.9 63.6,86.4" fill="#8c0000"/><polygon points="45.4,78 54.9,74.9 63.6,86.4" fill="#8c0000"/><polygon points="54.2,91.4 45.4,78 54.9,74.9 63.6,86.4" fill="none" stroke="#000" stroke-width="0.45" stroke-opacity="0.75"/>
<polygon points="72.4,91.7 63.6,86.4 73.1,76.8 81.9,86.8" fill="url(#a191)"/><polygon points="63.6,86.4 73.1,76.8 81.9,86.8" fill="url(#a192)"/><polygon points="72.4,91.7 63.6,86.4 73.1,76.8 81.9,86.8" fill="none" stroke="#000" stroke-width="0.45" stroke-opacity="0.75"/>
<polygon points="208.7,133.5 199.9,131.9 209.4,130.8 218.1,132.3" fill="url(#a193)"/><polygon points="199.9,131.9 209.4,130.8 218.1,132.3" fill="url(#a194)"/><polygon points="208.7,133.5 199.9,131.9 209.4,130.8 218.1,132.3" fill="none" stroke="#000" stroke-width="0.45" stroke-opacity="0.75"/>
<polygon points="226.9,137.6 218.1,132.3 227.6,129.2 236.4,136.4" fill="url(#a195)"/><polygon points="218.1,132.3 227.6,129.2 236.4,136.4" fill="url(#a196)"/><polygon points="226.9,137.6 218.1,132.3 227.6,129.2 236.4,136.4" fill="none" stroke="#000" stroke-width="0.45" stroke-opacity="0.75"/>
<polygon points="162.9,150.9 154.1,145.6 163.5,135.9 172.3,146" fill="url(#a197)"/><polygon points="154.1,145.6 163.5,135.9 172.3,146" fill="url(#a198)"/><polygon points="162.9,150.9 154.1,145.6 163.5,135.9 172.3,146" fill="none" stroke="#000" stroke-width="0.45" stroke-opacity="0.75"/>
<polygon points="144.6,144.9 135.9,135.8 145.3,136.5 154.1,145.6" fill="url(#a199)"/><polygon points="135.9,135.8 145.3,136.5 154.1,145.6" fill="url(#a200)"/><polygon points="144.6,144.9 135.9,135.8 145.3,136.5 154.1,145.6" fill="none" stroke="#000" stroke-width="0.45" stroke-opacity="0.75"/>
<polygon points="272.1,158.3 263.4,153.4 272.8,154.1 281.6,160.4" fill="url(#a201)"/><polygon points="263.4,153.4 272.8,154.1 281.6,160.4" fill="url(#a202)"/><polygon points="272.1,158.3 263.4,153.4 272.8,154.1 281.6,160.4" fill="none" stroke="#000" stroke-width="0.45" stroke-opacity="0.75"/>
<polygon points="126.4,137 117.6,129.8 127.1,130.5 135.9,135.8" fill="url(#a203)"/><polygon points="117.6,129.8 127.1,130.5 135.9,135.8" fill="url(#a204)"/><polygon points="126.4,137 117.6,129.8 127.1,130.5 135.9,135.8" fill="none" stroke="#000" stroke-width="0.45" stroke-opacity="0.75"/>
<polygon points="99.4,106.8 90.6,94 100.1,94.7 108.9,107.5" fill="url(#a205)"/><polygon points="90.6,94 100.1,94.7 108.9,107.5" fill="url(#a206)"/><polygon points="99.4,106.8 90.6,94 100.1,94.7 108.9,107.5" fill="none" stroke="#000" stroke-width="0.45" stroke-opacity="0.75"/>
<polygon points="181.1,140 172.3,146 181.7,139.1 190.5,133.1" fill="url(#a207)"/><polygon points="172.3,146 181.7,139.1 190.5,133.1" fill="url(#a208)"/><polygon points="181.1,140 172.3,146 181.7,139.1 190.5,133.1" fill="none" stroke="#000" stroke-width="0.45" stroke-opacity="0.75"/>
<polygon points="253.9,152.7 245.1,141.7 254.6,144.3 263.4,153.4" fill="url(#a209)"/><polygon points="245.1,141.7 254.6,144.3 263.4,153.4" fill="url(#a210)"/><polygon points="253.9,152.7 245.1,141.7 254.6,144.3 263.4,153.4" fill="none" stroke="#000" stroke-width="0.45" stroke-opacity="0.75"/>
<polygon points="44.8,98 36,88.2 45.4,78 54.2,91.4" fill="url(#a211)"/><polygon points="36,88.2 45.4,78 54.2,91.4" fill="url(#a212)"/><polygon points="44.8,98 36,88.2 45.4,78 54.2,91.4" fill="none" stroke="#000" stroke-width="0.45" stroke-opacity="0.75"/>
<polygon points="63,96.7 54.2,91.4 63.6,86.4 72.4,91.7" fill="url(#a213)"/><polygon points="54.2,91.4 63.6,86.4 72.4,91.7" fill="url(#a214)"/><polygon points="63,96.7 54.2,91.4 63.6,86.4 72.4,91.7" fill="none" stroke="#000" stroke-width="0.45" stroke-opacity="0.75"/>
<polygon points="81.2,98.9 72.4,91.7 81.9,86.8 90.6,94" fill="url(#a215)"/><polygon points="72.4,91.7 81.9,86.8 90.6,94" fill="url(#a216)"/><polygon points="81.2,98.9 72.4,91.7 81.9,86.8 90.6,94" fill="none" stroke="#000" stroke-width="0.45" stroke-opacity="0.75"/>
<polygon points="235.7,142.9 226.9,137.6 236.4,136.4 245.1,141.7" fill="url(#a217)"/><polygon points="226.9,137.6 236.4,136.4 245.1,141.7" fill="url(#a218)"/><polygon points="235.7,142.9 226.9,137.6 236.4,136.4 245.1,141.7" fill="none" stroke="#000" stroke-width="0.45" stroke-opacity="0.75"/>
<polygon points="217.5,138.8 208.7,133.5 218.1,132.3 226.9,137.6" fill="url(#a219)"/><polygon points="208.7,133.5 218.1,132.3 226.9,137.6" fill="url(#a220)"/><polygon points="217.5,138.8 208.7,133.5 218.1,132.3 226.9,137.6" fill="none" stroke="#000" stroke-width="0.45" stroke-opacity="0.75"/>
<polygon points="199.3,123.4 190.5,133.1 199.9,131.9 208.7,133.5" fill="url(#a221)"/><polygon points="190.5,133.1 199.9,131.9 208.7,133.5" fill="url(#a222)"/><polygon points="199.3,123.4 190.5,133.1 199.9,131.9 208.7,133.5" fill="none" stroke="#000" stroke-width="0.45" stroke-opacity="0.75"/>
<polygon points="108.2,119.7 99.4,106.8 108.9,107.5 117.6,129.8" fill="url(#a223)"/><polygon points="99.4,106.8 108.9,107.5 117.6,129.8" fill="url(#a224)"/><polygon points="108.2,119.7 99.4,106.8 108.9,107.5 117.6,129.8" fill="none" stroke="#000" stroke-width="0.45" stroke-opacity="0.75"/>
<polygon points="153.4,146.5 144.6,144.9 154.1,145.6 162.9,150.9" fill="url(#a225)"/><polygon points="144.6,144.9 154.1,145.6 162.9,150.9" fill="url(#a226)"/><polygon points="153.4,146.5 144.6,144.9 154.1,145.6 162.9,150.9" fill="none" stroke="#000" stroke-width="0.45" stroke-opacity="0.75"/>
<polygon points="135.2,140.4 126.4,137 135.9,135.8 144.6,144.9" fill="url(#a227)"/><polygon points="126.4,137 135.9,135.8 144.6,144.9" fill="url(#a228)"/><polygon points="135.2,140.4 126.4,137 135.9,135.8 144.6,144.9" fill="none" stroke="#000" stroke-width="0.45" stroke-opacity="0.75"/>
<polygon points="171.6,141.2 162.9,150.9 172.3,146 181.1,140" fill="url(#a229)"/><polygon points="162.9,150.9 172.3,146 181.1,140" fill="url(#a230)"/><polygon points="171.6,141.2 162.9,150.9 172.3,146 181.1,140" fill="none" stroke="#000" stroke-width="0.45" stroke-opacity="0.75"/>
<polygon points="53.6,102 44.8,98 54.2,91.4 63,96.7" fill="url(#a231)"/><polygon points="44.8,98 54.2,91.4 63,96.7" fill="url(#a232)"/><polygon points="53.6,102 44.8,98 54.2,91.4 63,96.7" fill="none" stroke="#000" stroke-width="0.45" stroke-opacity="0.75"/>
<polygon points="262.7,156.1 253.9,152.7 263.4,153.4 272.1,158.3" fill="url(#a233)"/><polygon points="253.9,152.7 263.4,153.4 272.1,158.3" fill="url(#a234)"/><polygon points="262.7,156.1 253.9,152.7 263.4,153.4 272.1,158.3" fill="none" stroke="#000" stroke-width="0.45" stroke-opacity="0.75"/>
<polygon points="90,106.1 81.2,98.9 90.6,94 99.4,106.8" fill="url(#a235)"/><polygon points="81.2,98.9 90.6,94 99.4,106.8" fill="url(#a236)"/><polygon points="90,106.1 81.2,98.9 90.6,94 99.4,106.8" fill="none" stroke="#000" stroke-width="0.45" stroke-opacity="0.75"/>
<polygon points="71.8,103.9 63,96.7 72.4,91.7 81.2,98.9" fill="url(#a237)"/><polygon points="63,96.7 72.4,91.7 81.2,98.9" fill="url(#a238)"/><polygon points="71.8,103.9 63,96.7 72.4,91.7 81.2,98.9" fill="none" stroke="#000" stroke-width="0.45" stroke-opacity="0.75"/>
<polygon points="117,134.4 108.2,119.7 117.6,129.8 126.4,137" fill="url(#a239)"/><polygon points="108.2,119.7 117.6,129.8 126.4,137" fill="url(#a240)"/><polygon points="117,134.4 108.2,119.7 117.6,129.8 126.4,137" fill="none" stroke="#000" stroke-width="0.45" stroke-opacity="0.75"/>
<polygon points="244.5,150.1 235.7,142.9 245.1,141.7 253.9,152.7" fill="url(#a241)"/><polygon points="235.7,142.9 245.1,141.7 253.9,152.7" fill="url(#a242)"/><polygon points="244.5,150.1 235.7,142.9 245.1,141.7 253.9,152.7" fill="none" stroke="#000" stroke-width="0.45" stroke-opacity="0.75"/>
<polygon points="226.3,144.1 217.5,138.8 226.9,137.6 235.7,142.9" fill="url(#a243)"/><polygon points="217.5,138.8 226.9,137.6 235.7,142.9" fill="url(#a244)"/><polygon points="226.3,144.1 217.5,138.8 226.9,137.6 235.7,142.9" fill="none" stroke="#000" stroke-width="0.45" stroke-opacity="0.75"/>
<polygon points="189.9,138.7 181.1,140 190.5,133.1 199.3,123.4" fill="url(#a245)"/><polygon points="181.1,140 190.5,133.1 199.3,123.4" fill="url(#a246)"/><polygon points="189.9,138.7 181.1,140 190.5,133.1 199.3,123.4" fill="none" stroke="#000" stroke-width="0.45" stroke-opacity="0.75"/>
<polygon points="208.1,138.1 199.3,123.4 208.7,133.5 217.5,138.8" fill="url(#a247)"/><polygon points="199.3,123.4 208.7,133.5 217.5,138.8" fill="url(#a248)"/><polygon points="208.1,138.1 199.3,123.4 208.7,133.5 217.5,138.8" fill="none" stroke="#000" stroke-width="0.45" stroke-opacity="0.75"/>
<polygon points="98.8,115.2 90,106.1 99.4,106.8 108.2,119.7" fill="url(#a249)"/><polygon points="90,106.1 99.4,106.8 108.2,119.7" fill="url(#a250)"/><polygon points="98.8,115.2 90,106.1 99.4,106.8 108.2,119.7" fill="none" stroke="#000" stroke-width="0.45" stroke-opacity="0.75"/>
<polygon points="144,142 135.2,140.4 144.6,144.9 153.4,146.5" fill="url(#a251)"/><polygon points="135.2,140.4 144.6,144.9 153.4,146.5" fill="url(#a252)"/><polygon points="144,142 135.2,140.4 144.6,144.9 153.4,146.5" fill="none" stroke="#000" stroke-width="0.45" stroke-opacity="0.75"/>
<polygon points="62.4,112.6 53.6,102 63,96.7 71.8,103.9" fill="url(#a253)"/><polygon points="53.6,102 63,96.7 71.8,103.9" fill="url(#a254)"/><polygon points="62.4,112.6 53.6,102 63,96.7 71.8,103.9" fill="none" stroke="#000" stroke-width="0.45" stroke-opacity="0.75"/>
<polygon points="162.2,142.3 153.4,146.5 162.9,150.9 171.6,141.2" fill="url(#a255)"/><polygon points="153.4,146.5 162.9,150.9 171.6,141.2" fill="url(#a256)"/><polygon points="162.2,142.3 153.4,146.5 162.9,150.9 171.6,141.2" fill="none" stroke="#000" stroke-width="0.45" stroke-opacity="0.75"/>
<polygon points="80.6,109.2 71.8,103.9 81.2,98.9 90,106.1" fill="url(#a257)"/><polygon points="71.8,103.9 81.2,98.9 90,106.1" fill="url(#a258)"/><polygon points="80.6,109.2 71.8,103.9 81.2,98.9 90,106.1" fill="none" stroke="#000" stroke-width="0.45" stroke-opacity="0.75"/>
<polygon points="125.8,137.9 117,134.4 126.4,137 135.2,140.4" fill="url(#a259)"/><polygon points="117,134.4 126.4,137 135.2,140.4" fill="url(#a260)"/><polygon points="125.8,137.9 117,134.4 126.4,137 135.2,140.4" fill="none" stroke="#000" stroke-width="0.45" stroke-opacity="0.75"/>
<polygon points="253.3,154.3 244.5,150.1 253.9,152.7 262.7,156.1" fill="url(#a261)"/><polygon points="244.5,150.1 253.9,152.7 262.7,156.1" fill="url(#a262)"/><polygon points="253.3,154.3 244.5,150.1 253.9,152.7 262.7,156.1" fill="none" stroke="#000" stroke-width="0.45" stroke-opacity="0.75"/>
<polygon points="180.4,142.7 171.6,141.2 181.1,140 189.9,138.7" fill="url(#a263)"/><polygon points="171.6,141.2 181.1,140 189.9,138.7" fill="url(#a264)"/><polygon points="180.4,142.7 171.6,141.2 181.1,140 189.9,138.7" fill="none" stroke="#000" stroke-width="0.45" stroke-opacity="0.75"/>
<polygon points="235.1,151.3 226.3,144.1 235.7,142.9 244.5,150.1" fill="url(#a265)"/><polygon points="226.3,144.1 235.7,142.9 244.5,150.1" fill="url(#a266)"/><polygon points="235.1,151.3 226.3,144.1 235.7,142.9 244.5,150.1" fill="none" stroke="#000" stroke-width="0.45" stroke-opacity="0.75"/>
<polygon points="216.9,145.3 208.1,138.1 217.5,138.8 226.3,144.1" fill="url(#a267)"/><polygon points="208.1,138.1 217.5,138.8 226.3,144.1" fill="url(#a268)"/><polygon points="216.9,145.3 208.1,138.1 217.5,138.8 226.3,144.1" fill="none" stroke="#000" stroke-width="0.45" stroke-opacity="0.75"/>
<polygon points="107.6,124.3 98.8,115.2 108.2,119.7 117,134.4" fill="url(#a269)"/><polygon points="98.8,115.2 108.2,119.7 117,134.4" fill="url(#a270)"/><polygon points="107.6,124.3 98.8,115.2 108.2,119.7 117,134.4" fill="none" stroke="#000" stroke-width="0.45" stroke-opacity="0.75"/>
<polygon points="198.6,144 189.9,138.7 199.3,123.4 208.1,138.1" fill="url(#a271)"/><polygon points="189.9,138.7 199.3,123.4 208.1,138.1" fill="url(#a272)"/><polygon points="198.6,144 189.9,138.7 199.3,123.4 208.1,138.1" fill="none" stroke="#000" stroke-width="0.45" stroke-opacity="0.75"/>
<polygon points="71.1,119.1 62.4,112.6 71.8,103.9 80.6,109.2" fill="url(#a273)"/><polygon points="62.4,112.6 71.8,103.9 80.6,109.2" fill="url(#a274)"/><polygon points="71.1,119.1 62.4,112.6 71.8,103.9 80.6,109.2" fill="none" stroke="#000" stroke-width="0.45" stroke-opacity="0.75"/>
<polygon points="89.4,116.4 80.6,109.2 90,106.1 98.8,115.2" fill="url(#a275)"/><polygon points="80.6,109.2 90,106.1 98.8,115.2" fill="url(#a276)"/><polygon points="89.4,116.4 80.6,109.2 90,106.1 98.8,115.2" fill="none" stroke="#000" stroke-width="0.45" stroke-opacity="0.75"/>
<polygon points="134.6,137.5 125.8,137.9 135.2,140.4 144,142" fill="url(#a277)"/><polygon points="125.8,137.9 135.2,140.4 144,142" fill="url(#a278)"/><polygon points="134.6,137.5 125.8,137.9 135.2,140.4 144,142" fill="none" stroke="#000" stroke-width="0.45" stroke-opacity="0.75"/>
<polygon points="152.8,128.4 144,142 153.4,146.5 162.2,142.3" fill="url(#a279)"/><polygon points="144,142 153.4,146.5 162.2,142.3" fill="url(#a280)"/><polygon points="152.8,128.4 144,142 153.4,146.5 162.2,142.3" fill="none" stroke="#000" stroke-width="0.45" stroke-opacity="0.75"/>
<polygon points="243.9,153.8 235.1,151.3 244.5,150.1 253.3,154.3" fill="url(#a281)"/><polygon points="235.1,151.3 244.5,150.1 253.3,154.3" fill="url(#a282)"/><polygon points="243.9,153.8 235.1,151.3 244.5,150.1 253.3,154.3" fill="none" stroke="#000" stroke-width="0.45" stroke-opacity="0.75"/>
<polygon points="171,134.5 162.2,142.3 171.6,141.2 180.4,142.7" fill="url(#a283)"/><polygon points="162.2,142.3 171.6,141.2 180.4,142.7" fill="url(#a284)"/><polygon points="171,134.5 162.2,142.3 171.6,141.2 180.4,142.7" fill="none" stroke="#000" stroke-width="0.45" stroke-opacity="0.75"/>
<polygon points="116.4,127.7 107.6,124.3 117,134.4 125.8,137.9" fill="url(#a285)"/><polygon points="107.6,124.3 117,134.4 125.8,137.9" fill="url(#a286)"/><polygon points="116.4,127.7 107.6,124.3 117,134.4 125.8,137.9" fill="none" stroke="#000" stroke-width="0.45" stroke-opacity="0.75"/>
<polygon points="189.2,144.2 180.4,142.7 189.9,138.7 198.6,144" fill="url(#a287)"/><polygon points="180.4,142.7 189.9,138.7 198.6,144" fill="url(#a288)"/><polygon points="189.2,144.2 180.4,142.7 189.9,138.7 198.6,144" fill="none" stroke="#000" stroke-width="0.45" stroke-opacity="0.75"/>
<polygon points="225.6,150.6 216.9,145.3 226.3,144.1 235.1,151.3" fill="url(#a289)"/><polygon points="216.9,145.3 226.3,144.1 235.1,151.3" fill="url(#a290)"/><polygon points="225.6,150.6 216.9,145.3 226.3,144.1 235.1,151.3" fill="none" stroke="#000" stroke-width="0.45" stroke-opacity="0.75"/>
<polygon points="207.4,148.4 198.6,144 208.1,138.1 216.9,145.3" fill="url(#a291)"/><polygon points="198.6,144 208.1,138.1 216.9,145.3" fill="url(#a292)"/><polygon points="207.4,148.4 198.6,144 208.1,138.1 216.9,145.3" fill="none" stroke="#000" stroke-width="0.45" stroke-opacity="0.75"/>
<polygon points="79.9,123.1 71.1,119.1 80.6,109.2 89.4,116.4" fill="url(#a293)"/><polygon points="71.1,119.1 80.6,109.2 89.4,116.4" fill="url(#a294)"/><polygon points="79.9,123.1 71.1,119.1 80.6,109.2 89.4,116.4" fill="none" stroke="#000" stroke-width="0.45" stroke-opacity="0.75"/>
<polygon points="98.1,121.7 89.4,116.4 98.8,115.2 107.6,124.3" fill="url(#a295)"/><polygon points="89.4,116.4 98.8,115.2 107.6,124.3" fill="url(#a296)"/><polygon points="98.1,121.7 89.4,116.4 98.8,115.2 107.6,124.3" fill="none" stroke="#000" stroke-width="0.45" stroke-opacity="0.75"/>
<polygon points="234.4,156.3 225.6,150.6 235.1,151.3 243.9,153.8" fill="url(#a297)"/><polygon points="225.6,150.6 235.1,151.3 243.9,153.8" fill="url(#a298)"/><polygon points="234.4,156.3 225.6,150.6 235.1,151.3 243.9,153.8" fill="none" stroke="#000" stroke-width="0.45" stroke-opacity="0.75"/>
<polygon points="216.2,153.7 207.4,148.4 216.9,145.3 225.6,150.6" fill="url(#a299)"/><polygon points="207.4,148.4 216.9,145.3 225.6,150.6" fill="url(#a300)"/><polygon points="216.2,153.7 207.4,148.4 216.9,145.3 225.6,150.6" fill="none" stroke="#000" stroke-width="0.45" stroke-opacity="0.75"/>
<polygon points="198,149.6 189.2,144.2 198.6,144 207.4,148.4" fill="url(#a301)"/><polygon points="189.2,144.2 198.6,144 207.4,148.4" fill="url(#a302)"/><polygon points="198,149.6 189.2,144.2 198.6,144 207.4,148.4" fill="none" stroke="#000" stroke-width="0.45" stroke-opacity="0.75"/>
<polygon points="125.1,134.9 116.4,127.7 125.8,137.9 134.6,137.5" fill="url(#a303)"/><polygon points="116.4,127.7 125.8,137.9 134.6,137.5" fill="url(#a304)"/><polygon points="125.1,134.9 116.4,127.7 125.8,137.9 134.6,137.5" fill="none" stroke="#000" stroke-width="0.45" stroke-opacity="0.75"/>
<polygon points="179.8,141.7 171,134.5 180.4,142.7 189.2,144.2" fill="url(#a305)"/><polygon points="171,134.5 180.4,142.7 189.2,144.2" fill="url(#a306)"/><polygon points="179.8,141.7 171,134.5 180.4,142.7 189.2,144.2" fill="none" stroke="#000" stroke-width="0.45" stroke-opacity="0.75"/>
<polygon points="143.4,131.5 134.6,137.5 144,142 152.8,128.4" fill="url(#a307)"/><polygon points="134.6,137.5 144,142 152.8,128.4" fill="url(#a308)"/><polygon points="143.4,131.5 134.6,137.5 144,142 152.8,128.4" fill="none" stroke="#000" stroke-width="0.45" stroke-opacity="0.75"/>
<polygon points="88.7,132.1 79.9,123.1 89.4,116.4 98.1,121.7" fill="url(#a309)"/><polygon points="79.9,123.1 89.4,116.4 98.1,121.7" fill="url(#a310)"/><polygon points="88.7,132.1 79.9,123.1 89.4,116.4 98.1,121.7" fill="none" stroke="#000" stroke-width="0.45" stroke-opacity="0.75"/>
<polygon points="106.9,125.1 98.1,121.7 107.6,124.3 116.4,127.7" fill="url(#a311)"/><polygon points="98.1,121.7 107.6,124.3 116.4,127.7" fill="url(#a312)"/><polygon points="106.9,125.1 98.1,121.7 107.6,124.3 116.4,127.7" fill="none" stroke="#000" stroke-width="0.45" stroke-opacity="0.75"/>
<polygon points="161.6,126.2 152.8,128.4 162.2,142.3 171,134.5" fill="url(#a313)"/><polygon points="152.8,128.4 162.2,142.3 171,134.5" fill="url(#a314)"/><polygon points="161.6,126.2 152.8,128.4 162.2,142.3 171,134.5" fill="none" stroke="#000" stroke-width="0.45" stroke-opacity="0.75"/>
<polygon points="206.8,154.9 198,149.6 207.4,148.4 216.2,153.7" fill="url(#a315)"/><polygon points="198,149.6 207.4,148.4 216.2,153.7" fill="url(#a316)"/><polygon points="206.8,154.9 198,149.6 207.4,148.4 216.2,153.7" fill="none" stroke="#000" stroke-width="0.45" stroke-opacity="0.75"/>
<polygon points="225,152.2 216.2,153.7 225.6,150.6 234.4,156.3" fill="url(#a317)"/><polygon points="216.2,153.7 225.6,150.6 234.4,156.3" fill="url(#a318)"/><polygon points="225,152.2 216.2,153.7 225.6,150.6 234.4,156.3" fill="none" stroke="#000" stroke-width="0.45" stroke-opacity="0.75"/>
<polygon points="188.6,150.7 179.8,141.7 189.2,144.2 198,149.6" fill="url(#a319)"/><polygon points="179.8,141.7 189.2,144.2 198,149.6" fill="url(#a320)"/><polygon points="188.6,150.7 179.8,141.7 189.2,144.2 198,149.6" fill="none" stroke="#000" stroke-width="0.45" stroke-opacity="0.75"/>
<polygon points="97.5,141.8 88.7,132.1 98.1,121.7 106.9,125.1" fill="url(#a321)"/><polygon points="88.7,132.1 98.1,121.7 106.9,125.1" fill="url(#a322)"/><polygon points="97.5,141.8 88.7,132.1 98.1,121.7 106.9,125.1" fill="none" stroke="#000" stroke-width="0.45" stroke-opacity="0.75"/>
<polygon points="133.9,136.5 125.1,134.9 134.6,137.5 143.4,131.5" fill="url(#a323)"/><polygon points="125.1,134.9 134.6,137.5 143.4,131.5" fill="url(#a324)"/><polygon points="133.9,136.5 125.1,134.9 134.6,137.5 143.4,131.5" fill="none" stroke="#000" stroke-width="0.45" stroke-opacity="0.75"/>
<polygon points="115.7,134.2 106.9,125.1 116.4,127.7 125.1,134.9" fill="url(#a325)"/><polygon points="106.9,125.1 116.4,127.7 125.1,134.9" fill="url(#a326)"/><polygon points="115.7,134.2 106.9,125.1 116.4,127.7 125.1,134.9" fill="none" stroke="#000" stroke-width="0.45" stroke-opacity="0.75"/>
<polygon points="170.4,137.2 161.6,126.2 171,134.5 179.8,141.7" fill="url(#a327)"/><polygon points="161.6,126.2 171,134.5 179.8,141.7" fill="url(#a328)"/><polygon points="170.4,137.2 161.6,126.2 171,134.5 179.8,141.7" fill="none" stroke="#000" stroke-width="0.45" stroke-opacity="0.75"/>
<polygon points="152.1,134.9 143.4,131.5 152.8,128.4 161.6,126.2" fill="url(#a329)"/><polygon points="143.4,131.5 152.8,128.4 161.6,126.2" fill="url(#a330)"/><polygon points="152.1,134.9 143.4,131.5 152.8,128.4 161.6,126.2" fill="none" stroke="#000" stroke-width="0.45" stroke-opacity="0.75"/>
<polygon points="197.4,157.9 188.6,150.7 198,149.6 206.8,154.9" fill="url(#a331)"/><polygon points="188.6,150.7 198,149.6 206.8,154.9" fill="url(#a332)"/><polygon points="197.4,157.9 188.6,150.7 198,149.6 206.8,154.9" fill="none" stroke="#000" stroke-width="0.45" stroke-opacity="0.75"/>
<polygon points="215.6,156.2 206.8,154.9 216.2,153.7 225,152.2" fill="url(#a333)"/><polygon points="206.8,154.9 216.2,153.7 225,152.2" fill="url(#a334)"/><polygon points="215.6,156.2 206.8,154.9 216.2,153.7 225,152.2" fill="none" stroke="#000" stroke-width="0.45" stroke-opacity="0.75"/>
<polygon points="179.1,151.9 170.4,137.2 179.8,141.7 188.6,150.7" fill="url(#a335)"/><polygon points="170.4,137.2 179.8,141.7 188.6,150.7" fill="url(#a336)"/><polygon points="179.1,151.9 170.4,137.2 179.8,141.7 188.6,150.7" fill="none" stroke="#000" stroke-width="0.45" stroke-opacity="0.75"/>
<polygon points="106.3,133.5 97.5,141.8 106.9,125.1 115.7,134.2" fill="url(#a337)"/><polygon points="97.5,141.8 106.9,125.1 115.7,134.2" fill="url(#a338)"/><polygon points="106.3,133.5 97.5,141.8 106.9,125.1 115.7,134.2" fill="none" stroke="#000" stroke-width="0.45" stroke-opacity="0.75"/>
<polygon points="124.5,137.7 115.7,134.2 125.1,134.9 133.9,136.5" fill="url(#a339)"/><polygon points="115.7,134.2 125.1,134.9 133.9,136.5" fill="url(#a340)"/><polygon points="124.5,137.7 115.7,134.2 125.1,134.9 133.9,136.5" fill="none" stroke="#000" stroke-width="0.45" stroke-opacity="0.75"/>
<polygon points="142.7,143.7 133.9,136.5 143.4,131.5 152.1,134.9" fill="url(#a341)"/><polygon points="133.9,136.5 143.4,131.5 152.1,134.9" fill="url(#a342)"/><polygon points="142.7,143.7 133.9,136.5 143.4,131.5 152.1,134.9" fill="none" stroke="#000" stroke-width="0.45" stroke-opacity="0.75"/>
<polygon points="160.9,144 152.1,134.9 161.6,126.2 170.4,137.2" fill="url(#a343)"/><polygon points="152.1,134.9 161.6,126.2 170.4,137.2" fill="url(#a344)"/><polygon points="160.9,144 152.1,134.9 161.6,126.2 170.4,137.2" fill="none" stroke="#000" stroke-width="0.45" stroke-opacity="0.75"/>
<polygon points="187.9,159.1 179.1,151.9 188.6,150.7 197.4,157.9" fill="url(#a345)"/><polygon points="179.1,151.9 188.6,150.7 197.4,157.9" fill="url(#a346)"/><polygon points="187.9,159.1 179.1,151.9 188.6,150.7 197.4,157.9" fill="none" stroke="#000" stroke-width="0.45" stroke-opacity="0.75"/>
<polygon points="206.1,159.5 197.4,157.9 206.8,154.9 215.6,156.2" fill="url(#a347)"/><polygon points="197.4,157.9 206.8,154.9 215.6,156.2" fill="url(#a348)"/><polygon points="206.1,159.5 197.4,157.9 206.8,154.9 215.6,156.2" fill="none" stroke="#000" stroke-width="0.45" stroke-opacity="0.75"/>
<polygon points="133.3,150.5 124.5,137.7 133.9,136.5 142.7,143.7" fill="url(#a349)"/><polygon points="124.5,137.7 133.9,136.5 142.7,143.7" fill="url(#a350)"/><polygon points="133.3,150.5 124.5,137.7 133.9,136.5 142.7,143.7" fill="none" stroke="#000" stroke-width="0.45" stroke-opacity="0.75"/>
<polygon points="169.7,156.9 160.9,144 170.4,137.2 179.1,151.9" fill="url(#a351)"/><polygon points="160.9,144 170.4,137.2 179.1,151.9" fill="url(#a352)"/><polygon points="169.7,156.9 160.9,144 170.4,137.2 179.1,151.9" fill="none" stroke="#000" stroke-width="0.45" stroke-opacity="0.75"/>
<polygon points="151.5,152.8 142.7,143.7 152.1,134.9 160.9,144" fill="url(#a353)"/><polygon points="142.7,143.7 152.1,134.9 160.9,144" fill="url(#a354)"/><polygon points="151.5,152.8 142.7,143.7 152.1,134.9 160.9,144" fill="none" stroke="#000" stroke-width="0.45" stroke-opacity="0.75"/>
<polygon points="115.1,143.2 106.3,133.5 115.7,134.2 124.5,137.7" fill="url(#a355)"/><polygon points="106.3,133.5 115.7,134.2 124.5,137.7" fill="url(#a356)"/><polygon points="115.1,143.2 106.3,133.5 115.7,134.2 124.5,137.7" fill="none" stroke="#000" stroke-width="0.45" stroke-opacity="0.75"/>
<polygon points="196.7,169.5 187.9,159.1 197.4,157.9 206.1,159.5" fill="url(#a357)"/><polygon points="187.9,159.1 197.4,157.9 206.1,159.5" fill="url(#a358)"/><polygon points="196.7,169.5 187.9,159.1 197.4,157.9 206.1,159.5" fill="none" stroke="#000" stroke-width="0.45" stroke-opacity="0.75"/>
<polygon points="178.5,162.2 169.7,156.9 179.1,151.9 187.9,159.1" fill="url(#a359)"/><polygon points="169.7,156.9 179.1,151.9 187.9,159.1" fill="url(#a360)"/><polygon points="178.5,162.2 169.7,156.9 179.1,151.9 187.9,159.1" fill="none" stroke="#000" stroke-width="0.45" stroke-opacity="0.75"/>
<polygon points="142.1,157.7 133.3,150.5 142.7,143.7 151.5,152.8" fill="url(#a361)"/><polygon points="133.3,150.5 142.7,143.7 151.5,152.8" fill="url(#a362)"/><polygon points="142.1,157.7 133.3,150.5 142.7,143.7 151.5,152.8" fill="none" stroke="#000" stroke-width="0.45" stroke-opacity="0.75"/>
<polygon points="160.3,160 151.5,152.8 160.9,144 169.7,156.9" fill="url(#a363)"/><polygon points="151.5,152.8 160.9,144 169.7,156.9" fill="url(#a364)"/><polygon points="160.3,160 151.5,152.8 160.9,144 169.7,156.9" fill="none" stroke="#000" stroke-width="0.45" stroke-opacity="0.75"/>
<polygon points="123.9,149.8 115.1,143.2 124.5,137.7 133.3,150.5" fill="url(#a365)"/><polygon points="115.1,143.2 124.5,137.7 133.3,150.5" fill="url(#a366)"/><polygon points="123.9,149.8 115.1,143.2 124.5,137.7 133.3,150.5" fill="none" stroke="#000" stroke-width="0.45" stroke-opacity="0.75"/>
<polygon points="187.3,171.8 178.5,162.2 187.9,159.1 196.7,169.5" fill="url(#a367)"/><polygon points="178.5,162.2 187.9,159.1 196.7,169.5" fill="url(#a368)"/><polygon points="187.3,171.8 178.5,162.2 187.9,159.1 196.7,169.5" fill="none" stroke="#000" stroke-width="0.45" stroke-opacity="0.75"/>
<polygon points="150.9,164.9 142.1,157.7 151.5,152.8 160.3,160" fill="url(#a369)"/><polygon points="142.1,157.7 151.5,152.8 160.3,160" fill="url(#a370)"/><polygon points="150.9,164.9 142.1,157.7 151.5,152.8 160.3,160" fill="none" stroke="#000" stroke-width="0.45" stroke-opacity="0.75"/>
<polygon points="169.1,167.2 160.3,160 169.7,156.9 178.5,162.2" fill="url(#a371)"/><polygon points="160.3,160 169.7,156.9 178.5,162.2" fill="url(#a372)"/><polygon points="169.1,167.2 160.3,160 169.7,156.9 178.5,162.2" fill="none" stroke="#000" stroke-width="0.45" stroke-opacity="0.75"/>
<polygon points="132.6,157 123.9,149.8 133.3,150.5 142.1,157.7" fill="url(#a373)"/><polygon points="123.9,149.8 133.3,150.5 142.1,157.7" fill="url(#a374)"/><polygon points="132.6,157 123.9,149.8 133.3,150.5 142.1,157.7" fill="none" stroke="#000" stroke-width="0.45" stroke-opacity="0.75"/>
<polygon points="177.9,175.9 169.1,167.2 178.5,162.2 187.3,171.8" fill="url(#a375)"/><polygon points="169.1,167.2 178.5,162.2 187.3,171.8" fill="url(#a376)"/><polygon points="177.9,175.9 169.1,167.2 178.5,162.2 187.3,171.8" fill="none" stroke="#000" stroke-width="0.45" stroke-opacity="0.75"/>
<polygon points="159.6,157 150.9,164.9 160.3,160 169.1,167.2" fill="url(#a377)"/><polygon points="150.9,164.9 160.3,160 169.1,167.2" fill="url(#a378)"/><polygon points="159.6,157 150.9,164.9 160.3,160 169.1,167.2" fill="none" stroke="#000" stroke-width="0.45" stroke-opacity="0.75"/>
<polygon points="141.4,156.7 132.6,157 142.1,157.7 150.9,164.9" fill="url(#a379)"/><polygon points="132.6,157 142.1,157.7 150.9,164.9" fill="url(#a380)"/><polygon points="141.4,156.7 132.6,157 142.1,157.7 150.9,164.9" fill="none" stroke="#000" stroke-width="0.45" stroke-opacity="0.75"/>
<polygon points="168.4,158 159.6,157 169.1,167.2 177.9,175.9" fill="url(#a381)"/><polygon points="159.6,157 169.1,167.2 177.9,175.9" fill="url(#a382)"/><polygon points="168.4,158 159.6,157 169.1,167.2 177.9,175.9" fill="none" stroke="#000" stroke-width="0.45" stroke-opacity="0.75"/>
<polygon points="150.2,164.1 141.4,156.7 150.9,164.9 159.6,157" fill="url(#a383)"/><polygon points="141.4,156.7 150.9,164.9 159.6,157" fill="url(#a384)"/><polygon points="150.2,164.1 141.4,156.7 150.9,164.9 159.6,157" fill="none" stroke="#000" stroke-width="0.45" stroke-opacity="0.75"/>
<polygon points="159,181.4 150.2,164.1 159.6,157 168.4,158" fill="url(#a385)"/><polygon points="150.2,164.1 159.6,157 168.4,158" fill="url(#a386)"/><polygon points="159,181.4 150.2,164.1 159.6,157 168.4,158" fill="none" stroke="#000" stroke-width="0.45" stroke-opacity="0.75"/>
<line x1="36" y1="157" x2="36" y2="62.7" stroke="#262626" stroke-width="0.6" fill="none"/>
<line x1="36" y1="157" x2="159" y2="205" stroke="#262626" stroke-width="0.6" fill="none"/>
<line x1="159" y1="205" x2="291" y2="162" stroke="#262626" stroke-width="0.6" fill="none"/>
<line x1="36" y1="157" x2="33.4" y2="157.8" stroke="#262626" stroke-width="0.6" fill="none"/>
<line x1="36" y1="138.1" x2="33.4" y2="139" stroke="#262626" stroke-width="0.6" fill="none"/>
<line x1="36" y1="119.3" x2="33.4" y2="120.1" stroke="#262626" stroke-width="0.6" fill="none"/>
<line x1="36" y1="100.4" x2="33.4" y2="101.3" stroke="#262626" stroke-width="0.6" fill="none"/>
<line x1="36" y1="81.6" x2="33.4" y2="82.4" stroke="#262626" stroke-width="0.6" fill="none"/>
<line x1="36" y1="62.7" x2="33.4" y2="63.6" stroke="#262626" stroke-width="0.6" fill="none"/>
<line x1="36" y1="157" x2="33.4" y2="157.8" stroke="#262626" stroke-width="0.6" fill="none"/>
<line x1="79.9" y1="174.1" x2="77.3" y2="175" stroke="#262626" stroke-width="0.6" fill="none"/>
<line x1="123.9" y1="191.3" x2="121.3" y2="192.1" stroke="#262626" stroke-width="0.6" fill="none"/>
<line x1="159" y1="205" x2="156.4" y2="205.8" stroke="#262626" stroke-width="0.6" fill="none"/>
<line x1="159" y1="205" x2="161.5" y2="206" stroke="#262626" stroke-width="0.6" fill="none"/>
<line x1="196.7" y1="192.7" x2="199.2" y2="193.7" stroke="#262626" stroke-width="0.6" fill="none"/>
<line x1="243.9" y1="177.4" x2="246.4" y2="178.3" stroke="#262626" stroke-width="0.6" fill="none"/>
<line x1="291" y1="162" x2="293.5" y2="163" stroke="#262626" stroke-width="0.6" fill="none"/>
<polygon points="336.5,93.7 336.5,88.3 347.4,88.3 347.4,93.7" fill="url(#h0)"/><polygon points="336.5,88.3 347.4,88.3 347.4,93.7" fill="url(#h1)"/>
<polygon points="347.4,93.7 347.4,88.3 358.3,88.3 358.3,93.7" fill="url(#h2)"/><polygon points="347.4,88.3 358.3,88.3 358.3,93.7" fill="url(#h3)"/>
<polygon points="358.3,93.7 358.3,88.3 369.2,88.3 369.2,93.7" fill="url(#h4)"/><polygon points="358.3,88.3 369.2,88.3 369.2,93.7" fill="url(#h5)"/>
<polygon points="369.2,93.7 369.2,88.3 380.1,88.3 380.1,93.7" fill="url(#h6)"/><polygon points="369.2,88.3 380.1,88.3 380.1,93.7" fill="url(#h7)"/>
<polygon points="380.1,93.7 380.1,88.3 391,88.3 391,93.7" fill="url(#h8)"/><polygon points="380.1,88.3 391,88.3 391,93.7" fill="url(#h9)"/>
<polygon points="391,93.7 391,88.3 401.9,88.3 401.9,93.7" fill="url(#h10)"/><polygon points="391,88.3 401.9,88.3 401.9,93.7" fill="url(#h11)"/>
<polygon points="401.9,93.7 401.9,88.3 412.8,88.3 412.8,93.7" fill="url(#h12)"/><polygon points="401.9,88.3 412.8,88.3 412.8,93.7" fill="url(#h13)"/>
<polygon points="412.8,93.7 412.8,88.3 423.6,88.3 423.6,93.7" fill="url(#h14)"/><polygon points="412.8,88.3 423.6,88.3 423.6,93.7" fill="url(#h15)"/>
<polygon points="423.6,93.7 423.6,88.3 434.5,88.3 434.5,93.7" fill="url(#h16)"/><polygon points="423.6,88.3 434.5,88.3 434.5,93.7" fill="url(#h17)"/>
<polygon points="434.5,93.7 434.5,88.3 445.4,88.3 445.4,93.7" fill="url(#h18)"/><polygon points="434.5,88.3 445.4,88.3 445.4,93.7" fill="url(#h19)"/>
<polygon points="445.4,93.7 445.4,88.3 456.3,88.3 456.3,93.7" fill="url(#h20)"/><polygon points="445.4,88.3 456.3,88.3 456.3,93.7" fill="url(#h21)"/>
<polygon points="456.3,93.7 456.3,88.3 467.2,88.3 467.2,93.7" fill="url(#h22)"/><polygon points="456.3,88.3 467.2,88.3 467.2,93.7" fill="url(#h23)"/>
<polygon points="467.2,93.7 467.2,88.3 478.1,88.3 478.1,93.7" fill="url(#h24)"/><polygon points="467.2,88.3 478.1,88.3 478.1,93.7" fill="url(#h25)"/>
<polygon points="478.1,93.7 478.1,88.3 489,88.3 489,93.7" fill="url(#h26)"/><polygon points="478.1,88.3 489,88.3 489,93.7" fill="url(#h27)"/>
<polygon points="336.5,88.3 336.5,83 347.4,83 347.4,88.3" fill="url(#h28)"/><polygon points="336.5,83 347.4,83 347.4,88.3" fill="url(#h29)"/>
<polygon points="347.4,88.3 347.4,83 358.3,83 358.3,88.3" fill="url(#h30)"/><polygon points="347.4,83 358.3,83 358.3,88.3" fill="url(#h31)"/>
<polygon points="358.3,88.3 358.3,83 369.2,83 369.2,88.3" fill="url(#h32)"/><polygon points="358.3,83 369.2,83 369.2,88.3" fill="url(#h33)"/>
<polygon points="369.2,88.3 369.2,83 380.1,83 380.1,88.3" fill="url(#h34)"/><polygon points="369.2,83 380.1,83 380.1,88.3" fill="url(#h35)"/>
<polygon points="380.1,88.3 380.1,83 391,83 391,88.3" fill="url(#h36)"/><polygon points="380.1,83 391,83 391,88.3" fill="url(#h37)"/>
<polygon points="391,88.3 391,83 401.9,83 401.9,88.3" fill="url(#h38)"/><polygon points="391,83 401.9,83 401.9,88.3" fill="url(#h39)"/>
<polygon points="401.9,88.3 401.9,83 412.8,83 412.8,88.3" fill="url(#h40)"/><polygon points="401.9,83 412.8,83 412.8,88.3" fill="url(#h41)"/>
<polygon points="412.8,88.3 412.8,83 423.6,83 423.6,88.3" fill="url(#h42)"/><polygon points="412.8,83 423.6,83 423.6,88.3" fill="url(#h43)"/>
<polygon points="423.6,88.3 423.6,83 434.5,83 434.5,88.3" fill="url(#h44)"/><polygon points="423.6,83 434.5,83 434.5,88.3" fill="url(#h45)"/>
<polygon points="434.5,88.3 434.5,83 445.4,83 445.4,88.3" fill="url(#h46)"/><polygon points="434.5,83 445.4,83 445.4,88.3" fill="url(#h47)"/>
<polygon points="445.4,88.3 445.4,83 456.3,83 456.3,88.3" fill="url(#h48)"/><polygon points="445.4,83 456.3,83 456.3,88.3" fill="url(#h49)"/>
<polygon points="456.3,88.3 456.3,83 467.2,83 467.2,88.3" fill="url(#h50)"/><polygon points="456.3,83 467.2,83 467.2,88.3" fill="url(#h51)"/>
<polygon points="467.2,88.3 467.2,83 478.1,83 478.1,88.3" fill="url(#h52)"/><polygon points="467.2,83 478.1,83 478.1,88.3" fill="url(#h53)"/>
<polygon points="478.1,88.3 478.1,83 489,83 489,88.3" fill="url(#h54)"/><polygon points="478.1,83 489,83 489,88.3" fill="url(#h55)"/>
<polygon points="336.5,83 336.5,77.6 347.4,77.6 347.4,83" fill="url(#h56)"/><polygon points="336.5,77.6 347.4,77.6 347.4,83" fill="url(#h57)"/>
<polygon points="347.4,83 347.4,77.6 358.3,77.6 358.3,83" fill="url(#h58)"/><polygon points="347.4,77.6 358.3,77.6 358.3,83" fill="url(#h59)"/>
<polygon points="358.3,83 358.3,77.6 369.2,77.6 369.2,83" fill="url(#h60)"/><polygon points="358.3,77.6 369.2,77.6 369.2,83" fill="url(#h61)"/>
<polygon points="369.2,83 369.2,77.6 380.1,77.6 380.1,83" fill="url(#h62)"/><polygon points="369.2,77.6 380.1,77.6 380.1,83" fill="url(#h63)"/>
<polygon points="380.1,83 380.1,77.6 391,77.6 391,83" fill="url(#h64)"/><polygon points="380.1,77.6 391,77.6 391,83" fill="url(#h65)"/>
<polygon points="391,83 391,77.6 401.9,77.6 401.9,83" fill="url(#h66)"/><polygon points="391,77.6 401.9,77.6 401.9,83" fill="url(#h67)"/>
<polygon points="401.9,83 401.9,77.6 412.8,77.6 412.8,83" fill="url(#h68)"/><polygon points="401.9,77.6 412.8,77.6 412.8,83" fill="url(#h69)"/>
<polygon points="412.8,83 412.8,77.6 423.6,77.6 423.6,83" fill="url(#h70)"/><polygon points="412.8,77.6 423.6,77.6 423.6,83" fill="url(#h71)"/>
<polygon points="423.6,83 423.6,77.6 434.5,77.6 434.5,83" fill="url(#h72)"/><polygon points="423.6,77.6 434.5,77.6 434.5,83" fill="url(#h73)"/>
<polygon points="434.5,83 434.5,77.6 445.4,77.6 445.4,83" fill="url(#h74)"/><polygon points="434.5,77.6 445.4,77.6 445.4,83" fill="url(#h75)"/>
<polygon points="445.4,83 445.4,77.6 456.3,77.6 456.3,83" fill="url(#h76)"/><polygon points="445.4,77.6 456.3,77.6 456.3,83" fill="url(#h77)"/>
<polygon points="456.3,83 456.3,77.6 467.2,77.6 467.2,83" fill="url(#h78)"/><polygon points="456.3,77.6 467.2,77.6 467.2,83" fill="url(#h79)"/>
<polygon points="467.2,83 467.2,77.6 478.1,77.6 478.1,83" fill="url(#h80)"/><polygon points="467.2,77.6 478.1,77.6 478.1,83" fill="url(#h81)"/>
<polygon points="478.1,83 478.1,77.6 489,77.6 489,83" fill="url(#h82)"/><polygon points="478.1,77.6 489,77.6 489,83" fill="url(#h83)"/>
<polygon points="336.5,77.6 336.5,72.2 347.4,72.2 347.4,77.6" fill="url(#h84)"/><polygon points="336.5,72.2 347.4,72.2 347.4,77.6" fill="url(#h85)"/>
<polygon points="347.4,77.6 347.4,72.2 358.3,72.2 358.3,77.6" fill="url(#h86)"/><polygon points="347.4,72.2 358.3,72.2 358.3,77.6" fill="url(#h87)"/>
<polygon points="358.3,77.6 358.3,72.2 369.2,72.2 369.2,77.6" fill="url(#h88)"/><polygon points="358.3,72.2 369.2,72.2 369.2,77.6" fill="url(#h89)"/>
<polygon points="369.2,77.6 369.2,72.2 380.1,72.2 380.1,77.6" fill="url(#h90)"/><polygon points="369.2,72.2 380.1,72.2 380.1,77.6" fill="url(#h91)"/>
<polygon points="380.1,77.6 380.1,72.2 391,72.2 391,77.6" fill="url(#h92)"/><polygon points="380.1,72.2 391,72.2 391,77.6" fill="url(#h93)"/>
<polygon points="391,77.6 391,72.2 401.9,72.2 401.9,77.6" fill="url(#h94)"/><polygon points="391,72.2 401.9,72.2 401.9,77.6" fill="url(#h95)"/>
<polygon points="401.9,77.6 401.9,72.2 412.8,72.2 412.8,77.6" fill="url(#h96)"/><polygon points="401.9,72.2 412.8,72.2 412.8,77.6" fill="url(#h97)"/>
<polygon points="412.8,77.6 412.8,72.2 423.6,72.2 423.6,77.6" fill="url(#h98)"/><polygon points="412.8,72.2 423.6,72.2 423.6,77.6" fill="url(#h99)"/>
<polygon points="423.6,77.6 423.6,72.2 434.5,72.2 434.5,77.6" fill="url(#h100)"/><polygon points="423.6,72.2 434.5,72.2 434.5,77.6" fill="url(#h101)"/>
<polygon points="434.5,77.6 434.5,72.2 445.4,72.2 445.4,77.6" fill="url(#h102)"/><polygon points="434.5,72.2 445.4,72.2 445.4,77.6" fill="url(#h103)"/>
<polygon points="445.4,77.6 445.4,72.2 456.3,72.2 456.3,77.6" fill="url(#h104)"/><polygon points="445.4,72.2 456.3,72.2 456.3,77.6" fill="url(#h105)"/>
<polygon points="456.3,77.6 456.3,72.2 467.2,72.2 467.2,77.6" fill="url(#h106)"/><polygon points="456.3,72.2 467.2,72.2 467.2,77.6" fill="url(#h107)"/>
<polygon points="467.2,77.6 467.2,72.2 478.1,72.2 478.1,77.6" fill="url(#h108)"/><polygon points="467.2,72.2 478.1,72.2 478.1,77.6" fill="url(#h109)"/>
<polygon points="478.1,77.6 478.1,72.2 489,72.2 489,77.6" fill="url(#h110)"/><polygon points="478.1,72.2 489,72.2 489,77.6" fill="url(#h111)"/>
<polygon points="336.5,72.2 336.5,66.8 347.4,66.8 347.4,72.2" fill="url(#h112)"/><polygon points="336.5,66.8 347.4,66.8 347.4,72.2" fill="url(#h113)"/>
<polygon points="347.4,72.2 347.4,66.8 358.3,66.8 358.3,72.2" fill="url(#h114)"/><polygon points="347.4,66.8 358.3,66.8 358.3,72.2" fill="url(#h115)"/>
<polygon points="358.3,72.2 358.3,66.8 369.2,66.8 369.2,72.2" fill="url(#h116)"/><polygon points="358.3,66.8 369.2,66.8 369.2,72.2" fill="url(#h117)"/>
<polygon points="369.2,72.2 369.2,66.8 380.1,66.8 380.1,72.2" fill="url(#h118)"/><polygon points="369.2,66.8 380.1,66.8 380.1,72.2" fill="url(#h119)"/>
<polygon points="380.1,72.2 380.1,66.8 391,66.8 391,72.2" fill="url(#h120)"/><polygon points="380.1,66.8 391,66.8 391,72.2" fill="url(#h121)"/>
<polygon points="391,72.2 391,66.8 401.9,66.8 401.9,72.2" fill="url(#h122)"/><polygon points="391,66.8 401.9,66.8 401.9,72.2" fill="url(#h123)"/>
<polygon points="401.9,72.2 401.9,66.8 412.8,66.8 412.8,72.2" fill="url(#h124)"/><polygon points="401.9,66.8 412.8,66.8 412.8,72.2" fill="url(#h125)"/>
<polygon points="412.8,72.2 412.8,66.8 423.6,66.8 423.6,72.2" fill="url(#h126)"/><polygon points="412.8,66.8 423.6,66.8 423.6,72.2" fill="url(#h127)"/>
<polygon points="423.6,72.2 423.6,66.8 434.5,66.8 434.5,72.2" fill="url(#h128)"/><polygon points="423.6,66.8 434.5,66.8 434.5,72.2" fill="url(#h129)"/>
<polygon points="434.5,72.2 434.5,66.8 445.4,66.8 445.4,72.2" fill="url(#h130)"/><polygon points="434.5,66.8 445.4,66.8 445.4,72.2" fill="url(#h131)"/>
<polygon points="445.4,72.2 445.4,66.8 456.3,66.8 456.3,72.2" fill="url(#h132)"/><polygon points="445.4,66.8 456.3,66.8 456.3,72.2" fill="url(#h133)"/>
<polygon points="456.3,72.2 456.3,66.8 467.2,66.8 467.2,72.2" fill="url(#h134)"/><polygon points="456.3,66.8 467.2,66.8 467.2,72.2" fill="url(#h135)"/>
<polygon points="467.2,72.2 467.2,66.8 478.1,66.8 478.1,72.2" fill="url(#h136)"/><polygon points="467.2,66.8 478.1,66.8 478.1,72.2" fill="url(#h137)"/>
<polygon points="478.1,72.2 478.1,66.8 489,66.8 489,72.2" fill="url(#h138)"/><polygon points="478.1,66.8 489,66.8 489,72.2" fill="url(#h139)"/>
<polygon points="336.5,66.8 336.5,61.5 347.4,61.5 347.4,66.8" fill="url(#h140)"/><polygon points="336.5,61.5 347.4,61.5 347.4,66.8" fill="url(#h141)"/>
<polygon points="347.4,66.8 347.4,61.5 358.3,61.5 358.3,66.8" fill="url(#h142)"/><polygon points="347.4,61.5 358.3,61.5 358.3,66.8" fill="url(#h143)"/>
<polygon points="358.3,66.8 358.3,61.5 369.2,61.5 369.2,66.8" fill="url(#h144)"/><polygon points="358.3,61.5 369.2,61.5 369.2,66.8" fill="url(#h145)"/>
<polygon points="369.2,66.8 369.2,61.5 380.1,61.5 380.1,66.8" fill="url(#h146)"/><polygon points="369.2,61.5 380.1,61.5 380.1,66.8" fill="url(#h147)"/>
<polygon points="380.1,66.8 380.1,61.5 391,61.5 391,66.8" fill="url(#h148)"/><polygon points="380.1,61.5 391,61.5 391,66.8" fill="url(#h149)"/>
<polygon points="391,66.8 391,61.5 401.9,61.5 401.9,66.8" fill="url(#h150)"/><polygon points="391,61.5 401.9,61.5 401.9,66.8" fill="url(#h151)"/>
<polygon points="401.9,66.8 401.9,61.5 412.8,61.5 412.8,66.8" fill="url(#h152)"/><polygon points="401.9,61.5 412.8,61.5 412.8,66.8" fill="url(#h153)"/>
<polygon points="412.8,66.8 412.8,61.5 423.6,61.5 423.6,66.8" fill="url(#h154)"/><polygon points="412.8,61.5 423.6,61.5 423.6,66.8" fill="url(#h155)"/>
<polygon points="423.6,66.8 423.6,61.5 434.5,61.5 434.5,66.8" fill="url(#h156)"/><polygon points="423.6,61.5 434.5,61.5 434.5,66.8" fill="url(#h157)"/>
<polygon points="434.5,66.8 434.5,61.5 445.4,61.5 445.4,66.8" fill="url(#h158)"/><polygon points="434.5,61.5 445.4,61.5 445.4,66.8" fill="url(#h159)"/>
<polygon points="445.4,66.8 445.4,61.5 456.3,61.5 456.3,66.8" fill="url(#h160)"/><polygon points="445.4,61.5 456.3,61.5 456.3,66.8" fill="url(#h161)"/>
<polygon points="456.3,66.8 456.3,61.5 467.2,61.5 467.2,66.8" fill="url(#h162)"/><polygon points="456.3,61.5 467.2,61.5 467.2,66.8" fill="url(#h163)"/>
<polygon points="467.2,66.8 467.2,61.5 478.1,61.5 478.1,66.8" fill="url(#h164)"/><polygon points="467.2,61.5 478.1,61.5 478.1,66.8" fill="url(#h165)"/>
<polygon points="478.1,66.8 478.1,61.5 489,61.5 489,66.8" fill="#00e5ff"/><polygon points="478.1,61.5 489,61.5 489,66.8" fill="url(#h166)"/>
<polygon points="336.5,61.5 336.5,56.1 347.4,56.1 347.4,61.5" fill="url(#h167)"/><polygon points="336.5,56.1 347.4,56.1 347.4,61.5" fill="url(#h168)"/>
<polygon points="347.4,61.5 347.4,56.1 358.3,56.1 358.3,61.5" fill="url(#h169)"/><polygon points="347.4,56.1 358.3,56.1 358.3,61.5" fill="url(#h170)"/>
<polygon points="358.3,61.5 358.3,56.1 369.2,56.1 369.2,61.5" fill="url(#h171)"/><polygon points="358.3,56.1 369.2,56.1 369.2,61.5" fill="url(#h172)"/>
<polygon points="369.2,61.5 369.2,56.1 380.1,56.1 380.1,61.5" fill="url(#h173)"/><polygon points="369.2,56.1 380.1,56.1 380.1,61.5" fill="url(#h174)"/>
<polygon points="380.1,61.5 380.1,56.1 391,56.1 391,61.5" fill="url(#h175)"/><polygon points="380.1,56.1 391,56.1 391,61.5" fill="url(#h176)"/>
<polygon points="391,61.5 391,56.1 401.9,56.1 401.9,61.5" fill="url(#h177)"/><polygon points="391,56.1 401.9,56.1 401.9,61.5" fill="url(#h178)"/>
<polygon points="401.9,61.5 401.9,56.1 412.8,56.1 412.8,61.5" fill="url(#h179)"/><polygon points="401.9,56.1 412.8,56.1 412.8,61.5" fill="url(#h180)"/>
<polygon points="412.8,61.5 412.8,56.1 423.6,56.1 423.6,61.5" fill="url(#h181)"/><polygon points="412.8,56.1 423.6,56.1 423.6,61.5" fill="url(#h182)"/>
<polygon points="423.6,61.5 423.6,56.1 434.5,56.1 434.5,61.5" fill="url(#h183)"/><polygon points="423.6,56.1 434.5,56.1 434.5,61.5" fill="url(#h184)"/>
<polygon points="434.5,61.5 434.5,56.1 445.4,56.1 445.4,61.5" fill="url(#h185)"/><polygon points="434.5,56.1 445.4,56.1 445.4,61.5" fill="url(#h186)"/>
<polygon points="445.4,61.5 445.4,56.1 456.3,56.1 456.3,61.5" fill="url(#h187)"/><polygon points="445.4,56.1 456.3,56.1 456.3,61.5" fill="url(#h188)"/>
<polygon points="456.3,61.5 456.3,56.1 467.2,56.1 467.2,61.5" fill="url(#h189)"/><polygon points="456.3,56.1 467.2,56.1 467.2,61.5" fill="url(#h190)"/>
<polygon points="467.2,61.5 467.2,56.1 478.1,56.1 478.1,61.5" fill="url(#h191)"/><polygon points="467.2,56.1 478.1,56.1 478.1,61.5" fill="url(#h192)"/>
<polygon points="478.1,61.5 478.1,56.1 489,56.1 489,61.5" fill="url(#h193)"/><polygon points="478.1,56.1 489,56.1 489,61.5" fill="url(#h194)"/>
<polygon points="336.5,56.1 336.5,50.7 347.4,50.7 347.4,56.1" fill="url(#h195)"/><polygon points="336.5,50.7 347.4,50.7 347.4,56.1" fill="url(#h196)"/>
<polygon points="347.4,56.1 347.4,50.7 358.3,50.7 358.3,56.1" fill="url(#h197)"/><polygon points="347.4,50.7 358.3,50.7 358.3,56.1" fill="url(#h198)"/>
<polygon points="358.3,56.1 358.3,50.7 369.2,50.7 369.2,56.1" fill="url(#h199)"/><polygon points="358.3,50.7 369.2,50.7 369.2,56.1" fill="url(#h200)"/>
<polygon points="369.2,56.1 369.2,50.7 380.1,50.7 380.1,56.1" fill="url(#h201)"/><polygon points="369.2,50.7 380.1,50.7 380.1,56.1" fill="url(#h202)"/>
<polygon points="380.1,56.1 380.1,50.7 391,50.7 391,56.1" fill="url(#h203)"/><polygon points="380.1,50.7 391,50.7 391,56.1" fill="url(#h204)"/>
<polygon points="391,56.1 391,50.7 401.9,50.7 401.9,56.1" fill="url(#h205)"/><polygon points="391,50.7 401.9,50.7 401.9,56.1" fill="url(#h206)"/>
<polygon points="401.9,56.1 401.9,50.7 412.8,50.7 412.8,56.1" fill="url(#h207)"/><polygon points="401.9,50.7 412.8,50.7 412.8,56.1" fill="url(#h208)"/>
<polygon points="412.8,56.1 412.8,50.7 423.6,50.7 423.6,56.1" fill="url(#h209)"/><polygon points="412.8,50.7 423.6,50.7 423.6,56.1" fill="url(#h210)"/>
<polygon points="423.6,56.1 423.6,50.7 434.5,50.7 434.5,56.1" fill="url(#h211)"/><polygon points="423.6,50.7 434.5,50.7 434.5,56.1" fill="url(#h212)"/>
<polygon points="434.5,56.1 434.5,50.7 445.4,50.7 445.4,56.1" fill="url(#h213)"/><polygon points="434.5,50.7 445.4,50.7 445.4,56.1" fill="url(#h214)"/>
<polygon points="445.4,56.1 445.4,50.7 456.3,50.7 456.3,56.1" fill="url(#h215)"/><polygon points="445.4,50.7 456.3,50.7 456.3,56.1" fill="url(#h216)"/>
<polygon points="456.3,56.1 456.3,50.7 467.2,50.7 467.2,56.1" fill="url(#h217)"/><polygon points="456.3,50.7 467.2,50.7 467.2,56.1" fill="url(#h218)"/>
<polygon points="467.2,56.1 467.2,50.7 478.1,50.7 478.1,56.1" fill="url(#h219)"/><polygon points="467.2,50.7 478.1,50.7 478.1,56.1" fill="url(#h220)"/>
<polygon points="478.1,56.1 478.1,50.7 489,50.7 489,56.1" fill="url(#h221)"/><polygon points="478.1,50.7 489,50.7 489,56.1" fill="url(#h222)"/>
<polygon points="336.5,50.7 336.5,45.4 347.4,45.4 347.4,50.7" fill="url(#h223)"/><polygon points="336.5,45.4 347.4,45.4 347.4,50.7" fill="url(#h224)"/>
<polygon points="347.4,50.7 347.4,45.4 358.3,45.4 358.3,50.7" fill="url(#h225)"/><polygon points="347.4,45.4 358.3,45.4 358.3,50.7" fill="url(#h226)"/>
<polygon points="358.3,50.7 358.3,45.4 369.2,45.4 369.2,50.7" fill="url(#h227)"/><polygon points="358.3,45.4 369.2,45.4 369.2,50.7" fill="url(#h228)"/>
<polygon points="369.2,50.7 369.2,45.4 380.1,45.4 380.1,50.7" fill="url(#h229)"/><polygon points="369.2,45.4 380.1,45.4 380.1,50.7" fill="url(#h230)"/>
<polygon points="380.1,50.7 380.1,45.4 391,45.4 391,50.7" fill="url(#h231)"/><polygon points="380.1,45.4 391,45.4 391,50.7" fill="url(#h232)"/>
<polygon points="391,50.7 391,45.4 401.9,45.4 401.9,50.7" fill="url(#h233)"/><polygon points="391,45.4 401.9,45.4 401.9,50.7" fill="url(#h234)"/>
<polygon points="401.9,50.7 401.9,45.4 412.8,45.4 412.8,50.7" fill="url(#h235)"/><polygon points="401.9,45.4 412.8,45.4 412.8,50.7" fill="url(#h236)"/>
<polygon points="412.8,50.7 412.8,45.4 423.6,45.4 423.6,50.7" fill="url(#h237)"/><polygon points="412.8,45.4 423.6,45.4 423.6,50.7" fill="url(#h238)"/>
<polygon points="423.6,50.7 423.6,45.4 434.5,45.4 434.5,50.7" fill="url(#h239)"/><polygon points="423.6,45.4 434.5,45.4 434.5,50.7" fill="url(#h240)"/>
<polygon points="434.5,50.7 434.5,45.4 445.4,45.4 445.4,50.7" fill="url(#h241)"/><polygon points="434.5,45.4 445.4,45.4 445.4,50.7" fill="url(#h242)"/>
<polygon points="445.4,50.7 445.4,45.4 456.3,45.4 456.3,50.7" fill="url(#h243)"/><polygon points="445.4,45.4 456.3,45.4 456.3,50.7" fill="url(#h244)"/>
<polygon points="456.3,50.7 456.3,45.4 467.2,45.4 467.2,50.7" fill="url(#h245)"/><polygon points="456.3,45.4 467.2,45.4 467.2,50.7" fill="url(#h246)"/>
<polygon points="467.2,50.7 467.2,45.4 478.1,45.4 478.1,50.7" fill="url(#h247)"/><polygon points="467.2,45.4 478.1,45.4 478.1,50.7" fill="url(#h248)"/>
<polygon points="478.1,50.7 478.1,45.4 489,45.4 489,50.7" fill="url(#h249)"/><polygon points="478.1,45.4 489,45.4 489,50.7" fill="url(#h250)"/>
<polygon points="336.5,45.4 336.5,40 347.4,40 347.4,45.4" fill="url(#h251)"/><polygon points="336.5,40 347.4,40 347.4,45.4" fill="url(#h252)"/>
<polygon points="347.4,45.4 347.4,40 358.3,40 358.3,45.4" fill="url(#h253)"/><polygon points="347.4,40 358.3,40 358.3,45.4" fill="url(#h254)"/>
<polygon points="358.3,45.4 358.3,40 369.2,40 369.2,45.4" fill="url(#h255)"/><polygon points="358.3,40 369.2,40 369.2,45.4" fill="url(#h256)"/>
<polygon points="369.2,45.4 369.2,40 380.1,40 380.1,45.4" fill="url(#h257)"/><polygon points="369.2,40 380.1,40 380.1,45.4" fill="url(#h258)"/>
<polygon points="380.1,45.4 380.1,40 391,40 391,45.4" fill="url(#h259)"/><polygon points="380.1,40 391,40 391,45.4" fill="url(#h260)"/>
<polygon points="391,45.4 391,40 401.9,40 401.9,45.4" fill="url(#h261)"/><polygon points="391,40 401.9,40 401.9,45.4" fill="url(#h262)"/>
<polygon points="401.9,45.4 401.9,40 412.8,40 412.8,45.4" fill="url(#h263)"/><polygon points="401.9,40 412.8,40 412.8,45.4" fill="url(#h264)"/>
<polygon points="412.8,45.4 412.8,40 423.6,40 423.6,45.4" fill="url(#h265)"/><polygon points="412.8,40 423.6,40 423.6,45.4" fill="url(#h266)"/>
<polygon points="423.6,45.4 423.6,40 434.5,40 434.5,45.4" fill="url(#h267)"/><polygon points="423.6,40 434.5,40 434.5,45.4" fill="url(#h268)"/>
<polygon points="434.5,45.4 434.5,40 445.4,40 445.4,45.4" fill="url(#h269)"/><polygon points="434.5,40 445.4,40 445.4,45.4" fill="url(#h270)"/>
<polygon points="445.4,45.4 445.4,40 456.3,40 456.3,45.4" fill="url(#h271)"/><polygon points="445.4,40 456.3,40 456.3,45.4" fill="url(#h272)"/>
<polygon points="456.3,45.4 456.3,40 467.2,40 467.2,45.4" fill="url(#h273)"/><polygon points="456.3,40 467.2,40 467.2,45.4" fill="url(#h274)"/>
<polygon points="467.2,45.4 467.2,40 478.1,40 478.1,45.4" fill="url(#h275)"/><polygon points="467.2,40 478.1,40 478.1,45.4" fill="url(#h276)"/>
<polygon points="478.1,45.4 478.1,40 489,40 489,45.4" fill="url(#h277)"/><polygon points="478.1,40 489,40 489,45.4" fill="url(#h278)"/>
<polygon points="336.5,40 336.5,34.6 347.4,34.6 347.4,40" fill="url(#h279)"/><polygon points="336.5,34.6 347.4,34.6 347.4,40" fill="url(#h280)"/>
<polygon points="347.4,40 347.4,34.6 358.3,34.6 358.3,40" fill="url(#h281)"/><polygon points="347.4,34.6 358.3,34.6 358.3,40" fill="url(#h282)"/>
<polygon points="358.3,40 358.3,34.6 369.2,34.6 369.2,40" fill="url(#h283)"/><polygon points="358.3,34.6 369.2,34.6 369.2,40" fill="url(#h284)"/>
<polygon points="369.2,40 369.2,34.6 380.1,34.6 380.1,40" fill="url(#h285)"/><polygon points="369.2,34.6 380.1,34.6 380.1,40" fill="url(#h286)"/>
<polygon points="380.1,40 380.1,34.6 391,34.6 391,40" fill="url(#h287)"/><polygon points="380.1,34.6 391,34.6 391,40" fill="url(#h288)"/>
<polygon points="391,40 391,34.6 401.9,34.6 401.9,40" fill="url(#h289)"/><polygon points="391,34.6 401.9,34.6 401.9,40" fill="url(#h290)"/>
<polygon points="401.9,40 401.9,34.6 412.8,34.6 412.8,40" fill="url(#h291)"/><polygon points="401.9,34.6 412.8,34.6 412.8,40" fill="url(#h292)"/>
<polygon points="412.8,40 412.8,34.6 423.6,34.6 423.6,40" fill="url(#h293)"/><polygon points="412.8,34.6 423.6,34.6 423.6,40" fill="url(#h294)"/>
<polygon points="423.6,40 423.6,34.6 434.5,34.6 434.5,40" fill="url(#h295)"/><polygon points="423.6,34.6 434.5,34.6 434.5,40" fill="url(#h296)"/>
<polygon points="434.5,40 434.5,34.6 445.4,34.6 445.4,40" fill="url(#h297)"/><polygon points="434.5,34.6 445.4,34.6 445.4,40" fill="url(#h298)"/>
<polygon points="445.4,40 445.4,34.6 456.3,34.6 456.3,40" fill="url(#h299)"/><polygon points="445.4,34.6 456.3,34.6 456.3,40" fill="url(#h300)"/>
<polygon points="456.3,40 456.3,34.6 467.2,34.6 467.2,40" fill="url(#h301)"/><polygon points="456.3,34.6 467.2,34.6 467.2,40" fill="url(#h302)"/>
<polygon points="467.2,40 467.2,34.6 478.1,34.6 478.1,40" fill="url(#h303)"/><polygon points="467.2,34.6 478.1,34.6 478.1,40" fill="url(#h304)"/>
<polygon points="478.1,40 478.1,34.6 489,34.6 489,40" fill="url(#h305)"/><polygon points="478.1,34.6 489,34.6 489,40" fill="url(#h306)"/>
<polygon points="336.5,34.6 336.5,29.2 347.4,29.2 347.4,34.6" fill="url(#h307)"/><polygon points="336.5,29.2 347.4,29.2 347.4,34.6" fill="url(#h308)"/>
<polygon points="347.4,34.6 347.4,29.2 358.3,29.2 358.3,34.6" fill="url(#h309)"/><polygon points="347.4,29.2 358.3,29.2 358.3,34.6" fill="url(#h310)"/>
<polygon points="358.3,34.6 358.3,29.2 369.2,29.2 369.2,34.6" fill="url(#h311)"/><polygon points="358.3,29.2 369.2,29.2 369.2,34.6" fill="url(#h312)"/>
<polygon points="369.2,34.6 369.2,29.2 380.1,29.2 380.1,34.6" fill="url(#h313)"/><polygon points="369.2,29.2 380.1,29.2 380.1,34.6" fill="url(#h314)"/>
<polygon points="380.1,34.6 380.1,29.2 391,29.2 391,34.6" fill="url(#h315)"/><polygon points="380.1,29.2 391,29.2 391,34.6" fill="url(#h316)"/>
<polygon points="391,34.6 391,29.2 401.9,29.2 401.9,34.6" fill="url(#h317)"/><polygon points="391,29.2 401.9,29.2 401.9,34.6" fill="url(#h318)"/>
<polygon points="401.9,34.6 401.9,29.2 412.8,29.2 412.8,34.6" fill="url(#h319)"/><polygon points="401.9,29.2 412.8,29.2 412.8,34.6" fill="url(#h320)"/>
<polygon points="412.8,34.6 412.8,29.2 423.6,29.2 423.6,34.6" fill="url(#h321)"/><polygon points="412.8,29.2 423.6,29.2 423.6,34.6" fill="url(#h322)"/>
<polygon points="423.6,34.6 423.6,29.2 434.5,29.2 434.5,34.6" fill="url(#h323)"/><polygon points="423.6,29.2 434.5,29.2 434.5,34.6" fill="url(#h324)"/>
<polygon points="434.5,34.6 434.5,29.2 445.4,29.2 445.4,34.6" fill="url(#h325)"/><polygon points="434.5,29.2 445.4,29.2 445.4,34.6" fill="url(#h326)"/>
<polygon points="445.4,34.6 445.4,29.2 456.3,29.2 456.3,34.6" fill="url(#h327)"/><polygon points="445.4,29.2 456.3,29.2 456.3,34.6" fill="url(#h328)"/>
<polygon points="456.3,34.6 456.3,29.2 467.2,29.2 467.2,34.6" fill="url(#h329)"/><polygon points="456.3,29.2 467.2,29.2 467.2,34.6" fill="url(#h330)"/>
<polygon points="467.2,34.6 467.2,29.2 478.1,29.2 478.1,34.6" fill="url(#h331)"/><polygon points="467.2,29.2 478.1,29.2 478.1,34.6" fill="url(#h332)"/>
<polygon points="478.1,34.6 478.1,29.2 489,29.2 489,34.6" fill="url(#h333)"/><polygon points="478.1,29.2 489,29.2 489,34.6" fill="url(#h334)"/>
<polygon points="336.5,29.2 336.5,23.9 347.4,23.9 347.4,29.2" fill="url(#h335)"/><polygon points="336.5,23.9 347.4,23.9 347.4,29.2" fill="url(#h336)"/>
<polygon points="347.4,29.2 347.4,23.9 358.3,23.9 358.3,29.2" fill="url(#h337)"/><polygon points="347.4,23.9 358.3,23.9 358.3,29.2" fill="url(#h338)"/>
<polygon points="358.3,29.2 358.3,23.9 369.2,23.9 369.2,29.2" fill="url(#h339)"/><polygon points="358.3,23.9 369.2,23.9 369.2,29.2" fill="url(#h340)"/>
<polygon points="369.2,29.2 369.2,23.9 380.1,23.9 380.1,29.2" fill="url(#h341)"/><polygon points="369.2,23.9 380.1,23.9 380.1,29.2" fill="url(#h342)"/>
<polygon points="380.1,29.2 380.1,23.9 391,23.9 391,29.2" fill="url(#h343)"/><polygon points="380.1,23.9 391,23.9 391,29.2" fill="url(#h344)"/>
<polygon points="391,29.2 391,23.9 401.9,23.9 401.9,29.2" fill="url(#h345)"/><polygon points="391,23.9 401.9,23.9 401.9,29.2" fill="url(#h346)"/>
<polygon points="401.9,29.2 401.9,23.9 412.8,23.9 412.8,29.2" fill="url(#h347)"/><polygon points="401.9,23.9 412.8,23.9 412.8,29.2" fill="url(#h348)"/>
<polygon points="412.8,29.2 412.8,23.9 423.6,23.9 423.6,29.2" fill="url(#h349)"/><polygon points="412.8,23.9 423.6,23.9 423.6,29.2" fill="url(#h350)"/>
<polygon points="423.6,29.2 423.6,23.9 434.5,23.9 434.5,29.2" fill="url(#h351)"/><polygon points="423.6,23.9 434.5,23.9 434.5,29.2" fill="url(#h352)"/>
<polygon points="434.5,29.2 434.5,23.9 445.4,23.9 445.4,29.2" fill="url(#h353)"/><polygon points="434.5,23.9 445.4,23.9 445.4,29.2" fill="url(#h354)"/>
<polygon points="445.4,29.2 445.4,23.9 456.3,23.9 456.3,29.2" fill="url(#h355)"/><polygon points="445.4,23.9 456.3,23.9 456.3,29.2" fill="url(#h356)"/>
<polygon points="456.3,29.2 456.3,23.9 467.2,23.9 467.2,29.2" fill="url(#h357)"/><polygon points="456.3,23.9 467.2,23.9 467.2,29.2" fill="url(#h358)"/>
<polygon points="467.2,29.2 467.2,23.9 478.1,23.9 478.1,29.2" fill="url(#h359)"/><polygon points="467.2,23.9 478.1,23.9 478.1,29.2" fill="url(#h360)"/>
<polygon points="478.1,29.2 478.1,23.9 489,23.9 489,29.2" fill="url(#h361)"/><polygon points="478.1,23.9 489,23.9 489,29.2" fill="url(#h362)"/>
<polygon points="336.5,23.9 336.5,18.5 347.4,18.5 347.4,23.9" fill="url(#h363)"/><polygon points="336.5,18.5 347.4,18.5 347.4,23.9" fill="url(#h364)"/>
<polygon points="347.4,23.9 347.4,18.5 358.3,18.5 358.3,23.9" fill="url(#h365)"/><polygon points="347.4,18.5 358.3,18.5 358.3,23.9" fill="url(#h366)"/>
<polygon points="358.3,23.9 358.3,18.5 369.2,18.5 369.2,23.9" fill="url(#h367)"/><polygon points="358.3,18.5 369.2,18.5 369.2,23.9" fill="url(#h368)"/>
<polygon points="369.2,23.9 369.2,18.5 380.1,18.5 380.1,23.9" fill="url(#h369)"/><polygon points="369.2,18.5 380.1,18.5 380.1,23.9" fill="url(#h370)"/>
<polygon points="380.1,23.9 380.1,18.5 391,18.5 391,23.9" fill="url(#h371)"/><polygon points="380.1,18.5 391,18.5 391,23.9" fill="url(#h372)"/>
<polygon points="391,23.9 391,18.5 401.9,18.5 401.9,23.9" fill="url(#h373)"/><polygon points="391,18.5 401.9,18.5 401.9,23.9" fill="url(#h374)"/>
<polygon points="401.9,23.9 401.9,18.5 412.8,18.5 412.8,23.9" fill="url(#h375)"/><polygon points="401.9,18.5 412.8,18.5 412.8,23.9" fill="url(#h376)"/>
<polygon points="412.8,23.9 412.8,18.5 423.6,18.5 423.6,23.9" fill="url(#h377)"/><polygon points="412.8,18.5 423.6,18.5 423.6,23.9" fill="url(#h378)"/>
<polygon points="423.6,23.9 423.6,18.5 434.5,18.5 434.5,23.9" fill="url(#h379)"/><polygon points="423.6,18.5 434.5,18.5 434.5,23.9" fill="url(#h380)"/>
<polygon points="434.5,23.9 434.5,18.5 445.4,18.5 445.4,23.9" fill="url(#h381)"/><polygon points="434.5,18.5 445.4,18.5 445.4,23.9" fill="url(#h382)"/>
<polygon points="445.4,23.9 445.4,18.5 456.3,18.5 456.3,23.9" fill="url(#h383)"/><polygon points="445.4,18.5 456.3,18.5 456.3,23.9" fill="url(#h384)"/>
<polygon points="456.3,23.9 456.3,18.5 467.2,18.5 467.2,23.9" fill="url(#h385)"/><polygon points="456.3,18.5 467.2,18.5 467.2,23.9" fill="url(#h386)"/>
<polygon points="467.2,23.9 467.2,18.5 478.1,18.5 478.1,23.9" fill="url(#h387)"/><polygon points="467.2,18.5 478.1,18.5 478.1,23.9" fill="url(#h388)"/>
<polygon points="478.1,23.9 478.1,18.5 489,18.5 489,23.9" fill="url(#h389)"/><polygon points="478.1,18.5 489,18.5 489,23.9" fill="url(#h390)"/>
<path d="M336.5 93.7V18.5M347.4 93.7V18.5M358.3 93.7V18.5M369.2 93.7V18.5M380.1 93.7V18.5M391 93.7V18.5M401.9 93.7V18.5M412.8 93.7V18.5M423.6 93.7V18.5M434.5 93.7V18.5M445.4 93.7V18.5M456.3 93.7V18.5M467.2 93.7V18.5M478.1 93.7V18.5M489 93.7V18.5M336.5 93.7H489M336.5 88.3H489M336.5 83H489M336.5 77.6H489M336.5 72.2H489M336.5 66.8H489M336.5 61.5H489M336.5 56.1H489M336.5 50.7H489M336.5 45.4H489M336.5 40H489M336.5 34.6H489M336.5 29.2H489M336.5 23.9H489M336.5 18.5H489" fill="none" stroke="#000" stroke-width="0.45" stroke-opacity="0.65"/>

<line x1="390.9" y1="129.5" x2="390.9" y2="211.4" stroke="#e2e2e2" stroke-width="0.6" fill="none"/>
<line x1="445.1" y1="129.5" x2="445.1" y2="211.4" stroke="#e2e2e2" stroke-width="0.6" fill="none"/>
<line x1="488.5" y1="129.5" x2="488.5" y2="211.4" stroke="#e2e2e2" stroke-width="0.6" fill="none"/>
<line x1="336.6" y1="195" x2="488.5" y2="195" stroke="#e2e2e2" stroke-width="0.6" fill="none"/>
<line x1="336.6" y1="178.6" x2="488.5" y2="178.6" stroke="#e2e2e2" stroke-width="0.6" fill="none"/>
<line x1="336.6" y1="162.3" x2="488.5" y2="162.3" stroke="#e2e2e2" stroke-width="0.6" fill="none"/>
<line x1="336.6" y1="145.9" x2="488.5" y2="145.9" stroke="#e2e2e2" stroke-width="0.6" fill="none"/>
<line x1="336.6" y1="129.5" x2="488.5" y2="129.5" stroke="#e2e2e2" stroke-width="0.6" fill="none"/>
<linearGradient id="sv" gradientUnits="userSpaceOnUse" x1="0" y1="211.4" x2="0" y2="145.9"><stop offset="0" stop-color="#000080"/><stop offset=".125" stop-color="#0000ff"/><stop offset=".375" stop-color="#00ffff"/><stop offset=".625" stop-color="#ffff00"/><stop offset=".875" stop-color="#ff0000"/><stop offset="1" stop-color="#800000"/></linearGradient>
<clipPath id="svc"><rect x="336.6" y="124.5" width="151.9" height="86.9"/></clipPath><g clip-path="url(#svc)">
<polygon points="490.7,209.7 479.8,203.4 479.8,202.4 490.7,213" fill="url(#sv)" stroke="#000" stroke-width="0.4" stroke-opacity="0.55"/>
<polygon points="479.8,203.4 469,201.8 469,203.4 479.8,202.4" fill="url(#sv)" stroke="#000" stroke-width="0.4" stroke-opacity="0.55"/>
<polygon points="469,201.8 458.1,203.4 458.1,201.6 469,203.4" fill="url(#sv)" stroke="#000" stroke-width="0.4" stroke-opacity="0.55"/>
<polygon points="458.1,203.4 447.3,199.1 447.3,195.4 458.1,201.6" fill="url(#sv)" stroke="#000" stroke-width="0.4" stroke-opacity="0.55"/>
<polygon points="447.3,199.1 436.4,195.3 436.4,195.3 447.3,195.4" fill="url(#sv)" stroke="#000" stroke-width="0.4" stroke-opacity="0.55"/>
<polygon points="436.4,195.3 425.6,184.9 425.6,186.3 436.4,195.3" fill="url(#sv)" stroke="#000" stroke-width="0.4" stroke-opacity="0.55"/>
<polygon points="425.6,184.9 414.7,178.6 414.7,180.1 425.6,186.3" fill="url(#sv)" stroke="#000" stroke-width="0.4" stroke-opacity="0.55"/>
<polygon points="414.7,178.6 403.9,178.2 403.9,185.8 414.7,180.1" fill="url(#sv)" stroke="#000" stroke-width="0.4" stroke-opacity="0.55"/>
<polygon points="403.9,178.2 393,175 393,180.5 403.9,185.8" fill="url(#sv)" stroke="#000" stroke-width="0.4" stroke-opacity="0.55"/>
<polygon points="393,175 382.2,178.7 382.2,182.6 393,180.5" fill="url(#sv)" stroke="#000" stroke-width="0.4" stroke-opacity="0.55"/>
<polygon points="382.2,178.7 371.3,175.3 371.3,175.3 382.2,182.6" fill="url(#sv)" stroke="#000" stroke-width="0.4" stroke-opacity="0.55"/>
<polygon points="371.3,175.3 360.5,170.2 360.5,171.4 371.3,175.3" fill="url(#sv)" stroke="#000" stroke-width="0.4" stroke-opacity="0.55"/>
<polygon points="360.5,170.2 349.6,170.3 349.6,171.4 360.5,171.4" fill="url(#sv)" stroke="#000" stroke-width="0.4" stroke-opacity="0.55"/>
<polygon points="349.6,170.3 338.8,170.1 338.8,171.4 349.6,171.4" fill="url(#sv)" stroke="#000" stroke-width="0.4" stroke-opacity="0.55"/>
<polygon points="490.7,205.3 479.8,198.7 479.8,203.4 490.7,209.7" fill="url(#sv)" stroke="#000" stroke-width="0.4" stroke-opacity="0.55"/>
<polygon points="479.8,198.7 469,196.2 469,201.8 479.8,203.4" fill="url(#sv)" stroke="#000" stroke-width="0.4" stroke-opacity="0.55"/>
<polygon points="469,196.2 458.1,192.9 458.1,203.4 469,201.8" fill="url(#sv)" stroke="#000" stroke-width="0.4" stroke-opacity="0.55"/>
<polygon points="458.1,192.9 447.3,193.6 447.3,199.1 458.1,203.4" fill="url(#sv)" stroke="#000" stroke-width="0.4" stroke-opacity="0.55"/>
<polygon points="447.3,193.6 436.4,193 436.4,195.3 447.3,199.1" fill="url(#sv)" stroke="#000" stroke-width="0.4" stroke-opacity="0.55"/>
<polygon points="436.4,193 425.6,183.5 425.6,184.9 436.4,195.3" fill="url(#sv)" stroke="#000" stroke-width="0.4" stroke-opacity="0.55"/>
<polygon points="425.6,183.5 414.7,175.4 414.7,178.6 425.6,184.9" fill="url(#sv)" stroke="#000" stroke-width="0.4" stroke-opacity="0.55"/>
<polygon points="414.7,175.4 403.9,174.5 403.9,178.2 414.7,178.6" fill="url(#sv)" stroke="#000" stroke-width="0.4" stroke-opacity="0.55"/>
<polygon points="403.9,174.5 393,167.6 393,175 403.9,178.2" fill="url(#sv)" stroke="#000" stroke-width="0.4" stroke-opacity="0.55"/>
<polygon points="393,167.6 382.2,174.9 382.2,178.7 393,175" fill="url(#sv)" stroke="#000" stroke-width="0.4" stroke-opacity="0.55"/>
<polygon points="382.2,174.9 371.3,177 371.3,175.3 382.2,178.7" fill="url(#sv)" stroke="#000" stroke-width="0.4" stroke-opacity="0.55"/>
<polygon points="371.3,177 360.5,167.8 360.5,170.2 371.3,175.3" fill="url(#sv)" stroke="#000" stroke-width="0.4" stroke-opacity="0.55"/>
<polygon points="360.5,167.8 349.6,165.6 349.6,170.3 360.5,170.2" fill="url(#sv)" stroke="#000" stroke-width="0.4" stroke-opacity="0.55"/>
<polygon points="349.6,165.6 338.8,166.1 338.8,170.1 349.6,170.3" fill="url(#sv)" stroke="#000" stroke-width="0.4" stroke-opacity="0.55"/>
<polygon points="490.7,199.7 479.8,194.1 479.8,198.7 490.7,205.3" fill="url(#sv)" stroke="#000" stroke-width="0.4" stroke-opacity="0.55"/>
<polygon points="479.8,194.1 469,190.6 469,196.2 479.8,198.7" fill="url(#sv)" stroke="#000" stroke-width="0.4" stroke-opacity="0.55"/>
<polygon points="469,190.6 458.1,189.5 458.1,192.9 469,196.2" fill="url(#sv)" stroke="#000" stroke-width="0.4" stroke-opacity="0.55"/>
<polygon points="458.1,189.5 447.3,188.1 447.3,193.6 458.1,192.9" fill="url(#sv)" stroke="#000" stroke-width="0.4" stroke-opacity="0.55"/>
<polygon points="447.3,188.1 436.4,193 436.4,193 447.3,193.6" fill="url(#sv)" stroke="#000" stroke-width="0.4" stroke-opacity="0.55"/>
<polygon points="436.4,193 425.6,180.6 425.6,183.5 436.4,193" fill="url(#sv)" stroke="#000" stroke-width="0.4" stroke-opacity="0.55"/>
<polygon points="425.6,180.6 414.7,165.9 414.7,175.4 425.6,183.5" fill="url(#sv)" stroke="#000" stroke-width="0.4" stroke-opacity="0.55"/>
<polygon points="414.7,165.9 403.9,170.7 403.9,174.5 414.7,175.4" fill="url(#sv)" stroke="#000" stroke-width="0.4" stroke-opacity="0.55"/>
<polygon points="403.9,170.7 393,162.1 393,167.6 403.9,174.5" fill="url(#sv)" stroke="#000" stroke-width="0.4" stroke-opacity="0.55"/>
<polygon points="393,162.1 382.2,172.9 382.2,174.9 393,167.6" fill="url(#sv)" stroke="#000" stroke-width="0.4" stroke-opacity="0.55"/>
<polygon points="382.2,172.9 371.3,168.7 371.3,177 382.2,174.9" fill="url(#sv)" stroke="#000" stroke-width="0.4" stroke-opacity="0.55"/>
<polygon points="371.3,168.7 360.5,153.4 360.5,167.8 371.3,177" fill="url(#sv)" stroke="#000" stroke-width="0.4" stroke-opacity="0.55"/>
<polygon points="360.5,153.4 349.6,159.9 349.6,165.6 360.5,167.8" fill="url(#sv)" stroke="#000" stroke-width="0.4" stroke-opacity="0.55"/>
<polygon points="349.6,159.9 338.8,163.4 338.8,166.1 349.6,165.6" fill="url(#sv)" stroke="#000" stroke-width="0.4" stroke-opacity="0.55"/>
<polygon points="490.7,194.1 479.8,188.5 479.8,194.1 490.7,199.7" fill="url(#sv)" stroke="#000" stroke-width="0.4" stroke-opacity="0.55"/>
<polygon points="479.8,188.5 469,189.1 469,190.6 479.8,194.1" fill="url(#sv)" stroke="#000" stroke-width="0.4" stroke-opacity="0.55"/>
<polygon points="469,189.1 458.1,187.7 458.1,189.5 469,190.6" fill="url(#sv)" stroke="#000" stroke-width="0.4" stroke-opacity="0.55"/>
<polygon points="458.1,187.7 447.3,188.1 447.3,188.1 458.1,189.5" fill="url(#sv)" stroke="#000" stroke-width="0.4" stroke-opacity="0.55"/>
<polygon points="447.3,188.1 436.4,195.3 436.4,193 447.3,188.1" fill="url(#sv)" stroke="#000" stroke-width="0.4" stroke-opacity="0.55"/>
<polygon points="436.4,195.3 425.6,182.1 425.6,180.6 436.4,193" fill="url(#sv)" stroke="#000" stroke-width="0.4" stroke-opacity="0.55"/>
<polygon points="425.6,182.1 414.7,169.1 414.7,165.9 425.6,180.6" fill="url(#sv)" stroke="#000" stroke-width="0.4" stroke-opacity="0.55"/>
<polygon points="414.7,169.1 403.9,180.1 403.9,170.7 414.7,165.9" fill="url(#sv)" stroke="#000" stroke-width="0.4" stroke-opacity="0.55"/>
<polygon points="403.9,180.1 393,163.9 393,162.1 403.9,170.7" fill="url(#sv)" stroke="#000" stroke-width="0.4" stroke-opacity="0.55"/>
<polygon points="393,163.9 382.2,165.2 382.2,172.9 393,162.1" fill="url(#sv)" stroke="#000" stroke-width="0.4" stroke-opacity="0.55"/>
<polygon points="382.2,165.2 371.3,172 371.3,168.7 382.2,172.9" fill="url(#sv)" stroke="#000" stroke-width="0.4" stroke-opacity="0.55"/>
<polygon points="371.3,172 360.5,158.2 360.5,153.4 371.3,168.7" fill="url(#sv)" stroke="#000" stroke-width="0.4" stroke-opacity="0.55"/>
<polygon points="360.5,158.2 349.6,157.5 349.6,159.9 360.5,153.4" fill="url(#sv)" stroke="#000" stroke-width="0.4" stroke-opacity="0.55"/>
<polygon points="349.6,157.5 338.8,155.3 338.8,163.4 349.6,159.9" fill="url(#sv)" stroke="#000" stroke-width="0.4" stroke-opacity="0.55"/>
<polygon points="490.7,189.7 479.8,186.6 479.8,188.5 490.7,194.1" fill="url(#sv)" stroke="#000" stroke-width="0.4" stroke-opacity="0.55"/>
<polygon points="479.8,186.6 469,187.5 469,189.1 479.8,188.5" fill="url(#sv)" stroke="#000" stroke-width="0.4" stroke-opacity="0.55"/>
<polygon points="469,187.5 458.1,186 458.1,187.7 469,189.1" fill="url(#sv)" stroke="#000" stroke-width="0.4" stroke-opacity="0.55"/>
<polygon points="458.1,186 447.3,186.3 447.3,188.1 458.1,187.7" fill="url(#sv)" stroke="#000" stroke-width="0.4" stroke-opacity="0.55"/>
<polygon points="447.3,186.3 436.4,193 436.4,195.3 447.3,188.1" fill="url(#sv)" stroke="#000" stroke-width="0.4" stroke-opacity="0.55"/>
<polygon points="436.4,193 425.6,184.9 425.6,182.1 436.4,195.3" fill="url(#sv)" stroke="#000" stroke-width="0.4" stroke-opacity="0.55"/>
<polygon points="425.6,184.9 414.7,178.6 414.7,169.1 425.6,182.1" fill="url(#sv)" stroke="#000" stroke-width="0.4" stroke-opacity="0.55"/>
<polygon points="414.7,178.6 403.9,185.8 403.9,180.1 414.7,169.1" fill="url(#sv)" stroke="#000" stroke-width="0.4" stroke-opacity="0.55"/>
<polygon points="403.9,185.8 393,165.7 393,163.9 403.9,180.1" fill="url(#sv)" stroke="#000" stroke-width="0.4" stroke-opacity="0.55"/>
<polygon points="393,165.7 382.2,150.8 382.2,165.2 393,163.9" fill="url(#sv)" stroke="#000" stroke-width="0.4" stroke-opacity="0.55"/>
<polygon points="382.2,150.8 371.3,152.1 371.3,172 382.2,165.2" fill="url(#sv)" stroke="#000" stroke-width="0.4" stroke-opacity="0.55"/>
<polygon points="371.3,152.1 360.5,144.6 360.5,158.2 371.3,172" fill="url(#sv)" stroke="#000" stroke-width="0.4" stroke-opacity="0.55"/>
<polygon points="360.5,144.6 349.6,144.6 349.6,157.5 360.5,158.2" fill="url(#sv)" stroke="#000" stroke-width="0.4" stroke-opacity="0.55"/>
<polygon points="349.6,144.6 338.8,149.9 338.8,155.3 349.6,157.5" fill="url(#sv)" stroke="#000" stroke-width="0.4" stroke-opacity="0.55"/>
<polygon points="490.7,185.3 479.8,182.9 479.8,186.6 490.7,189.7" fill="url(#sv)" stroke="#000" stroke-width="0.4" stroke-opacity="0.55"/>
<polygon points="479.8,182.9 469,185.9 469,187.5 479.8,186.6" fill="url(#sv)" stroke="#000" stroke-width="0.4" stroke-opacity="0.55"/>
<polygon points="469,185.9 458.1,182.5 458.1,186 469,187.5" fill="url(#sv)" stroke="#000" stroke-width="0.4" stroke-opacity="0.55"/>
<polygon points="458.1,182.5 447.3,173.4 447.3,186.3 458.1,186" fill="url(#sv)" stroke="#000" stroke-width="0.4" stroke-opacity="0.55"/>
<polygon points="447.3,173.4 436.4,190.6 436.4,193 447.3,186.3" fill="url(#sv)" stroke="#000" stroke-width="0.4" stroke-opacity="0.55"/>
<polygon points="436.4,190.6 425.6,189.1 425.6,184.9 436.4,193" fill="url(#sv)" stroke="#000" stroke-width="0.4" stroke-opacity="0.55"/>
<polygon points="425.6,189.1 414.7,180.1 414.7,178.6 425.6,184.9" fill="url(#sv)" stroke="#000" stroke-width="0.4" stroke-opacity="0.55"/>
<polygon points="414.7,180.1 403.9,187.7 403.9,185.8 414.7,178.6" fill="url(#sv)" stroke="#000" stroke-width="0.4" stroke-opacity="0.55"/>
<polygon points="403.9,187.7 393,175 393,165.7 403.9,185.8" fill="url(#sv)" stroke="#000" stroke-width="0.4" stroke-opacity="0.55"/>
<polygon points="393,175 382.2,160.4 382.2,150.8 393,165.7" fill="url(#sv)" stroke="#000" stroke-width="0.4" stroke-opacity="0.55"/>
<polygon points="382.2,160.4 371.3,157.1 371.3,152.1 382.2,150.8" fill="url(#sv)" stroke="#000" stroke-width="0.4" stroke-opacity="0.55"/>
<polygon points="371.3,157.1 360.5,144.6 360.5,144.6 371.3,152.1" fill="url(#sv)" stroke="#000" stroke-width="0.4" stroke-opacity="0.55"/>
<polygon points="360.5,144.6 349.6,144.6 349.6,144.6 360.5,144.6" fill="url(#sv)" stroke="#000" stroke-width="0.4" stroke-opacity="0.55"/>
<polygon points="349.6,144.6 338.8,147.3 338.8,149.9 349.6,144.6" fill="url(#sv)" stroke="#000" stroke-width="0.4" stroke-opacity="0.55"/>
<polygon points="490.7,187.5 479.8,182.9 479.8,182.9 490.7,185.3" fill="url(#sv)" stroke="#000" stroke-width="0.4" stroke-opacity="0.55"/>
<polygon points="479.8,182.9 469,185.9 469,185.9 479.8,182.9" fill="url(#sv)" stroke="#000" stroke-width="0.4" stroke-opacity="0.55"/>
<polygon points="469,185.9 458.1,185.1 458.1,182.5 469,185.9" fill="url(#sv)" stroke="#000" stroke-width="0.4" stroke-opacity="0.55"/>
<polygon points="458.1,185.1 447.3,185.3 447.3,173.4 458.1,182.5" fill="url(#sv)" stroke="#000" stroke-width="0.4" stroke-opacity="0.55"/>
<polygon points="447.3,185.3 436.4,195.3 436.4,190.6 447.3,173.4" fill="url(#sv)" stroke="#000" stroke-width="0.4" stroke-opacity="0.55"/>
<polygon points="436.4,195.3 425.6,192.7 425.6,189.1 436.4,190.6" fill="url(#sv)" stroke="#000" stroke-width="0.4" stroke-opacity="0.55"/>
<polygon points="425.6,192.7 414.7,184.9 414.7,180.1 425.6,189.1" fill="url(#sv)" stroke="#000" stroke-width="0.4" stroke-opacity="0.55"/>
<polygon points="414.7,184.9 403.9,188.7 403.9,187.7 414.7,180.1" fill="url(#sv)" stroke="#000" stroke-width="0.4" stroke-opacity="0.55"/>
<polygon points="403.9,188.7 393,184.2 393,175 403.9,187.7" fill="url(#sv)" stroke="#000" stroke-width="0.4" stroke-opacity="0.55"/>
<polygon points="393,184.2 382.2,174.9 382.2,160.4 393,175" fill="url(#sv)" stroke="#000" stroke-width="0.4" stroke-opacity="0.55"/>
<polygon points="382.2,174.9 371.3,160.4 371.3,157.1 382.2,160.4" fill="url(#sv)" stroke="#000" stroke-width="0.4" stroke-opacity="0.55"/>
<polygon points="371.3,160.4 360.5,146.2 360.5,144.6 371.3,157.1" fill="url(#sv)" stroke="#000" stroke-width="0.4" stroke-opacity="0.55"/>
<polygon points="360.5,146.2 349.6,146 349.6,144.6 360.5,144.6" fill="url(#sv)" stroke="#000" stroke-width="0.4" stroke-opacity="0.55"/>
<polygon points="349.6,146 338.8,144.6 338.8,147.3 349.6,144.6" fill="url(#sv)" stroke="#000" stroke-width="0.4" stroke-opacity="0.55"/>
<polygon points="490.7,183 479.8,181 479.8,182.9 490.7,187.5" fill="url(#sv)" stroke="#000" stroke-width="0.4" stroke-opacity="0.55"/>
<polygon points="479.8,181 469,184.3 469,185.9 479.8,182.9" fill="url(#sv)" stroke="#000" stroke-width="0.4" stroke-opacity="0.55"/>
<polygon points="469,184.3 458.1,182.5 458.1,185.1 469,185.9" fill="url(#sv)" stroke="#000" stroke-width="0.4" stroke-opacity="0.55"/>
<polygon points="458.1,182.5 447.3,186.3 447.3,185.3 458.1,185.1" fill="url(#sv)" stroke="#000" stroke-width="0.4" stroke-opacity="0.55"/>
<polygon points="447.3,186.3 436.4,193 436.4,195.3 447.3,185.3" fill="url(#sv)" stroke="#000" stroke-width="0.4" stroke-opacity="0.55"/>
<polygon points="436.4,193 425.6,193.4 425.6,192.7 436.4,195.3" fill="url(#sv)" stroke="#000" stroke-width="0.4" stroke-opacity="0.55"/>
<polygon points="425.6,193.4 414.7,189.6 414.7,184.9 425.6,192.7" fill="url(#sv)" stroke="#000" stroke-width="0.4" stroke-opacity="0.55"/>
<polygon points="414.7,189.6 403.9,188.7 403.9,188.7 414.7,184.9" fill="url(#sv)" stroke="#000" stroke-width="0.4" stroke-opacity="0.55"/>
<polygon points="403.9,188.7 393,186 393,184.2 403.9,188.7" fill="url(#sv)" stroke="#000" stroke-width="0.4" stroke-opacity="0.55"/>
<polygon points="393,186 382.2,174.9 382.2,174.9 393,184.2" fill="url(#sv)" stroke="#000" stroke-width="0.4" stroke-opacity="0.55"/>
<polygon points="382.2,174.9 371.3,165.4 371.3,160.4 382.2,174.9" fill="url(#sv)" stroke="#000" stroke-width="0.4" stroke-opacity="0.55"/>
<polygon points="371.3,165.4 360.5,146.2 360.5,146.2 371.3,160.4" fill="url(#sv)" stroke="#000" stroke-width="0.4" stroke-opacity="0.55"/>
<polygon points="360.5,146.2 349.6,144.6 349.6,146 360.5,146.2" fill="url(#sv)" stroke="#000" stroke-width="0.4" stroke-opacity="0.55"/>
<polygon points="349.6,144.6 338.8,144.6 338.8,144.6 349.6,146" fill="url(#sv)" stroke="#000" stroke-width="0.4" stroke-opacity="0.55"/>
<polygon points="490.7,185.3 479.8,181 479.8,181 490.7,183" fill="url(#sv)" stroke="#000" stroke-width="0.4" stroke-opacity="0.55"/>
<polygon points="479.8,181 469,182.7 469,184.3 479.8,181" fill="url(#sv)" stroke="#000" stroke-width="0.4" stroke-opacity="0.55"/>
<polygon points="469,182.7 458.1,177.3 458.1,182.5 469,184.3" fill="url(#sv)" stroke="#000" stroke-width="0.4" stroke-opacity="0.55"/>
<polygon points="458.1,177.3 447.3,175.2 447.3,186.3 458.1,182.5" fill="url(#sv)" stroke="#000" stroke-width="0.4" stroke-opacity="0.55"/>
<polygon points="447.3,175.2 436.4,188.2 436.4,193 447.3,186.3" fill="url(#sv)" stroke="#000" stroke-width="0.4" stroke-opacity="0.55"/>
<polygon points="436.4,188.2 425.6,187.7 425.6,193.4 436.4,193" fill="url(#sv)" stroke="#000" stroke-width="0.4" stroke-opacity="0.55"/>
<polygon points="425.6,187.7 414.7,186.5 414.7,189.6 425.6,193.4" fill="url(#sv)" stroke="#000" stroke-width="0.4" stroke-opacity="0.55"/>
<polygon points="414.7,186.5 403.9,189.6 403.9,188.7 414.7,189.6" fill="url(#sv)" stroke="#000" stroke-width="0.4" stroke-opacity="0.55"/>
<polygon points="403.9,189.6 393,184.2 393,186 403.9,188.7" fill="url(#sv)" stroke="#000" stroke-width="0.4" stroke-opacity="0.55"/>
<polygon points="393,184.2 382.2,171 382.2,174.9 393,186" fill="url(#sv)" stroke="#000" stroke-width="0.4" stroke-opacity="0.55"/>
<polygon points="382.2,171 371.3,163.7 371.3,165.4 382.2,174.9" fill="url(#sv)" stroke="#000" stroke-width="0.4" stroke-opacity="0.55"/>
<polygon points="371.3,163.7 360.5,144.6 360.5,146.2 371.3,165.4" fill="url(#sv)" stroke="#000" stroke-width="0.4" stroke-opacity="0.55"/>
<polygon points="360.5,144.6 349.6,144.6 349.6,144.6 360.5,146.2" fill="url(#sv)" stroke="#000" stroke-width="0.4" stroke-opacity="0.55"/>
<polygon points="349.6,144.6 338.8,144.6 338.8,144.6 349.6,144.6" fill="url(#sv)" stroke="#000" stroke-width="0.4" stroke-opacity="0.55"/>
<polygon points="490.7,181.9 479.8,180.1 479.8,181 490.7,185.3" fill="url(#sv)" stroke="#000" stroke-width="0.4" stroke-opacity="0.55"/>
<polygon points="479.8,180.1 469,181.1 469,182.7 479.8,181" fill="url(#sv)" stroke="#000" stroke-width="0.4" stroke-opacity="0.55"/>
<polygon points="469,181.1 458.1,172.1 458.1,177.3 469,182.7" fill="url(#sv)" stroke="#000" stroke-width="0.4" stroke-opacity="0.55"/>
<polygon points="458.1,172.1 447.3,164.2 447.3,175.2 458.1,177.3" fill="url(#sv)" stroke="#000" stroke-width="0.4" stroke-opacity="0.55"/>
<polygon points="447.3,164.2 436.4,176.4 436.4,188.2 447.3,175.2" fill="url(#sv)" stroke="#000" stroke-width="0.4" stroke-opacity="0.55"/>
<polygon points="436.4,176.4 425.6,182.1 425.6,187.7 436.4,188.2" fill="url(#sv)" stroke="#000" stroke-width="0.4" stroke-opacity="0.55"/>
<polygon points="425.6,182.1 414.7,180.1 414.7,186.5 425.6,187.7" fill="url(#sv)" stroke="#000" stroke-width="0.4" stroke-opacity="0.55"/>
<polygon points="414.7,180.1 403.9,187.7 403.9,189.6 414.7,186.5" fill="url(#sv)" stroke="#000" stroke-width="0.4" stroke-opacity="0.55"/>
<polygon points="403.9,187.7 393,180.5 393,184.2 403.9,189.6" fill="url(#sv)" stroke="#000" stroke-width="0.4" stroke-opacity="0.55"/>
<polygon points="393,180.5 382.2,166.2 382.2,171 393,184.2" fill="url(#sv)" stroke="#000" stroke-width="0.4" stroke-opacity="0.55"/>
<polygon points="382.2,166.2 371.3,162.1 371.3,163.7 382.2,171" fill="url(#sv)" stroke="#000" stroke-width="0.4" stroke-opacity="0.55"/>
<polygon points="371.3,162.1 360.5,144.6 360.5,144.6 371.3,163.7" fill="url(#sv)" stroke="#000" stroke-width="0.4" stroke-opacity="0.55"/>
<polygon points="360.5,144.6 349.6,144.6 349.6,144.6 360.5,144.6" fill="url(#sv)" stroke="#000" stroke-width="0.4" stroke-opacity="0.55"/>
<polygon points="349.6,144.6 338.8,144.6 338.8,144.6 349.6,144.6" fill="url(#sv)" stroke="#000" stroke-width="0.4" stroke-opacity="0.55"/>
<polygon points="490.7,183 479.8,179.1 479.8,180.1 490.7,181.9" fill="url(#sv)" stroke="#000" stroke-width="0.4" stroke-opacity="0.55"/>
<polygon points="479.8,179.1 469,181.9 469,181.1 479.8,180.1" fill="url(#sv)" stroke="#000" stroke-width="0.4" stroke-opacity="0.55"/>
<polygon points="469,181.9 458.1,175.6 458.1,172.1 469,181.1" fill="url(#sv)" stroke="#000" stroke-width="0.4" stroke-opacity="0.55"/>
<polygon points="458.1,175.6 447.3,169.7 447.3,164.2 458.1,172.1" fill="url(#sv)" stroke="#000" stroke-width="0.4" stroke-opacity="0.55"/>
<polygon points="447.3,169.7 436.4,169.3 436.4,176.4 447.3,164.2" fill="url(#sv)" stroke="#000" stroke-width="0.4" stroke-opacity="0.55"/>
<polygon points="436.4,169.3 425.6,176.4 425.6,182.1 436.4,176.4" fill="url(#sv)" stroke="#000" stroke-width="0.4" stroke-opacity="0.55"/>
<polygon points="425.6,176.4 414.7,175.4 414.7,180.1 425.6,182.1" fill="url(#sv)" stroke="#000" stroke-width="0.4" stroke-opacity="0.55"/>
<polygon points="414.7,175.4 403.9,185.8 403.9,187.7 414.7,180.1" fill="url(#sv)" stroke="#000" stroke-width="0.4" stroke-opacity="0.55"/>
<polygon points="403.9,185.8 393,175 393,180.5 403.9,187.7" fill="url(#sv)" stroke="#000" stroke-width="0.4" stroke-opacity="0.55"/>
<polygon points="393,175 382.2,163.3 382.2,166.2 393,180.5" fill="url(#sv)" stroke="#000" stroke-width="0.4" stroke-opacity="0.55"/>
<polygon points="382.2,163.3 371.3,157.9 371.3,162.1 382.2,166.2" fill="url(#sv)" stroke="#000" stroke-width="0.4" stroke-opacity="0.55"/>
<polygon points="371.3,157.9 360.5,144.6 360.5,144.6 371.3,162.1" fill="url(#sv)" stroke="#000" stroke-width="0.4" stroke-opacity="0.55"/>
<polygon points="360.5,144.6 349.6,144.6 349.6,144.6 360.5,144.6" fill="url(#sv)" stroke="#000" stroke-width="0.4" stroke-opacity="0.55"/>
<polygon points="349.6,144.6 338.8,144.6 338.8,144.6 349.6,144.6" fill="url(#sv)" stroke="#000" stroke-width="0.4" stroke-opacity="0.55"/>
<polygon points="490.7,185.3 479.8,176.3 479.8,179.1 490.7,183" fill="url(#sv)" stroke="#000" stroke-width="0.4" stroke-opacity="0.55"/>
<polygon points="479.8,176.3 469,181.1 469,181.9 479.8,179.1" fill="url(#sv)" stroke="#000" stroke-width="0.4" stroke-opacity="0.55"/>
<polygon points="469,181.1 458.1,179 458.1,175.6 469,181.9" fill="url(#sv)" stroke="#000" stroke-width="0.4" stroke-opacity="0.55"/>
<polygon points="458.1,179 447.3,173.4 447.3,169.7 458.1,175.6" fill="url(#sv)" stroke="#000" stroke-width="0.4" stroke-opacity="0.55"/>
<polygon points="447.3,173.4 436.4,171.7 436.4,169.3 447.3,169.7" fill="url(#sv)" stroke="#000" stroke-width="0.4" stroke-opacity="0.55"/>
<polygon points="436.4,171.7 425.6,172.1 425.6,176.4 436.4,169.3" fill="url(#sv)" stroke="#000" stroke-width="0.4" stroke-opacity="0.55"/>
<polygon points="425.6,172.1 414.7,164.4 414.7,175.4 425.6,176.4" fill="url(#sv)" stroke="#000" stroke-width="0.4" stroke-opacity="0.55"/>
<polygon points="414.7,164.4 403.9,172.6 403.9,185.8 414.7,175.4" fill="url(#sv)" stroke="#000" stroke-width="0.4" stroke-opacity="0.55"/>
<polygon points="403.9,172.6 393,164.8 393,175 403.9,185.8" fill="url(#sv)" stroke="#000" stroke-width="0.4" stroke-opacity="0.55"/>
<polygon points="393,164.8 382.2,158.5 382.2,163.3 393,175" fill="url(#sv)" stroke="#000" stroke-width="0.4" stroke-opacity="0.55"/>
<polygon points="382.2,158.5 371.3,160.4 371.3,157.9 382.2,163.3" fill="url(#sv)" stroke="#000" stroke-width="0.4" stroke-opacity="0.55"/>
<polygon points="371.3,160.4 360.5,146.2 360.5,144.6 371.3,157.9" fill="url(#sv)" stroke="#000" stroke-width="0.4" stroke-opacity="0.55"/>
<polygon points="360.5,146.2 349.6,146 349.6,144.6 360.5,144.6" fill="url(#sv)" stroke="#000" stroke-width="0.4" stroke-opacity="0.55"/>
<polygon points="349.6,146 338.8,147.3 338.8,144.6 349.6,144.6" fill="url(#sv)" stroke="#000" stroke-width="0.4" stroke-opacity="0.55"/>
<polygon points="490.7,183 479.8,177.3 479.8,176.3 490.7,185.3" fill="url(#sv)" stroke="#000" stroke-width="0.4" stroke-opacity="0.55"/>
<polygon points="479.8,177.3 469,181.9 469,181.1 479.8,176.3" fill="url(#sv)" stroke="#000" stroke-width="0.4" stroke-opacity="0.55"/>
<polygon points="469,181.9 458.1,180.8 458.1,179 469,181.1" fill="url(#sv)" stroke="#000" stroke-width="0.4" stroke-opacity="0.55"/>
<polygon points="458.1,180.8 447.3,177.1 447.3,173.4 458.1,179" fill="url(#sv)" stroke="#000" stroke-width="0.4" stroke-opacity="0.55"/>
<polygon points="447.3,177.1 436.4,170.5 436.4,171.7 447.3,173.4" fill="url(#sv)" stroke="#000" stroke-width="0.4" stroke-opacity="0.55"/>
<polygon points="436.4,170.5 425.6,169.3 425.6,172.1 436.4,171.7" fill="url(#sv)" stroke="#000" stroke-width="0.4" stroke-opacity="0.55"/>
<polygon points="425.6,169.3 414.7,163.6 414.7,164.4 425.6,172.1" fill="url(#sv)" stroke="#000" stroke-width="0.4" stroke-opacity="0.55"/>
<polygon points="414.7,163.6 403.9,163.1 403.9,172.6 414.7,164.4" fill="url(#sv)" stroke="#000" stroke-width="0.4" stroke-opacity="0.55"/>
<polygon points="403.9,163.1 393,156.5 393,164.8 403.9,172.6" fill="url(#sv)" stroke="#000" stroke-width="0.4" stroke-opacity="0.55"/>
<polygon points="393,156.5 382.2,157.5 382.2,158.5 393,164.8" fill="url(#sv)" stroke="#000" stroke-width="0.4" stroke-opacity="0.55"/>
<polygon points="382.2,157.5 371.3,162.1 371.3,160.4 382.2,158.5" fill="url(#sv)" stroke="#000" stroke-width="0.4" stroke-opacity="0.55"/>
<polygon points="371.3,162.1 360.5,149.8 360.5,146.2 371.3,160.4" fill="url(#sv)" stroke="#000" stroke-width="0.4" stroke-opacity="0.55"/>
<polygon points="360.5,149.8 349.6,148.3 349.6,146 360.5,146.2" fill="url(#sv)" stroke="#000" stroke-width="0.4" stroke-opacity="0.55"/>
<polygon points="349.6,148.3 338.8,148.6 338.8,147.3 349.6,146" fill="url(#sv)" stroke="#000" stroke-width="0.4" stroke-opacity="0.55"/>
<polygon points="490.7,185.3 479.8,180.1 479.8,177.3 490.7,183" fill="url(#sv)" stroke="#000" stroke-width="0.4" stroke-opacity="0.55"/>
<polygon points="479.8,180.1 469,183.5 469,181.9 479.8,177.3" fill="url(#sv)" stroke="#000" stroke-width="0.4" stroke-opacity="0.55"/>
<polygon points="469,183.5 458.1,182.5 458.1,180.8 469,181.9" fill="url(#sv)" stroke="#000" stroke-width="0.4" stroke-opacity="0.55"/>
<polygon points="458.1,182.5 447.3,178.9 447.3,177.1 458.1,180.8" fill="url(#sv)" stroke="#000" stroke-width="0.4" stroke-opacity="0.55"/>
<polygon points="447.3,178.9 436.4,174 436.4,170.5 447.3,177.1" fill="url(#sv)" stroke="#000" stroke-width="0.4" stroke-opacity="0.55"/>
<polygon points="436.4,174 425.6,170 425.6,169.3 436.4,170.5" fill="url(#sv)" stroke="#000" stroke-width="0.4" stroke-opacity="0.55"/>
<polygon points="425.6,170 414.7,165.1 414.7,163.6 425.6,169.3" fill="url(#sv)" stroke="#000" stroke-width="0.4" stroke-opacity="0.55"/>
<polygon points="414.7,165.1 403.9,168.8 403.9,163.1 414.7,163.6" fill="url(#sv)" stroke="#000" stroke-width="0.4" stroke-opacity="0.55"/>
<polygon points="403.9,168.8 393,160.2 393,156.5 403.9,163.1" fill="url(#sv)" stroke="#000" stroke-width="0.4" stroke-opacity="0.55"/>
<polygon points="393,160.2 382.2,160.4 382.2,157.5 393,156.5" fill="url(#sv)" stroke="#000" stroke-width="0.4" stroke-opacity="0.55"/>
<polygon points="382.2,160.4 371.3,163.7 371.3,162.1 382.2,157.5" fill="url(#sv)" stroke="#000" stroke-width="0.4" stroke-opacity="0.55"/>
<polygon points="371.3,163.7 360.5,152.2 360.5,149.8 371.3,162.1" fill="url(#sv)" stroke="#000" stroke-width="0.4" stroke-opacity="0.55"/>
<polygon points="360.5,152.2 349.6,150.6 349.6,148.3 360.5,149.8" fill="url(#sv)" stroke="#000" stroke-width="0.4" stroke-opacity="0.55"/>
<polygon points="349.6,150.6 338.8,148.6 338.8,148.6 349.6,148.3" fill="url(#sv)" stroke="#000" stroke-width="0.4" stroke-opacity="0.55"/>
</g>
<path d="M336.6 129.5V211.4H488.5" stroke="#262626" stroke-width="0.6" fill="none"/>
<line x1="336.6" y1="211.4" x2="334.40000000000003" y2="211.4" stroke="#262626" stroke-width="0.6" fill="none"/>
<line x1="336.6" y1="195" x2="334.40000000000003" y2="195" stroke="#262626" stroke-width="0.6" fill="none"/>
<line x1="336.6" y1="178.6" x2="334.40000000000003" y2="178.6" stroke="#262626" stroke-width="0.6" fill="none"/>
<line x1="336.6" y1="162.3" x2="334.40000000000003" y2="162.3" stroke="#262626" stroke-width="0.6" fill="none"/>
<line x1="336.6" y1="145.9" x2="334.40000000000003" y2="145.9" stroke="#262626" stroke-width="0.6" fill="none"/>
<line x1="336.6" y1="129.5" x2="334.40000000000003" y2="129.5" stroke="#262626" stroke-width="0.6" fill="none"/>
<line x1="488.5" y1="211.4" x2="490.7" y2="211.4" stroke="#bbb" stroke-width="0.5"/>
<line x1="488.5" y1="195" x2="490.7" y2="195" stroke="#bbb" stroke-width="0.5"/>
<line x1="488.5" y1="178.6" x2="490.7" y2="178.6" stroke="#bbb" stroke-width="0.5"/>
<line x1="488.5" y1="162.3" x2="490.7" y2="162.3" stroke="#bbb" stroke-width="0.5"/>
<line x1="488.5" y1="145.9" x2="490.7" y2="145.9" stroke="#bbb" stroke-width="0.5"/>
<line x1="488.5" y1="129.5" x2="490.7" y2="129.5" stroke="#bbb" stroke-width="0.5"/>
<line x1="336.6" y1="129.5" x2="336.6" y2="127.3" stroke="#bbb" stroke-width="0.5"/>
<line x1="390.9" y1="129.5" x2="390.9" y2="127.3" stroke="#bbb" stroke-width="0.5"/>
<line x1="445.1" y1="129.5" x2="445.1" y2="127.3" stroke="#bbb" stroke-width="0.5"/>
<line x1="488.5" y1="129.5" x2="488.5" y2="127.3" stroke="#bbb" stroke-width="0.5"/>
<line x1="336.6" y1="211.4" x2="336.6" y2="213.6" stroke="#262626" stroke-width="0.6" fill="none"/>
<line x1="390.9" y1="211.4" x2="390.9" y2="213.6" stroke="#262626" stroke-width="0.6" fill="none"/>
<line x1="445.1" y1="211.4" x2="445.1" y2="213.6" stroke="#262626" stroke-width="0.6" fill="none"/>
<line x1="488.5" y1="211.4" x2="488.5" y2="213.6" stroke="#262626" stroke-width="0.6" fill="none"/>
<rect x="514.4" y="23.0" width="10" height="183.5" fill="url(#cbg)"/>
<text x="30.6" y="160.4" text-anchor="end" font-size="10">0</text>
<text x="30.6" y="141.6" text-anchor="end" font-size="10">1</text>
<text x="30.6" y="122.8" text-anchor="end" font-size="10">2</text>
<text x="30.6" y="104" text-anchor="end" font-size="10">3</text>
<text x="30.6" y="85.2" text-anchor="end" font-size="10">4</text>
<text x="30.6" y="66.4" text-anchor="end" font-size="10">5</text>
<text x="26.3" y="169.7" text-anchor="middle" font-size="10">15</text>
<text x="70.6" y="186.2" text-anchor="middle" font-size="10">10</text>
<text x="114.6" y="202.5" text-anchor="middle" font-size="10">5</text>
<text x="150.1" y="217.5" text-anchor="middle" font-size="10">1</text>
<text x="167" y="216.4" text-anchor="middle" font-size="10">1</text>
<text x="204.8" y="204" text-anchor="middle" font-size="10">5</text>
<text x="253.8" y="188.6" text-anchor="middle" font-size="10">10</text>
<text x="300.5" y="172.4" text-anchor="middle" font-size="10">15</text>
<text x="18.2" y="106" text-anchor="middle" font-size="10.7" transform="rotate(-90 18.2 106)">Depth(mm)</text>
<text x="82" y="201" text-anchor="middle" font-size="9.8" transform="rotate(22.5 82 201)">Feature points in</text>
<text x="79" y="213" text-anchor="middle" font-size="9.8" transform="rotate(22.5 79 213)">Direction &quot;x&quot;</text>
<text x="235" y="204" text-anchor="middle" font-size="9.8" transform="rotate(-19 235 204)">Feature points in</text>
<text x="237.7" y="215.5" text-anchor="middle" font-size="9.8" transform="rotate(-19 237.7 215.5)">Direction &quot;y&quot;</text>
<text x="334" y="22.4" text-anchor="end" font-size="10">15</text>
<text x="334" y="49.3" text-anchor="end" font-size="10">10</text>
<text x="334" y="76.1" text-anchor="end" font-size="10">5</text>
<text x="334" y="97.6" text-anchor="end" font-size="10">1</text>
<text x="336.6" y="106.4" text-anchor="middle" font-size="10">1</text>
<text x="379.5" y="106.4" text-anchor="middle" font-size="10">5</text>
<text x="435" y="106.4" text-anchor="middle" font-size="10">10</text>
<text x="489" y="106.4" text-anchor="middle" font-size="10">15</text>
<text x="411" y="116" text-anchor="middle" font-size="9.8">Feature points in Direction &quot;y&quot;</text>
<text x="310.8" y="57.4" text-anchor="middle" font-size="9.8" transform="rotate(-90 310.8 57.4)">Feature points in</text>
<text x="320.2" y="57.4" text-anchor="middle" font-size="9.8" transform="rotate(-90 320.2 57.4)">Direction &quot;x&quot;</text>
<text x="332.4" y="214.8" text-anchor="end" font-size="10">0</text>
<text x="332.4" y="198.4" text-anchor="end" font-size="10">1</text>
<text x="332.4" y="182" text-anchor="end" font-size="10">2</text>
<text x="332.4" y="165.7" text-anchor="end" font-size="10">3</text>
<text x="332.4" y="149.3" text-anchor="end" font-size="10">4</text>
<text x="332.4" y="132.9" text-anchor="end" font-size="10">5</text>
<text x="336.2" y="227.8" text-anchor="middle" font-size="10">15</text>
<text x="390.3" y="227.8" text-anchor="middle" font-size="10">10</text>
<text x="445" y="227.8" text-anchor="middle" font-size="10">5</text>
<text x="487.5" y="227.8" text-anchor="middle" font-size="10">1</text>
<text x="410.6" y="240" text-anchor="middle" font-size="9.8">Feature points in Direction &quot;x&quot;</text>
<text x="320.3" y="172.2" text-anchor="middle" font-size="11" transform="rotate(-90 320.3 172.2)">Depth(mm)</text>
<text x="527" y="210.9" text-anchor="start" font-size="10">0</text>
<text x="527" y="188" text-anchor="start" font-size="10">0.5</text>
<text x="527" y="165" text-anchor="start" font-size="10">1</text>
<text x="527" y="142.1" text-anchor="start" font-size="10">1.5</text>
<text x="527" y="119.2" text-anchor="start" font-size="10">2</text>
<text x="527" y="96.2" text-anchor="start" font-size="10">2.5</text>
<text x="527" y="73.3" text-anchor="start" font-size="10">3</text>
<text x="527" y="50.3" text-anchor="start" font-size="10">3.5</text>
<text x="527" y="27.4" text-anchor="start" font-size="10">4</text>
<text x="521.5" y="15.5" text-anchor="middle" font-size="9.8">(mm)</text>
</svg></body></html>
